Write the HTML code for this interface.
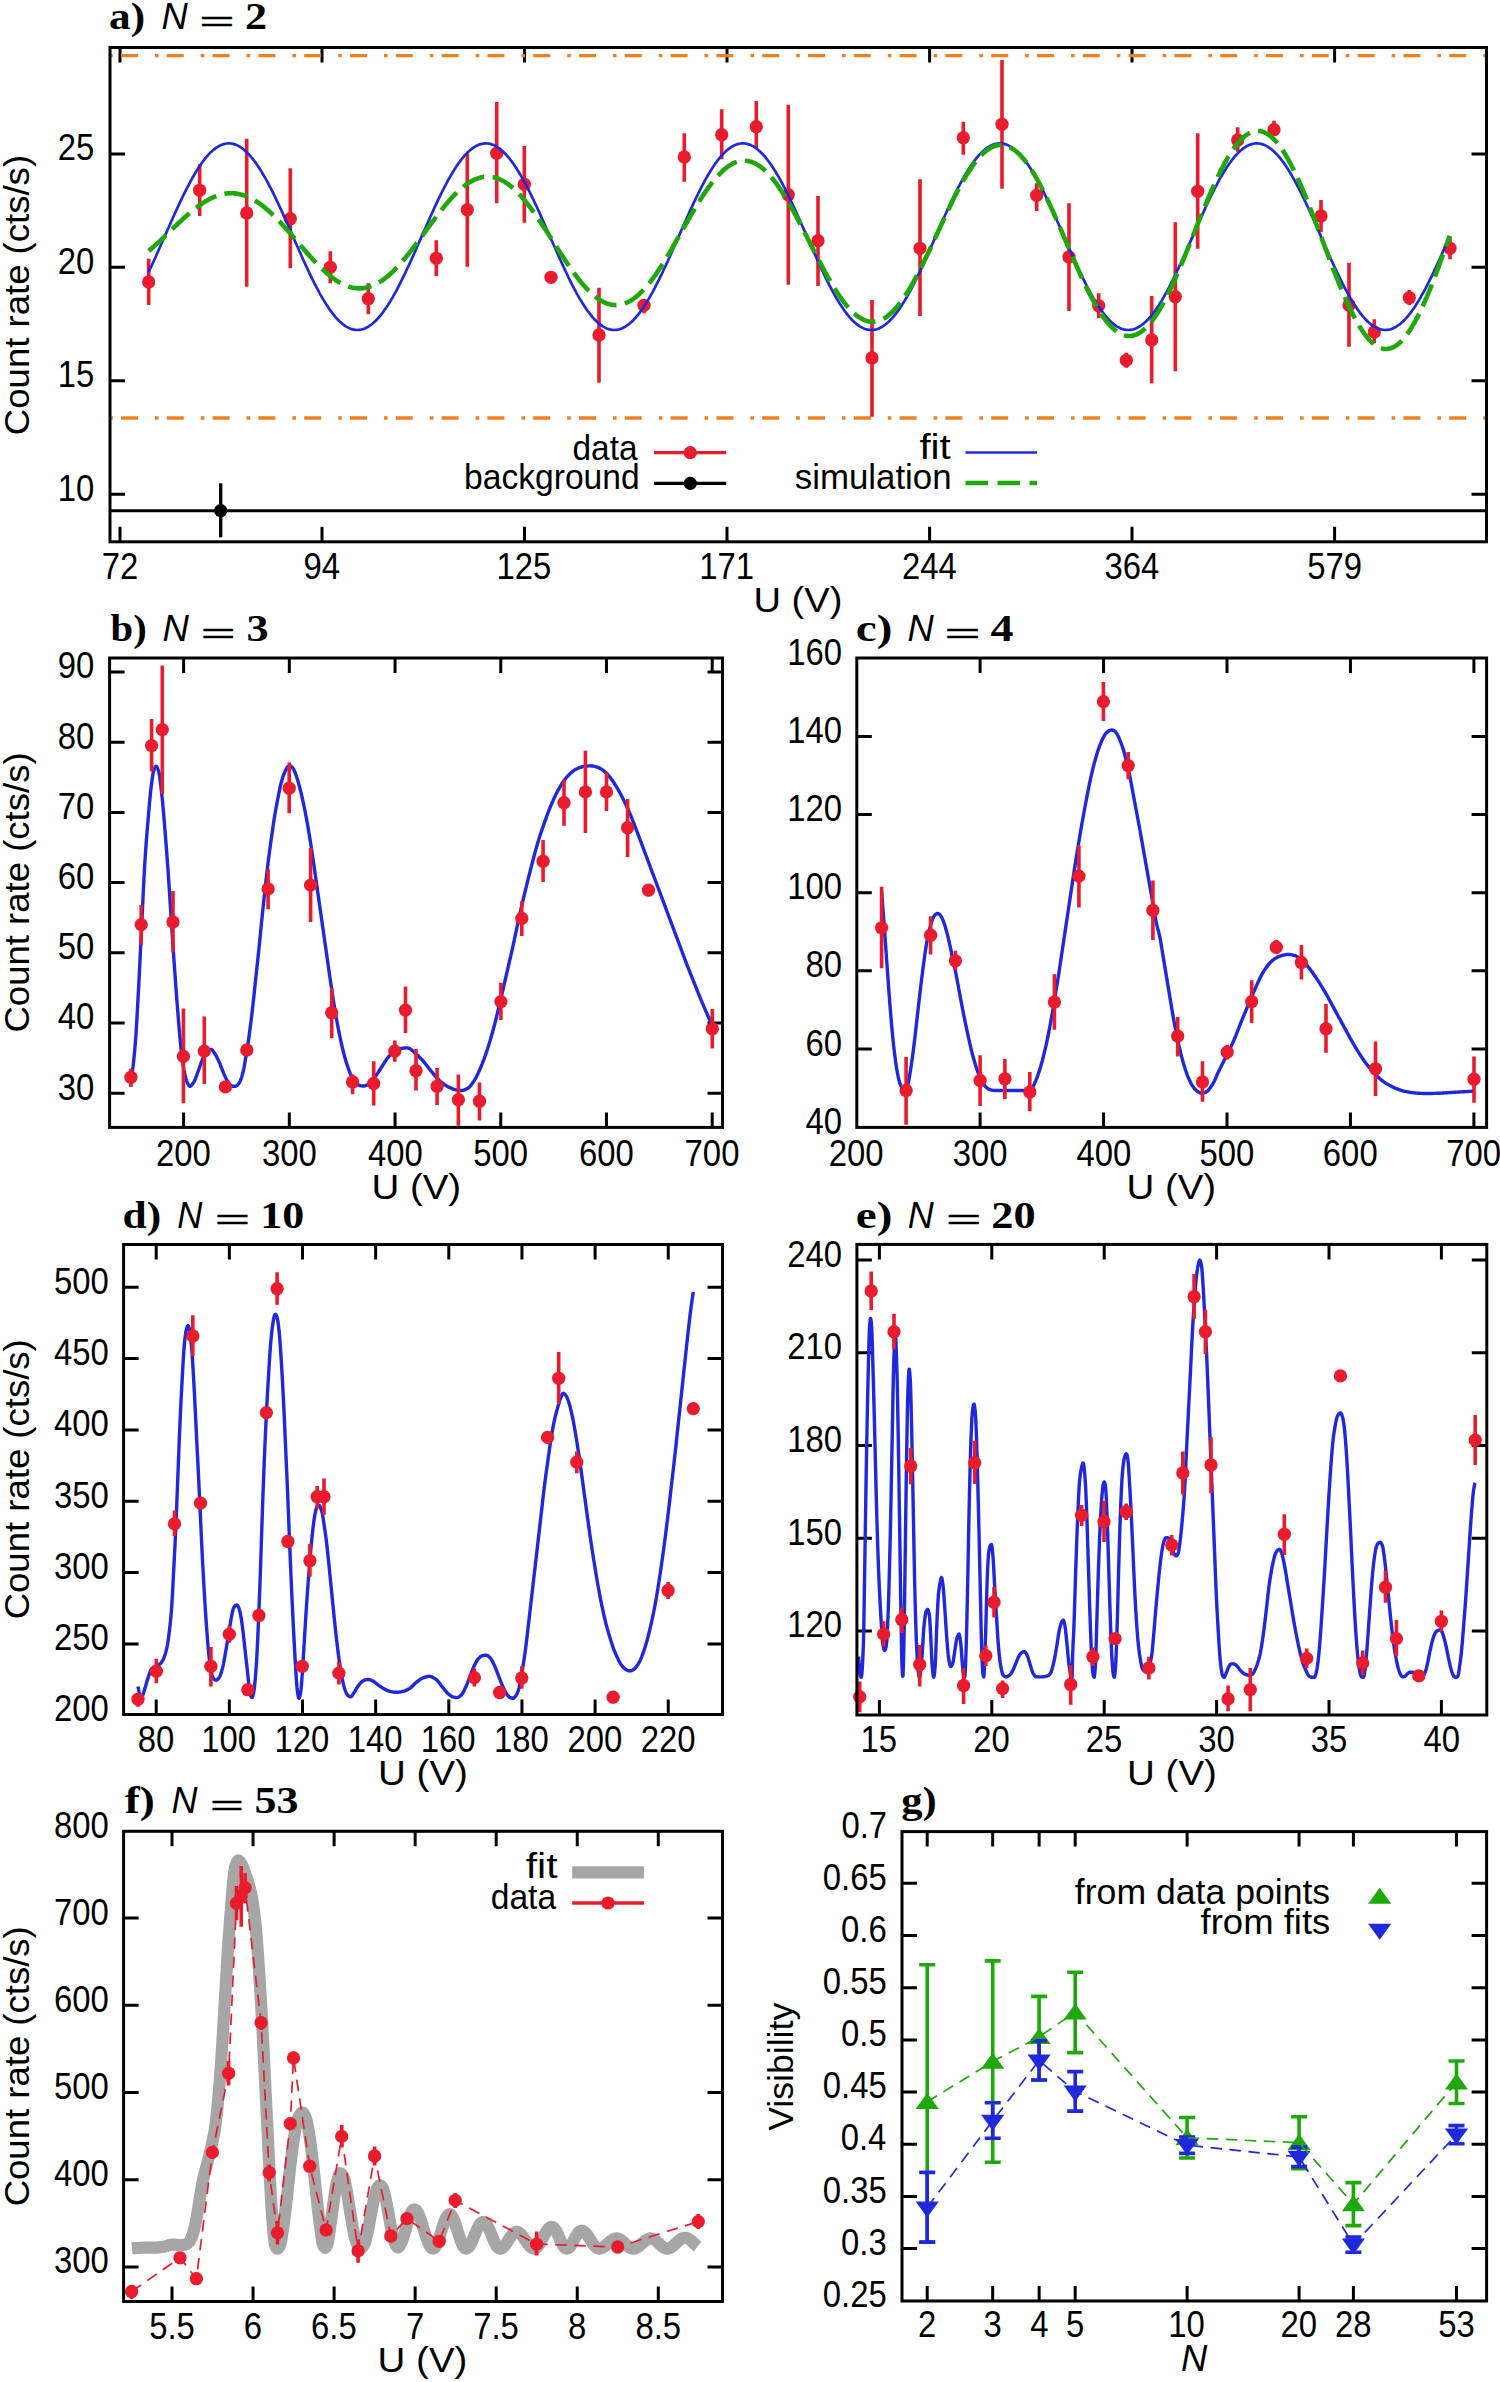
<!DOCTYPE html>
<html><head><meta charset="utf-8"><title>Figure</title>
<style>html,body{margin:0;padding:0;background:#fff}svg{display:block}text{white-space:pre}</style></head>
<body><svg width="1500" height="2382" viewBox="0 0 1500 2382">
<rect width="1500" height="2382" fill="#fff"/>
<path d="M120.00 541.80v-15M322.00 541.80v-15M524.50 541.80v-15M727.00 541.80v-15M929.60 541.80v-15M1132.00 541.80v-15M1334.60 541.80v-15M120.00 47.50v15M322.00 47.50v15M524.50 47.50v15M727.00 47.50v15M929.60 47.50v15M1132.00 47.50v15M1334.60 47.50v15M110.00 154.00h15M110.00 267.30h15M110.00 380.80h15M110.00 494.30h15M1486.50 154.00h-15M1486.50 267.30h-15M1486.50 380.80h-15M1486.50 494.30h-15" stroke="#000" stroke-width="3" fill="none"/>
<path d="M110.0 55.7H1486.5" stroke="#f0801f" stroke-width="3.3" stroke-dasharray="17 17 3.6 8.2" stroke-dashoffset="34.8" fill="none"/>
<path d="M110.0 418.0H1486.5" stroke="#f0801f" stroke-width="3.3" stroke-dasharray="17 17 3.6 8.2" stroke-dashoffset="34.8" fill="none"/>
<path d="M110.0 510.7H1486.5" stroke="#000" stroke-width="3.0" fill="none"/>
<path d="M220.7 483.3V537.3" stroke="#000" stroke-width="3.3" fill="none"/>
<circle cx="220.7" cy="510.7" r="6.6" fill="#000"/>
<path d="M148.7 258.7V305.0M199.7 164.3V216.0M246.7 138.7V286.7M290.3 168.3V268.3M330.3 251.3V283.3M368.3 283.3V314.3M436.3 240.3V276.0M467.3 153.3V266.7M496.7 102.0V203.3M524.3 146.0V222.7M599.0 287.7V382.7M644.0 300.0V313.3M684.3 133.3V181.7M721.7 109.3V159.3M756.3 101.0V148.3M788.3 104.7V284.7M818.0 196.0V286.0M872.0 300.0V416.7M920.0 179.3V316.0M963.3 121.7V154.7M1002.0 60.0V188.7M1036.7 183.3V211.0M1069.0 203.3V311.0M1098.7 293.3V318.3M1126.3 352.7V367.7M1151.7 296.0V383.3M1175.3 222.3V371.3M1197.7 133.3V248.7M1237.7 127.3V151.7M1274.0 120.7V136.0M1321.0 200.0V232.0M1349.0 262.7V346.7M1374.3 319.3V343.3M1409.3 290.0V305.0M1450.0 236.7V259.3" stroke="#ea1b2d" stroke-width="3.6" fill="none"/>
<circle cx="148.7" cy="282.0" r="6.65" fill="#ea1b2d"/>
<circle cx="199.7" cy="190.3" r="6.65" fill="#ea1b2d"/>
<circle cx="246.7" cy="213.0" r="6.65" fill="#ea1b2d"/>
<circle cx="290.3" cy="218.7" r="6.65" fill="#ea1b2d"/>
<circle cx="330.3" cy="267.3" r="6.65" fill="#ea1b2d"/>
<circle cx="368.3" cy="298.7" r="6.65" fill="#ea1b2d"/>
<circle cx="436.3" cy="258.3" r="6.65" fill="#ea1b2d"/>
<circle cx="467.3" cy="209.7" r="6.65" fill="#ea1b2d"/>
<circle cx="496.7" cy="153.3" r="6.65" fill="#ea1b2d"/>
<circle cx="524.3" cy="184.3" r="6.65" fill="#ea1b2d"/>
<circle cx="551.0" cy="277.3" r="6.65" fill="#ea1b2d"/>
<circle cx="599.0" cy="335.0" r="6.65" fill="#ea1b2d"/>
<circle cx="644.0" cy="305.3" r="6.65" fill="#ea1b2d"/>
<circle cx="684.3" cy="157.0" r="6.65" fill="#ea1b2d"/>
<circle cx="721.7" cy="134.7" r="6.65" fill="#ea1b2d"/>
<circle cx="756.3" cy="126.7" r="6.65" fill="#ea1b2d"/>
<circle cx="788.3" cy="194.7" r="6.65" fill="#ea1b2d"/>
<circle cx="818.0" cy="240.7" r="6.65" fill="#ea1b2d"/>
<circle cx="872.0" cy="358.0" r="6.65" fill="#ea1b2d"/>
<circle cx="920.0" cy="248.3" r="6.65" fill="#ea1b2d"/>
<circle cx="963.3" cy="137.7" r="6.65" fill="#ea1b2d"/>
<circle cx="1002.0" cy="124.3" r="6.65" fill="#ea1b2d"/>
<circle cx="1036.7" cy="195.3" r="6.65" fill="#ea1b2d"/>
<circle cx="1069.0" cy="257.0" r="6.65" fill="#ea1b2d"/>
<circle cx="1098.7" cy="305.7" r="6.65" fill="#ea1b2d"/>
<circle cx="1126.3" cy="360.3" r="6.65" fill="#ea1b2d"/>
<circle cx="1151.7" cy="340.0" r="6.65" fill="#ea1b2d"/>
<circle cx="1175.3" cy="296.7" r="6.65" fill="#ea1b2d"/>
<circle cx="1197.7" cy="191.3" r="6.65" fill="#ea1b2d"/>
<circle cx="1237.7" cy="140.0" r="6.65" fill="#ea1b2d"/>
<circle cx="1274.0" cy="129.7" r="6.65" fill="#ea1b2d"/>
<circle cx="1321.0" cy="216.0" r="6.65" fill="#ea1b2d"/>
<circle cx="1349.0" cy="305.0" r="6.65" fill="#ea1b2d"/>
<circle cx="1374.3" cy="332.0" r="6.65" fill="#ea1b2d"/>
<circle cx="1409.3" cy="297.7" r="6.65" fill="#ea1b2d"/>
<circle cx="1450.0" cy="248.3" r="6.65" fill="#ea1b2d"/>
<path d="M148.7 272.0L149.7 269.8L150.7 267.7L151.7 265.5L152.7 263.4L153.7 261.2L154.7 259.0L155.7 256.7L156.7 254.5L157.7 252.3L158.7 250.0L159.7 247.7L160.7 245.5L161.7 243.2L162.7 240.9L163.7 238.6L164.7 236.4L165.7 234.1L166.7 231.8L167.7 229.5L168.7 227.3L169.7 225.0L170.7 222.7L171.7 220.5L172.7 218.2L173.7 216.0L174.7 213.8L175.7 211.6L176.7 209.4L177.7 207.2L178.7 205.1L179.7 202.9L180.7 200.8L181.7 198.7L182.7 196.6L183.7 194.6L184.7 192.6L185.7 190.6L186.7 188.6L187.7 186.7L188.7 184.8L189.7 182.9L190.7 181.0L191.7 179.2L192.7 177.4L193.7 175.7L194.7 174.0L195.7 172.3L196.7 170.7L197.7 169.1L198.7 167.5L199.7 166.0L200.7 164.6L201.7 163.1L202.7 161.8L203.7 160.4L204.7 159.1L205.7 157.9L206.7 156.7L207.7 155.5L208.7 154.4L209.7 153.4L210.7 152.4L211.7 151.4L212.7 150.5L213.7 149.7L214.7 148.9L215.7 148.1L216.7 147.5L217.7 146.8L218.7 146.2L219.7 145.7L220.7 145.2L221.7 144.8L222.7 144.4L223.7 144.1L224.7 143.9L225.7 143.7L226.7 143.5L227.7 143.4L228.7 143.4L229.7 143.4L230.7 143.5L231.7 143.6L232.7 143.8L233.7 144.1L234.7 144.4L235.7 144.7L236.7 145.1L237.7 145.6L238.7 146.1L239.7 146.7L240.7 147.3L241.7 148.0L242.7 148.7L243.7 149.5L244.7 150.4L245.7 151.3L246.7 152.2L247.7 153.2L248.7 154.2L249.7 155.3L250.7 156.5L251.7 157.6L252.7 158.9L253.7 160.2L254.7 161.5L255.7 162.9L256.7 164.3L257.7 165.7L258.7 167.2L259.7 168.8L260.7 170.4L261.7 172.0L262.7 173.7L263.7 175.4L264.7 177.1L265.7 178.9L266.7 180.7L267.7 182.5L268.7 184.4L269.7 186.3L270.7 188.2L271.7 190.2L272.7 192.2L273.7 194.2L274.7 196.2L275.7 198.3L276.7 200.4L277.7 202.5L278.7 204.6L279.7 206.8L280.7 209.0L281.7 211.1L282.7 213.3L283.7 215.6L284.7 217.8L285.7 220.0L286.7 222.3L287.7 224.5L288.7 226.8L289.7 229.1L290.7 231.3L291.7 233.6L292.7 235.9L293.7 238.2L294.7 240.5L295.7 242.7L296.7 245.0L297.7 247.3L298.7 249.5L299.7 251.8L300.7 254.0L301.7 256.3L302.7 258.5L303.7 260.7L304.7 262.9L305.7 265.1L306.7 267.3L307.7 269.4L308.7 271.5L309.7 273.6L310.7 275.7L311.7 277.8L312.7 279.8L313.7 281.8L314.7 283.8L315.7 285.8L316.7 287.7L317.7 289.6L318.7 291.4L319.7 293.3L320.7 295.1L321.7 296.8L322.7 298.6L323.7 300.3L324.7 301.9L325.7 303.5L326.7 305.1L327.7 306.6L328.7 308.1L329.7 309.6L330.7 311.0L331.7 312.3L332.7 313.6L333.7 314.9L334.7 316.1L335.7 317.3L336.7 318.4L337.7 319.5L338.7 320.5L339.7 321.5L340.7 322.4L341.7 323.3L342.7 324.1L343.7 324.9L344.7 325.6L345.7 326.3L346.7 326.9L347.7 327.4L348.7 327.9L349.7 328.4L350.7 328.8L351.7 329.1L352.7 329.4L353.7 329.6L354.7 329.8L355.7 329.9L356.7 330.0L357.7 330.0L358.7 329.9L359.7 329.8L360.7 329.7L361.7 329.5L362.7 329.2L363.7 328.9L364.7 328.5L365.7 328.0L366.7 327.5L367.7 327.0L368.7 326.4L369.7 325.7L370.7 325.0L371.7 324.3L372.7 323.5L373.7 322.6L374.7 321.7L375.7 320.7L376.7 319.7L377.7 318.6L378.7 317.5L379.7 316.4L380.7 315.1L381.7 313.9L382.7 312.6L383.7 311.2L384.7 309.8L385.7 308.4L386.7 306.9L387.7 305.4L388.7 303.8L389.7 302.2L390.7 300.6L391.7 298.9L392.7 297.2L393.7 295.4L394.7 293.6L395.7 291.8L396.7 290.0L397.7 288.1L398.7 286.2L399.7 284.2L400.7 282.2L401.7 280.2L402.7 278.2L403.7 276.1L404.7 274.1L405.7 272.0L406.7 269.8L407.7 267.7L408.7 265.5L409.7 263.4L410.7 261.2L411.7 259.0L412.7 256.7L413.7 254.5L414.7 252.3L415.7 250.0L416.7 247.7L417.7 245.5L418.7 243.2L419.7 240.9L420.7 238.6L421.7 236.4L422.7 234.1L423.7 231.8L424.7 229.5L425.7 227.3L426.7 225.0L427.7 222.7L428.7 220.5L429.7 218.2L430.7 216.0L431.7 213.8L432.7 211.6L433.7 209.4L434.7 207.2L435.7 205.1L436.7 202.9L437.7 200.8L438.7 198.7L439.7 196.6L440.7 194.6L441.7 192.6L442.7 190.6L443.7 188.6L444.7 186.7L445.7 184.8L446.7 182.9L447.7 181.0L448.7 179.2L449.7 177.4L450.7 175.7L451.7 174.0L452.7 172.3L453.7 170.7L454.7 169.1L455.7 167.5L456.7 166.0L457.7 164.6L458.7 163.1L459.7 161.8L460.7 160.4L461.7 159.1L462.7 157.9L463.7 156.7L464.7 155.5L465.7 154.4L466.7 153.4L467.7 152.4L468.7 151.4L469.7 150.5L470.7 149.7L471.7 148.9L472.7 148.1L473.7 147.5L474.7 146.8L475.7 146.2L476.7 145.7L477.7 145.2L478.7 144.8L479.7 144.4L480.7 144.1L481.7 143.9L482.7 143.7L483.7 143.5L484.7 143.4L485.7 143.4L486.7 143.4L487.7 143.5L488.7 143.6L489.7 143.8L490.7 144.1L491.7 144.4L492.7 144.7L493.7 145.1L494.7 145.6L495.7 146.1L496.7 146.7L497.7 147.3L498.7 148.0L499.7 148.7L500.7 149.5L501.7 150.4L502.7 151.3L503.7 152.2L504.7 153.2L505.7 154.2L506.7 155.3L507.7 156.5L508.7 157.6L509.7 158.9L510.7 160.2L511.7 161.5L512.7 162.9L513.7 164.3L514.7 165.7L515.7 167.2L516.7 168.8L517.7 170.4L518.7 172.0L519.7 173.7L520.7 175.4L521.7 177.1L522.7 178.9L523.7 180.7L524.7 182.5L525.7 184.4L526.7 186.3L527.7 188.2L528.7 190.2L529.7 192.2L530.7 194.2L531.7 196.2L532.7 198.3L533.7 200.4L534.7 202.5L535.7 204.6L536.7 206.8L537.7 209.0L538.7 211.1L539.7 213.3L540.7 215.6L541.7 217.8L542.7 220.0L543.7 222.3L544.7 224.5L545.7 226.8L546.7 229.1L547.7 231.3L548.7 233.6L549.7 235.9L550.7 238.2L551.7 240.5L552.7 242.7L553.7 245.0L554.7 247.3L555.7 249.5L556.7 251.8L557.7 254.0L558.7 256.3L559.7 258.5L560.7 260.7L561.7 262.9L562.7 265.1L563.7 267.3L564.7 269.4L565.7 271.5L566.7 273.6L567.7 275.7L568.7 277.8L569.7 279.8L570.7 281.8L571.7 283.8L572.7 285.8L573.7 287.7L574.7 289.6L575.7 291.4L576.7 293.3L577.7 295.1L578.7 296.8L579.7 298.6L580.7 300.3L581.7 301.9L582.7 303.5L583.7 305.1L584.7 306.6L585.7 308.1L586.7 309.6L587.7 311.0L588.7 312.3L589.7 313.6L590.7 314.9L591.7 316.1L592.7 317.3L593.7 318.4L594.7 319.5L595.7 320.5L596.7 321.5L597.7 322.4L598.7 323.3L599.7 324.1L600.7 324.9L601.7 325.6L602.7 326.3L603.7 326.9L604.7 327.4L605.7 327.9L606.7 328.4L607.7 328.8L608.7 329.1L609.7 329.4L610.7 329.6L611.7 329.8L612.7 329.9L613.7 330.0L614.7 330.0L615.7 329.9L616.7 329.8L617.7 329.7L618.7 329.5L619.7 329.2L620.7 328.9L621.7 328.5L622.7 328.0L623.7 327.5L624.7 327.0L625.7 326.4L626.7 325.7L627.7 325.0L628.7 324.3L629.7 323.5L630.7 322.6L631.7 321.7L632.7 320.7L633.7 319.7L634.7 318.6L635.7 317.5L636.7 316.4L637.7 315.1L638.7 313.9L639.7 312.6L640.7 311.2L641.7 309.8L642.7 308.4L643.7 306.9L644.7 305.4L645.7 303.8L646.7 302.2L647.7 300.6L648.7 298.9L649.7 297.2L650.7 295.4L651.7 293.6L652.7 291.8L653.7 290.0L654.7 288.1L655.7 286.2L656.7 284.2L657.7 282.2L658.7 280.2L659.7 278.2L660.7 276.1L661.7 274.1L662.7 272.0L663.7 269.8L664.7 267.7L665.7 265.5L666.7 263.4L667.7 261.2L668.7 259.0L669.7 256.7L670.7 254.5L671.7 252.3L672.7 250.0L673.7 247.7L674.7 245.5L675.7 243.2L676.7 240.9L677.7 238.6L678.7 236.4L679.7 234.1L680.7 231.8L681.7 229.5L682.7 227.3L683.7 225.0L684.7 222.7L685.7 220.5L686.7 218.2L687.7 216.0L688.7 213.8L689.7 211.6L690.7 209.4L691.7 207.2L692.7 205.1L693.7 202.9L694.7 200.8L695.7 198.7L696.7 196.6L697.7 194.6L698.7 192.6L699.7 190.6L700.7 188.6L701.7 186.7L702.7 184.8L703.7 182.9L704.7 181.0L705.7 179.2L706.7 177.4L707.7 175.7L708.7 174.0L709.7 172.3L710.7 170.7L711.7 169.1L712.7 167.5L713.7 166.0L714.7 164.6L715.7 163.1L716.7 161.8L717.7 160.4L718.7 159.1L719.7 157.9L720.7 156.7L721.7 155.5L722.7 154.4L723.7 153.4L724.7 152.4L725.7 151.4L726.7 150.5L727.7 149.7L728.7 148.9L729.7 148.1L730.7 147.5L731.7 146.8L732.7 146.2L733.7 145.7L734.7 145.2L735.7 144.8L736.7 144.4L737.7 144.1L738.7 143.9L739.7 143.7L740.7 143.5L741.7 143.4L742.7 143.4L743.7 143.4L744.7 143.5L745.7 143.6L746.7 143.8L747.7 144.1L748.7 144.4L749.7 144.7L750.7 145.1L751.7 145.6L752.7 146.1L753.7 146.7L754.7 147.3L755.7 148.0L756.7 148.7L757.7 149.5L758.7 150.4L759.7 151.3L760.7 152.2L761.7 153.2L762.7 154.2L763.7 155.3L764.7 156.5L765.7 157.6L766.7 158.9L767.7 160.2L768.7 161.5L769.7 162.9L770.7 164.3L771.7 165.7L772.7 167.2L773.7 168.8L774.7 170.4L775.7 172.0L776.7 173.7L777.7 175.4L778.7 177.1L779.7 178.9L780.7 180.7L781.7 182.5L782.7 184.4L783.7 186.3L784.7 188.2L785.7 190.2L786.7 192.2L787.7 194.2L788.7 196.2L789.7 198.3L790.7 200.4L791.7 202.5L792.7 204.6L793.7 206.8L794.7 209.0L795.7 211.1L796.7 213.3L797.7 215.6L798.7 217.8L799.7 220.0L800.7 222.3L801.7 224.5L802.7 226.8L803.7 229.1L804.7 231.3L805.7 233.6L806.7 235.9L807.7 238.2L808.7 240.5L809.7 242.7L810.7 245.0L811.7 247.3L812.7 249.5L813.7 251.8L814.7 254.0L815.7 256.3L816.7 258.5L817.7 260.7L818.7 262.9L819.7 265.1L820.7 267.3L821.7 269.4L822.7 271.5L823.7 273.6L824.7 275.7L825.7 277.8L826.7 279.8L827.7 281.8L828.7 283.8L829.7 285.8L830.7 287.7L831.7 289.6L832.7 291.4L833.7 293.3L834.7 295.1L835.7 296.8L836.7 298.6L837.7 300.3L838.7 301.9L839.7 303.5L840.7 305.1L841.7 306.6L842.7 308.1L843.7 309.6L844.7 311.0L845.7 312.3L846.7 313.6L847.7 314.9L848.7 316.1L849.7 317.3L850.7 318.4L851.7 319.5L852.7 320.5L853.7 321.5L854.7 322.4L855.7 323.3L856.7 324.1L857.7 324.9L858.7 325.6L859.7 326.3L860.7 326.9L861.7 327.4L862.7 327.9L863.7 328.4L864.7 328.8L865.7 329.1L866.7 329.4L867.7 329.6L868.7 329.8L869.7 329.9L870.7 330.0L871.7 330.0L872.7 329.9L873.7 329.8L874.7 329.7L875.7 329.5L876.7 329.2L877.7 328.9L878.7 328.5L879.7 328.0L880.7 327.5L881.7 327.0L882.7 326.4L883.7 325.7L884.7 325.0L885.7 324.3L886.7 323.5L887.7 322.6L888.7 321.7L889.7 320.7L890.7 319.7L891.7 318.6L892.7 317.5L893.7 316.4L894.7 315.1L895.7 313.9L896.7 312.6L897.7 311.2L898.7 309.8L899.7 308.4L900.7 306.9L901.7 305.4L902.7 303.8L903.7 302.2L904.7 300.6L905.7 298.9L906.7 297.2L907.7 295.4L908.7 293.6L909.7 291.8L910.7 290.0L911.7 288.1L912.7 286.2L913.7 284.2L914.7 282.2L915.7 280.2L916.7 278.2L917.7 276.1L918.7 274.1L919.7 272.0L920.7 269.8L921.7 267.7L922.7 265.5L923.7 263.4L924.7 261.2L925.7 259.0L926.7 256.7L927.7 254.5L928.7 252.3L929.7 250.0L930.7 247.7L931.7 245.5L932.7 243.2L933.7 240.9L934.7 238.6L935.7 236.4L936.7 234.1L937.7 231.8L938.7 229.5L939.7 227.3L940.7 225.0L941.7 222.7L942.7 220.5L943.7 218.2L944.7 216.0L945.7 213.8L946.7 211.6L947.7 209.4L948.7 207.2L949.7 205.1L950.7 202.9L951.7 200.8L952.7 198.7L953.7 196.6L954.7 194.6L955.7 192.6L956.7 190.6L957.7 188.6L958.7 186.7L959.7 184.8L960.7 182.9L961.7 181.0L962.7 179.2L963.7 177.4L964.7 175.7L965.7 174.0L966.7 172.3L967.7 170.7L968.7 169.1L969.7 167.5L970.7 166.0L971.7 164.6L972.7 163.1L973.7 161.8L974.7 160.4L975.7 159.1L976.7 157.9L977.7 156.7L978.7 155.5L979.7 154.4L980.7 153.4L981.7 152.4L982.7 151.4L983.7 150.5L984.7 149.7L985.7 148.9L986.7 148.1L987.7 147.5L988.7 146.8L989.7 146.2L990.7 145.7L991.7 145.2L992.7 144.8L993.7 144.4L994.7 144.1L995.7 143.9L996.7 143.7L997.7 143.5L998.7 143.4L999.7 143.4L1000.7 143.4L1001.7 143.5L1002.7 143.6L1003.7 143.8L1004.7 144.1L1005.7 144.4L1006.7 144.7L1007.7 145.1L1008.7 145.6L1009.7 146.1L1010.7 146.7L1011.7 147.3L1012.7 148.0L1013.7 148.7L1014.7 149.5L1015.7 150.4L1016.7 151.3L1017.7 152.2L1018.7 153.2L1019.7 154.2L1020.7 155.3L1021.7 156.5L1022.7 157.6L1023.7 158.9L1024.7 160.2L1025.7 161.5L1026.7 162.9L1027.7 164.3L1028.7 165.7L1029.7 167.2L1030.7 168.8L1031.7 170.4L1032.7 172.0L1033.7 173.7L1034.7 175.4L1035.7 177.1L1036.7 178.9L1037.7 180.7L1038.7 182.5L1039.7 184.4L1040.7 186.3L1041.7 188.2L1042.7 190.2L1043.7 192.2L1044.7 194.2L1045.7 196.2L1046.7 198.3L1047.7 200.4L1048.7 202.5L1049.7 204.6L1050.7 206.8L1051.7 209.0L1052.7 211.1L1053.7 213.3L1054.7 215.6L1055.7 217.8L1056.7 220.0L1057.7 222.3L1058.7 224.5L1059.7 226.8L1060.7 229.1L1061.7 231.3L1062.7 233.6L1063.7 235.9L1064.7 238.2L1065.7 240.5L1066.7 242.7L1067.7 245.0L1068.7 247.3L1069.7 249.5L1070.7 251.8L1071.7 254.0L1072.7 256.3L1073.7 258.5L1074.7 260.7L1075.7 262.9L1076.7 265.1L1077.7 267.3L1078.7 269.4L1079.7 271.5L1080.7 273.6L1081.7 275.7L1082.7 277.8L1083.7 279.8L1084.7 281.8L1085.7 283.8L1086.7 285.8L1087.7 287.7L1088.7 289.6L1089.7 291.4L1090.7 293.3L1091.7 295.1L1092.7 296.8L1093.7 298.6L1094.7 300.3L1095.7 301.9L1096.7 303.5L1097.7 305.1L1098.7 306.6L1099.7 308.1L1100.7 309.6L1101.7 311.0L1102.7 312.3L1103.7 313.6L1104.7 314.9L1105.7 316.1L1106.7 317.3L1107.7 318.4L1108.7 319.5L1109.7 320.5L1110.7 321.5L1111.7 322.4L1112.7 323.3L1113.7 324.1L1114.7 324.9L1115.7 325.6L1116.7 326.3L1117.7 326.9L1118.7 327.4L1119.7 327.9L1120.7 328.4L1121.7 328.8L1122.7 329.1L1123.7 329.4L1124.7 329.6L1125.7 329.8L1126.7 329.9L1127.7 330.0L1128.7 330.0L1129.7 329.9L1130.7 329.8L1131.7 329.7L1132.7 329.5L1133.7 329.2L1134.7 328.9L1135.7 328.5L1136.7 328.0L1137.7 327.5L1138.7 327.0L1139.7 326.4L1140.7 325.7L1141.7 325.0L1142.7 324.3L1143.7 323.5L1144.7 322.6L1145.7 321.7L1146.7 320.7L1147.7 319.7L1148.7 318.6L1149.7 317.5L1150.7 316.4L1151.7 315.1L1152.7 313.9L1153.7 312.6L1154.7 311.2L1155.7 309.8L1156.7 308.4L1157.7 306.9L1158.7 305.4L1159.7 303.8L1160.7 302.2L1161.7 300.6L1162.7 298.9L1163.7 297.2L1164.7 295.4L1165.7 293.6L1166.7 291.8L1167.7 290.0L1168.7 288.1L1169.7 286.2L1170.7 284.2L1171.7 282.2L1172.7 280.2L1173.7 278.2L1174.7 276.1L1175.7 274.1L1176.7 272.0L1177.7 269.8L1178.7 267.7L1179.7 265.5L1180.7 263.4L1181.7 261.2L1182.7 259.0L1183.7 256.7L1184.7 254.5L1185.7 252.3L1186.7 250.0L1187.7 247.7L1188.7 245.5L1189.7 243.2L1190.7 240.9L1191.7 238.6L1192.7 236.4L1193.7 234.1L1194.7 231.8L1195.7 229.5L1196.7 227.3L1197.7 225.0L1198.7 222.7L1199.7 220.5L1200.7 218.2L1201.7 216.0L1202.7 213.8L1203.7 211.6L1204.7 209.4L1205.7 207.2L1206.7 205.1L1207.7 202.9L1208.7 200.8L1209.7 198.7L1210.7 196.6L1211.7 194.6L1212.7 192.6L1213.7 190.6L1214.7 188.6L1215.7 186.7L1216.7 184.8L1217.7 182.9L1218.7 181.0L1219.7 179.2L1220.7 177.4L1221.7 175.7L1222.7 174.0L1223.7 172.3L1224.7 170.7L1225.7 169.1L1226.7 167.5L1227.7 166.0L1228.7 164.6L1229.7 163.1L1230.7 161.8L1231.7 160.4L1232.7 159.1L1233.7 157.9L1234.7 156.7L1235.7 155.5L1236.7 154.4L1237.7 153.4L1238.7 152.4L1239.7 151.4L1240.7 150.5L1241.7 149.7L1242.7 148.9L1243.7 148.1L1244.7 147.5L1245.7 146.8L1246.7 146.2L1247.7 145.7L1248.7 145.2L1249.7 144.8L1250.7 144.4L1251.7 144.1L1252.7 143.9L1253.7 143.7L1254.7 143.5L1255.7 143.4L1256.7 143.4L1257.7 143.4L1258.7 143.5L1259.7 143.6L1260.7 143.8L1261.7 144.1L1262.7 144.4L1263.7 144.7L1264.7 145.1L1265.7 145.6L1266.7 146.1L1267.7 146.7L1268.7 147.3L1269.7 148.0L1270.7 148.7L1271.7 149.5L1272.7 150.4L1273.7 151.3L1274.7 152.2L1275.7 153.2L1276.7 154.2L1277.7 155.3L1278.7 156.5L1279.7 157.6L1280.7 158.9L1281.7 160.2L1282.7 161.5L1283.7 162.9L1284.7 164.3L1285.7 165.7L1286.7 167.2L1287.7 168.8L1288.7 170.4L1289.7 172.0L1290.7 173.7L1291.7 175.4L1292.7 177.1L1293.7 178.9L1294.7 180.7L1295.7 182.5L1296.7 184.4L1297.7 186.3L1298.7 188.2L1299.7 190.2L1300.7 192.2L1301.7 194.2L1302.7 196.2L1303.7 198.3L1304.7 200.4L1305.7 202.5L1306.7 204.6L1307.7 206.8L1308.7 209.0L1309.7 211.1L1310.7 213.3L1311.7 215.6L1312.7 217.8L1313.7 220.0L1314.7 222.3L1315.7 224.5L1316.7 226.8L1317.7 229.1L1318.7 231.3L1319.7 233.6L1320.7 235.9L1321.7 238.2L1322.7 240.5L1323.7 242.7L1324.7 245.0L1325.7 247.3L1326.7 249.5L1327.7 251.8L1328.7 254.0L1329.7 256.3L1330.7 258.5L1331.7 260.7L1332.7 262.9L1333.7 265.1L1334.7 267.3L1335.7 269.4L1336.7 271.5L1337.7 273.6L1338.7 275.7L1339.7 277.8L1340.7 279.8L1341.7 281.8L1342.7 283.8L1343.7 285.8L1344.7 287.7L1345.7 289.6L1346.7 291.4L1347.7 293.3L1348.7 295.1L1349.7 296.8L1350.7 298.6L1351.7 300.3L1352.7 301.9L1353.7 303.5L1354.7 305.1L1355.7 306.6L1356.7 308.1L1357.7 309.6L1358.7 311.0L1359.7 312.3L1360.7 313.6L1361.7 314.9L1362.7 316.1L1363.7 317.3L1364.7 318.4L1365.7 319.5L1366.7 320.5L1367.7 321.5L1368.7 322.4L1369.7 323.3L1370.7 324.1L1371.7 324.9L1372.7 325.6L1373.7 326.3L1374.7 326.9L1375.7 327.4L1376.7 327.9L1377.7 328.4L1378.7 328.8L1379.7 329.1L1380.7 329.4L1381.7 329.6L1382.7 329.8L1383.7 329.9L1384.7 330.0L1385.7 330.0L1386.7 329.9L1387.7 329.8L1388.7 329.7L1389.7 329.5L1390.7 329.2L1391.7 328.9L1392.7 328.5L1393.7 328.0L1394.7 327.5L1395.7 327.0L1396.7 326.4L1397.7 325.7L1398.7 325.0L1399.7 324.3L1400.7 323.5L1401.7 322.6L1402.7 321.7L1403.7 320.7L1404.7 319.7L1405.7 318.6L1406.7 317.5L1407.7 316.4L1408.7 315.1L1409.7 313.9L1410.7 312.6L1411.7 311.2L1412.7 309.8L1413.7 308.4L1414.7 306.9L1415.7 305.4L1416.7 303.8L1417.7 302.2L1418.7 300.6L1419.7 298.9L1420.7 297.2L1421.7 295.4L1422.7 293.6L1423.7 291.8L1424.7 290.0L1425.7 288.1L1426.7 286.2L1427.7 284.2L1428.7 282.2L1429.7 280.2L1430.7 278.2L1431.7 276.1L1432.7 274.1L1433.7 272.0L1434.7 269.8L1435.7 267.7L1436.7 265.5L1437.7 263.4L1438.7 261.2L1439.7 259.0L1440.7 256.7L1441.7 254.5L1442.7 252.3L1443.7 250.0L1444.7 247.7L1445.7 245.5L1446.7 243.2L1447.7 240.9L1448.7 238.6L1449.7 236.4" stroke="#1f28db" stroke-width="2.7" fill="none" stroke-linejoin="round"/>
<path d="M148.7 250.9L149.7 250.1L150.7 249.2L151.7 248.4L152.7 247.5L153.7 246.6L154.7 245.7L155.7 244.8L156.7 243.9L157.7 243.0L158.7 242.1L159.7 241.1L160.7 240.2L161.7 239.2L162.7 238.3L163.7 237.3L164.7 236.4L165.7 235.4L166.7 234.5L167.7 233.5L168.7 232.5L169.7 231.6L170.7 230.6L171.7 229.6L172.7 228.7L173.7 227.7L174.7 226.7L175.7 225.8L176.7 224.8L177.7 223.9L178.7 222.9L179.7 222.0L180.7 221.1L181.7 220.1L182.7 219.2L183.7 218.3L184.7 217.4L185.7 216.5L186.7 215.6L187.7 214.7L188.7 213.9L189.7 213.0L190.7 212.2L191.7 211.3L192.7 210.5L193.7 209.7L194.7 208.9L195.7 208.1L196.7 207.4L197.7 206.6L198.7 205.9L199.7 205.2L200.7 204.5L201.7 203.8L202.7 203.1L203.7 202.5L204.7 201.9L205.7 201.2L206.7 200.7L207.7 200.1L208.7 199.5L209.7 199.0L210.7 198.5L211.7 198.0L212.7 197.5L213.7 197.1L214.7 196.7L215.7 196.3L216.7 195.9L217.7 195.6L218.7 195.2L219.7 194.9L220.7 194.7L221.7 194.4L222.7 194.2L223.7 194.0L224.7 193.8L225.7 193.6L226.7 193.5L227.7 193.4L228.7 193.3L229.7 193.3L230.7 193.2L231.7 193.2L232.7 193.3L233.7 193.3L234.7 193.4L235.7 193.5L236.7 193.6L237.7 193.8L238.7 194.0L239.7 194.2L240.7 194.4L241.7 194.7L242.7 195.0L243.7 195.3L244.7 195.6L245.7 196.0L246.7 196.4L247.7 196.8L248.7 197.2L249.7 197.7L250.7 198.2L251.7 198.7L252.7 199.3L253.7 199.8L254.7 200.4L255.7 201.0L256.7 201.7L257.7 202.3L258.7 203.0L259.7 203.7L260.7 204.4L261.7 205.2L262.7 205.9L263.7 206.7L264.7 207.5L265.7 208.4L266.7 209.2L267.7 210.1L268.7 210.9L269.7 211.9L270.7 212.8L271.7 213.7L272.7 214.7L273.7 215.6L274.7 216.6L275.7 217.6L276.7 218.6L277.7 219.7L278.7 220.7L279.7 221.7L280.7 222.8L281.7 223.9L282.7 225.0L283.7 226.1L284.7 227.2L285.7 228.3L286.7 229.4L287.7 230.5L288.7 231.7L289.7 232.8L290.7 234.0L291.7 235.1L292.7 236.3L293.7 237.4L294.7 238.6L295.7 239.8L296.7 240.9L297.7 242.1L298.7 243.3L299.7 244.4L300.7 245.6L301.7 246.8L302.7 247.9L303.7 249.1L304.7 250.2L305.7 251.4L306.7 252.5L307.7 253.7L308.7 254.8L309.7 255.9L310.7 257.0L311.7 258.1L312.7 259.2L313.7 260.3L314.7 261.4L315.7 262.4L316.7 263.5L317.7 264.5L318.7 265.5L319.7 266.5L320.7 267.5L321.7 268.5L322.7 269.4L323.7 270.4L324.7 271.3L325.7 272.2L326.7 273.1L327.7 273.9L328.7 274.8L329.7 275.6L330.7 276.4L331.7 277.2L332.7 277.9L333.7 278.7L334.7 279.4L335.7 280.1L336.7 280.7L337.7 281.4L338.7 282.0L339.7 282.6L340.7 283.1L341.7 283.7L342.7 284.2L343.7 284.7L344.7 285.1L345.7 285.5L346.7 285.9L347.7 286.3L348.7 286.6L349.7 286.9L350.7 287.2L351.7 287.5L352.7 287.7L353.7 287.9L354.7 288.0L355.7 288.2L356.7 288.3L357.7 288.3L358.7 288.4L359.7 288.4L360.7 288.4L361.7 288.3L362.7 288.2L363.7 288.1L364.7 287.9L365.7 287.8L366.7 287.6L367.7 287.3L368.7 287.0L369.7 286.7L370.7 286.4L371.7 286.0L372.7 285.6L373.7 285.2L374.7 284.7L375.7 284.3L376.7 283.7L377.7 283.2L378.7 282.6L379.7 282.0L380.7 281.4L381.7 280.7L382.7 280.0L383.7 279.3L384.7 278.6L385.7 277.8L386.7 277.0L387.7 276.2L388.7 275.3L389.7 274.4L390.7 273.5L391.7 272.6L392.7 271.6L393.7 270.7L394.7 269.7L395.7 268.7L396.7 267.6L397.7 266.6L398.7 265.5L399.7 264.4L400.7 263.3L401.7 262.1L402.7 261.0L403.7 259.8L404.7 258.6L405.7 257.4L406.7 256.2L407.7 254.9L408.7 253.7L409.7 252.4L410.7 251.1L411.7 249.8L412.7 248.5L413.7 247.2L414.7 245.9L415.7 244.6L416.7 243.2L417.7 241.9L418.7 240.5L419.7 239.2L420.7 237.8L421.7 236.5L422.7 235.1L423.7 233.7L424.7 232.4L425.7 231.0L426.7 229.6L427.7 228.2L428.7 226.9L429.7 225.5L430.7 224.2L431.7 222.8L432.7 221.4L433.7 220.1L434.7 218.8L435.7 217.4L436.7 216.1L437.7 214.8L438.7 213.5L439.7 212.2L440.7 210.9L441.7 209.7L442.7 208.4L443.7 207.2L444.7 205.9L445.7 204.7L446.7 203.5L447.7 202.4L448.7 201.2L449.7 200.1L450.7 198.9L451.7 197.8L452.7 196.8L453.7 195.7L454.7 194.7L455.7 193.7L456.7 192.7L457.7 191.7L458.7 190.8L459.7 189.9L460.7 189.0L461.7 188.1L462.7 187.3L463.7 186.5L464.7 185.7L465.7 184.9L466.7 184.2L467.7 183.5L468.7 182.9L469.7 182.2L470.7 181.6L471.7 181.1L472.7 180.6L473.7 180.1L474.7 179.6L475.7 179.2L476.7 178.8L477.7 178.4L478.7 178.1L479.7 177.8L480.7 177.5L481.7 177.3L482.7 177.1L483.7 176.9L484.7 176.8L485.7 176.7L486.7 176.7L487.7 176.7L488.7 176.7L489.7 176.7L490.7 176.8L491.7 177.0L492.7 177.1L493.7 177.3L494.7 177.6L495.7 177.9L496.7 178.2L497.7 178.5L498.7 178.9L499.7 179.3L500.7 179.8L501.7 180.3L502.7 180.8L503.7 181.3L504.7 181.9L505.7 182.6L506.7 183.2L507.7 183.9L508.7 184.6L509.7 185.4L510.7 186.2L511.7 187.0L512.7 187.9L513.7 188.8L514.7 189.7L515.7 190.6L516.7 191.6L517.7 192.6L518.7 193.7L519.7 194.7L520.7 195.8L521.7 196.9L522.7 198.1L523.7 199.2L524.7 200.4L525.7 201.7L526.7 202.9L527.7 204.2L528.7 205.5L529.7 206.8L530.7 208.1L531.7 209.4L532.7 210.8L533.7 212.2L534.7 213.6L535.7 215.0L536.7 216.5L537.7 217.9L538.7 219.4L539.7 220.9L540.7 222.4L541.7 223.9L542.7 225.4L543.7 226.9L544.7 228.4L545.7 230.0L546.7 231.5L547.7 233.1L548.7 234.6L549.7 236.2L550.7 237.8L551.7 239.3L552.7 240.9L553.7 242.5L554.7 244.1L555.7 245.6L556.7 247.2L557.7 248.8L558.7 250.3L559.7 251.9L560.7 253.4L561.7 255.0L562.7 256.5L563.7 258.0L564.7 259.6L565.7 261.1L566.7 262.6L567.7 264.1L568.7 265.5L569.7 267.0L570.7 268.4L571.7 269.8L572.7 271.2L573.7 272.6L574.7 274.0L575.7 275.4L576.7 276.7L577.7 278.0L578.7 279.3L579.7 280.5L580.7 281.8L581.7 283.0L582.7 284.2L583.7 285.3L584.7 286.5L585.7 287.6L586.7 288.7L587.7 289.7L588.7 290.7L589.7 291.7L590.7 292.7L591.7 293.6L592.7 294.5L593.7 295.4L594.7 296.2L595.7 297.0L596.7 297.8L597.7 298.5L598.7 299.2L599.7 299.8L600.7 300.4L601.7 301.0L602.7 301.6L603.7 302.1L604.7 302.5L605.7 303.0L606.7 303.4L607.7 303.7L608.7 304.0L609.7 304.3L610.7 304.5L611.7 304.7L612.7 304.9L613.7 305.0L614.7 305.0L615.7 305.1L616.7 305.1L617.7 305.0L618.7 304.9L619.7 304.8L620.7 304.6L621.7 304.4L622.7 304.1L623.7 303.8L624.7 303.5L625.7 303.1L626.7 302.7L627.7 302.2L628.7 301.7L629.7 301.2L630.7 300.6L631.7 300.0L632.7 299.3L633.7 298.6L634.7 297.9L635.7 297.1L636.7 296.3L637.7 295.5L638.7 294.6L639.7 293.7L640.7 292.7L641.7 291.7L642.7 290.7L643.7 289.6L644.7 288.5L645.7 287.4L646.7 286.2L647.7 285.0L648.7 283.8L649.7 282.6L650.7 281.3L651.7 280.0L652.7 278.6L653.7 277.3L654.7 275.9L655.7 274.5L656.7 273.0L657.7 271.5L658.7 270.0L659.7 268.5L660.7 267.0L661.7 265.4L662.7 263.9L663.7 262.3L664.7 260.7L665.7 259.0L666.7 257.4L667.7 255.7L668.7 254.0L669.7 252.3L670.7 250.6L671.7 248.9L672.7 247.2L673.7 245.5L674.7 243.7L675.7 242.0L676.7 240.2L677.7 238.5L678.7 236.7L679.7 234.9L680.7 233.2L681.7 231.4L682.7 229.6L683.7 227.9L684.7 226.1L685.7 224.3L686.7 222.6L687.7 220.8L688.7 219.1L689.7 217.3L690.7 215.6L691.7 213.9L692.7 212.2L693.7 210.5L694.7 208.8L695.7 207.1L696.7 205.5L697.7 203.8L698.7 202.2L699.7 200.6L700.7 199.0L701.7 197.5L702.7 195.9L703.7 194.4L704.7 192.9L705.7 191.4L706.7 190.0L707.7 188.5L708.7 187.1L709.7 185.8L710.7 184.4L711.7 183.1L712.7 181.8L713.7 180.6L714.7 179.4L715.7 178.2L716.7 177.0L717.7 175.9L718.7 174.8L719.7 173.8L720.7 172.8L721.7 171.8L722.7 170.8L723.7 169.9L724.7 169.1L725.7 168.3L726.7 167.5L727.7 166.7L728.7 166.0L729.7 165.4L730.7 164.7L731.7 164.2L732.7 163.6L733.7 163.1L734.7 162.7L735.7 162.3L736.7 161.9L737.7 161.6L738.7 161.3L739.7 161.1L740.7 160.9L741.7 160.8L742.7 160.7L743.7 160.7L744.7 160.7L745.7 160.7L746.7 160.8L747.7 161.0L748.7 161.1L749.7 161.4L750.7 161.7L751.7 162.0L752.7 162.3L753.7 162.8L754.7 163.2L755.7 163.7L756.7 164.3L757.7 164.9L758.7 165.5L759.7 166.2L760.7 166.9L761.7 167.7L762.7 168.5L763.7 169.4L764.7 170.2L765.7 171.2L766.7 172.2L767.7 173.2L768.7 174.2L769.7 175.3L770.7 176.5L771.7 177.7L772.7 178.9L773.7 180.1L774.7 181.4L775.7 182.7L776.7 184.1L777.7 185.5L778.7 186.9L779.7 188.4L780.7 189.9L781.7 191.4L782.7 192.9L783.7 194.5L784.7 196.1L785.7 197.7L786.7 199.4L787.7 201.1L788.7 202.8L789.7 204.5L790.7 206.3L791.7 208.1L792.7 209.9L793.7 211.7L794.7 213.5L795.7 215.4L796.7 217.2L797.7 219.1L798.7 221.0L799.7 222.9L800.7 224.8L801.7 226.8L802.7 228.7L803.7 230.7L804.7 232.6L805.7 234.6L806.7 236.5L807.7 238.5L808.7 240.5L809.7 242.5L810.7 244.4L811.7 246.4L812.7 248.4L813.7 250.3L814.7 252.3L815.7 254.2L816.7 256.2L817.7 258.1L818.7 260.1L819.7 262.0L820.7 263.9L821.7 265.8L822.7 267.7L823.7 269.5L824.7 271.4L825.7 273.2L826.7 275.0L827.7 276.8L828.7 278.6L829.7 280.3L830.7 282.0L831.7 283.7L832.7 285.4L833.7 287.1L834.7 288.7L835.7 290.3L836.7 291.8L837.7 293.4L838.7 294.9L839.7 296.4L840.7 297.8L841.7 299.2L842.7 300.6L843.7 301.9L844.7 303.2L845.7 304.4L846.7 305.7L847.7 306.8L848.7 308.0L849.7 309.1L850.7 310.1L851.7 311.1L852.7 312.1L853.7 313.0L854.7 313.9L855.7 314.8L856.7 315.6L857.7 316.3L858.7 317.0L859.7 317.7L860.7 318.3L861.7 318.8L862.7 319.4L863.7 319.8L864.7 320.2L865.7 320.6L866.7 320.9L867.7 321.2L868.7 321.4L869.7 321.6L870.7 321.7L871.7 321.7L872.7 321.8L873.7 321.7L874.7 321.6L875.7 321.5L876.7 321.3L877.7 321.1L878.7 320.8L879.7 320.4L880.7 320.0L881.7 319.6L882.7 319.1L883.7 318.6L884.7 318.0L885.7 317.3L886.7 316.7L887.7 315.9L888.7 315.1L889.7 314.3L890.7 313.4L891.7 312.5L892.7 311.5L893.7 310.5L894.7 309.4L895.7 308.3L896.7 307.2L897.7 306.0L898.7 304.7L899.7 303.4L900.7 302.1L901.7 300.8L902.7 299.3L903.7 297.9L904.7 296.4L905.7 294.9L906.7 293.3L907.7 291.8L908.7 290.1L909.7 288.5L910.7 286.8L911.7 285.0L912.7 283.3L913.7 281.5L914.7 279.7L915.7 277.8L916.7 276.0L917.7 274.1L918.7 272.1L919.7 270.2L920.7 268.2L921.7 266.2L922.7 264.2L923.7 262.2L924.7 260.1L925.7 258.1L926.7 256.0L927.7 253.9L928.7 251.8L929.7 249.7L930.7 247.6L931.7 245.4L932.7 243.3L933.7 241.1L934.7 239.0L935.7 236.8L936.7 234.7L937.7 232.5L938.7 230.3L939.7 228.2L940.7 226.0L941.7 223.8L942.7 221.7L943.7 219.5L944.7 217.4L945.7 215.3L946.7 213.2L947.7 211.1L948.7 209.0L949.7 206.9L950.7 204.8L951.7 202.8L952.7 200.7L953.7 198.7L954.7 196.7L955.7 194.8L956.7 192.8L957.7 190.9L958.7 189.0L959.7 187.1L960.7 185.3L961.7 183.5L962.7 181.7L963.7 179.9L964.7 178.2L965.7 176.5L966.7 174.9L967.7 173.3L968.7 171.7L969.7 170.1L970.7 168.6L971.7 167.2L972.7 165.7L973.7 164.3L974.7 163.0L975.7 161.7L976.7 160.4L977.7 159.2L978.7 158.1L979.7 156.9L980.7 155.9L981.7 154.8L982.7 153.8L983.7 152.9L984.7 152.0L985.7 151.2L986.7 150.4L987.7 149.7L988.7 149.0L989.7 148.4L990.7 147.8L991.7 147.3L992.7 146.8L993.7 146.4L994.7 146.0L995.7 145.7L996.7 145.5L997.7 145.3L998.7 145.1L999.7 145.0L1000.7 145.0L1001.7 145.0L1002.7 145.1L1003.7 145.2L1004.7 145.4L1005.7 145.6L1006.7 145.9L1007.7 146.3L1008.7 146.7L1009.7 147.1L1010.7 147.7L1011.7 148.2L1012.7 148.8L1013.7 149.5L1014.7 150.3L1015.7 151.0L1016.7 151.9L1017.7 152.8L1018.7 153.7L1019.7 154.7L1020.7 155.7L1021.7 156.8L1022.7 158.0L1023.7 159.1L1024.7 160.4L1025.7 161.7L1026.7 163.0L1027.7 164.4L1028.7 165.8L1029.7 167.3L1030.7 168.8L1031.7 170.3L1032.7 171.9L1033.7 173.5L1034.7 175.2L1035.7 176.9L1036.7 178.7L1037.7 180.5L1038.7 182.3L1039.7 184.2L1040.7 186.0L1041.7 188.0L1042.7 189.9L1043.7 191.9L1044.7 193.9L1045.7 196.0L1046.7 198.1L1047.7 200.2L1048.7 202.3L1049.7 204.4L1050.7 206.6L1051.7 208.8L1052.7 211.0L1053.7 213.2L1054.7 215.5L1055.7 217.7L1056.7 220.0L1057.7 222.3L1058.7 224.6L1059.7 226.9L1060.7 229.2L1061.7 231.5L1062.7 233.8L1063.7 236.2L1064.7 238.5L1065.7 240.9L1066.7 243.2L1067.7 245.5L1068.7 247.9L1069.7 250.2L1070.7 252.5L1071.7 254.8L1072.7 257.2L1073.7 259.5L1074.7 261.7L1075.7 264.0L1076.7 266.3L1077.7 268.5L1078.7 270.8L1079.7 273.0L1080.7 275.2L1081.7 277.4L1082.7 279.5L1083.7 281.7L1084.7 283.8L1085.7 285.8L1086.7 287.9L1087.7 289.9L1088.7 291.9L1089.7 293.9L1090.7 295.8L1091.7 297.7L1092.7 299.6L1093.7 301.4L1094.7 303.2L1095.7 305.0L1096.7 306.7L1097.7 308.4L1098.7 310.0L1099.7 311.6L1100.7 313.2L1101.7 314.7L1102.7 316.1L1103.7 317.6L1104.7 318.9L1105.7 320.3L1106.7 321.5L1107.7 322.8L1108.7 323.9L1109.7 325.1L1110.7 326.1L1111.7 327.2L1112.7 328.1L1113.7 329.0L1114.7 329.9L1115.7 330.7L1116.7 331.5L1117.7 332.2L1118.7 332.8L1119.7 333.4L1120.7 333.9L1121.7 334.4L1122.7 334.8L1123.7 335.1L1124.7 335.4L1125.7 335.7L1126.7 335.9L1127.7 336.0L1128.7 336.0L1129.7 336.0L1130.7 336.0L1131.7 335.9L1132.7 335.7L1133.7 335.4L1134.7 335.1L1135.7 334.8L1136.7 334.4L1137.7 333.9L1138.7 333.4L1139.7 332.8L1140.7 332.1L1141.7 331.4L1142.7 330.7L1143.7 329.8L1144.7 329.0L1145.7 328.0L1146.7 327.0L1147.7 326.0L1148.7 324.9L1149.7 323.7L1150.7 322.5L1151.7 321.3L1152.7 320.0L1153.7 318.6L1154.7 317.2L1155.7 315.7L1156.7 314.2L1157.7 312.7L1158.7 311.1L1159.7 309.4L1160.7 307.7L1161.7 306.0L1162.7 304.2L1163.7 302.4L1164.7 300.5L1165.7 298.6L1166.7 296.7L1167.7 294.7L1168.7 292.7L1169.7 290.6L1170.7 288.5L1171.7 286.4L1172.7 284.2L1173.7 282.1L1174.7 279.9L1175.7 277.6L1176.7 275.3L1177.7 273.0L1178.7 270.7L1179.7 268.4L1180.7 266.0L1181.7 263.6L1182.7 261.2L1183.7 258.8L1184.7 256.4L1185.7 254.0L1186.7 251.5L1187.7 249.0L1188.7 246.5L1189.7 244.1L1190.7 241.6L1191.7 239.1L1192.7 236.6L1193.7 234.0L1194.7 231.5L1195.7 229.0L1196.7 226.5L1197.7 224.0L1198.7 221.5L1199.7 219.0L1200.7 216.6L1201.7 214.1L1202.7 211.6L1203.7 209.2L1204.7 206.7L1205.7 204.3L1206.7 201.9L1207.7 199.5L1208.7 197.2L1209.7 194.8L1210.7 192.5L1211.7 190.2L1212.7 188.0L1213.7 185.7L1214.7 183.5L1215.7 181.3L1216.7 179.2L1217.7 177.0L1218.7 175.0L1219.7 172.9L1220.7 170.9L1221.7 168.9L1222.7 167.0L1223.7 165.1L1224.7 163.2L1225.7 161.4L1226.7 159.6L1227.7 157.9L1228.7 156.2L1229.7 154.6L1230.7 153.0L1231.7 151.4L1232.7 150.0L1233.7 148.5L1234.7 147.1L1235.7 145.8L1236.7 144.5L1237.7 143.3L1238.7 142.1L1239.7 141.0L1240.7 139.9L1241.7 138.9L1242.7 138.0L1243.7 137.1L1244.7 136.2L1245.7 135.5L1246.7 134.8L1247.7 134.1L1248.7 133.5L1249.7 133.0L1250.7 132.5L1251.7 132.1L1252.7 131.8L1253.7 131.5L1254.7 131.3L1255.7 131.1L1256.7 131.0L1257.7 131.0L1258.7 131.0L1259.7 131.1L1260.7 131.3L1261.7 131.5L1262.7 131.8L1263.7 132.1L1264.7 132.6L1265.7 133.0L1266.7 133.6L1267.7 134.2L1268.7 134.8L1269.7 135.6L1270.7 136.3L1271.7 137.2L1272.7 138.1L1273.7 139.1L1274.7 140.1L1275.7 141.2L1276.7 142.3L1277.7 143.5L1278.7 144.8L1279.7 146.1L1280.7 147.5L1281.7 148.9L1282.7 150.4L1283.7 151.9L1284.7 153.5L1285.7 155.1L1286.7 156.8L1287.7 158.5L1288.7 160.3L1289.7 162.2L1290.7 164.0L1291.7 166.0L1292.7 167.9L1293.7 169.9L1294.7 172.0L1295.7 174.1L1296.7 176.2L1297.7 178.4L1298.7 180.6L1299.7 182.8L1300.7 185.1L1301.7 187.4L1302.7 189.8L1303.7 192.1L1304.7 194.5L1305.7 197.0L1306.7 199.4L1307.7 201.9L1308.7 204.4L1309.7 206.9L1310.7 209.5L1311.7 212.1L1312.7 214.6L1313.7 217.2L1314.7 219.8L1315.7 222.5L1316.7 225.1L1317.7 227.8L1318.7 230.4L1319.7 233.1L1320.7 235.7L1321.7 238.4L1322.7 241.1L1323.7 243.7L1324.7 246.4L1325.7 249.1L1326.7 251.7L1327.7 254.4L1328.7 257.0L1329.7 259.6L1330.7 262.3L1331.7 264.9L1332.7 267.5L1333.7 270.1L1334.7 272.6L1335.7 275.2L1336.7 277.7L1337.7 280.2L1338.7 282.7L1339.7 285.1L1340.7 287.5L1341.7 289.9L1342.7 292.3L1343.7 294.6L1344.7 296.9L1345.7 299.2L1346.7 301.4L1347.7 303.6L1348.7 305.8L1349.7 307.9L1350.7 310.0L1351.7 312.0L1352.7 314.0L1353.7 316.0L1354.7 317.9L1355.7 319.7L1356.7 321.6L1357.7 323.3L1358.7 325.0L1359.7 326.7L1360.7 328.3L1361.7 329.8L1362.7 331.3L1363.7 332.8L1364.7 334.2L1365.7 335.5L1366.7 336.8L1367.7 338.0L1368.7 339.1L1369.7 340.2L1370.7 341.3L1371.7 342.2L1372.7 343.1L1373.7 344.0L1374.7 344.8L1375.7 345.5L1376.7 346.1L1377.7 346.7L1378.7 347.2L1379.7 347.7L1380.7 348.1L1381.7 348.4L1382.7 348.7L1383.7 348.9L1384.7 349.0L1385.7 349.0L1386.7 349.0L1387.7 348.9L1388.7 348.8L1389.7 348.6L1390.7 348.3L1391.7 347.9L1392.7 347.5L1393.7 347.1L1394.7 346.5L1395.7 345.9L1396.7 345.2L1397.7 344.5L1398.7 343.6L1399.7 342.8L1400.7 341.8L1401.7 340.8L1402.7 339.8L1403.7 338.6L1404.7 337.4L1405.7 336.2L1406.7 334.9L1407.7 333.5L1408.7 332.0L1409.7 330.5L1410.7 329.0L1411.7 327.4L1412.7 325.7L1413.7 324.0L1414.7 322.2L1415.7 320.4L1416.7 318.5L1417.7 316.6L1418.7 314.6L1419.7 312.6L1420.7 310.5L1421.7 308.4L1422.7 306.2L1423.7 304.0L1424.7 301.7L1425.7 299.4L1426.7 297.1L1427.7 294.7L1428.7 292.3L1429.7 289.9L1430.7 287.4L1431.7 284.9L1432.7 282.3L1433.7 279.8L1434.7 277.2L1435.7 274.5L1436.7 271.9L1437.7 269.2L1438.7 266.5L1439.7 263.8L1440.7 261.0L1441.7 258.3L1442.7 255.5L1443.7 252.7L1444.7 249.9L1445.7 247.1L1446.7 244.3L1447.7 241.5L1448.7 238.6L1449.7 235.8" stroke="#1fa80a" stroke-width="4.6" fill="none" stroke-linejoin="round" stroke-dasharray="23.5 8.5"/>
<rect x="110.00" y="47.50" width="1376.50" height="494.30" fill="none" stroke="#000" stroke-width="3"/>
<text transform="translate(101.77,579.30) scale(0.9050,1)" font-size="36.3" font-family="Liberation Sans, sans-serif" fill="#000">72</text>
<text transform="translate(303.52,579.30) scale(0.9050,1)" font-size="36.3" font-family="Liberation Sans, sans-serif" fill="#000">94</text>
<text transform="translate(496.58,579.30) scale(0.9050,1)" font-size="36.3" font-family="Liberation Sans, sans-serif" fill="#000">125</text>
<text transform="translate(699.16,579.30) scale(0.9050,1)" font-size="36.3" font-family="Liberation Sans, sans-serif" fill="#000">171</text>
<text transform="translate(901.92,579.30) scale(0.9050,1)" font-size="36.3" font-family="Liberation Sans, sans-serif" fill="#000">244</text>
<text transform="translate(1104.49,579.30) scale(0.9050,1)" font-size="36.3" font-family="Liberation Sans, sans-serif" fill="#000">364</text>
<text transform="translate(1307.33,579.30) scale(0.9050,1)" font-size="36.3" font-family="Liberation Sans, sans-serif" fill="#000">579</text>
<text transform="translate(57.85,160.30) scale(0.9050,1)" font-size="36.3" font-family="Liberation Sans, sans-serif" fill="#000">25</text>
<text transform="translate(57.68,273.60) scale(0.9050,1)" font-size="36.3" font-family="Liberation Sans, sans-serif" fill="#000">20</text>
<text transform="translate(57.85,387.10) scale(0.9050,1)" font-size="36.3" font-family="Liberation Sans, sans-serif" fill="#000">15</text>
<text transform="translate(57.68,500.60) scale(0.9050,1)" font-size="36.3" font-family="Liberation Sans, sans-serif" fill="#000">10</text>
<text transform="translate(753.44,612.00) scale(1.0895,1)" font-size="35.0" font-family="Liberation Sans, sans-serif" fill="#000">U (V)</text>
<text transform="translate(29.40,435.13) rotate(-90) scale(1.0445,1)" font-size="35.0" font-family="Liberation Sans, sans-serif" fill="#000">Count rate (cts/s)</text>
<text transform="translate(572.46,459.50) scale(0.9554,1)" font-size="35.0" font-family="Liberation Sans, sans-serif" fill="#000">data</text>
<text transform="translate(464.12,489.30) scale(0.9600,1)" font-size="35.0" font-family="Liberation Sans, sans-serif" fill="#000">background</text>
<path d="M654 452.7H726.2" stroke="#ea1b2d" stroke-width="3.3" fill="none"/><circle cx="690.3" cy="452.7" r="6.6" fill="#ea1b2d"/>
<path d="M654 483.3H726.2" stroke="#000" stroke-width="3.3" fill="none"/><circle cx="690.3" cy="483.3" r="6.6" fill="#000"/>
<text transform="translate(919.39,459.30) scale(1.1542,1)" font-size="35.0" font-family="Liberation Sans, sans-serif" fill="#000">fit</text>
<text transform="translate(794.75,489.30) scale(0.9956,1)" font-size="35.0" font-family="Liberation Sans, sans-serif" fill="#000">simulation</text>
<path d="M965.5 452.5H1037" stroke="#1f28db" stroke-width="2.7" fill="none"/>
<path d="M965.5 483H1037" stroke="#1fa80a" stroke-width="4.5" stroke-dasharray="22.5 9.5" fill="none"/>
<text transform="translate(109.10,28.70) scale(1.1392,1)" font-size="38" font-family="Liberation Serif, serif" font-weight="bold" fill="#000">a)</text>
<text transform="translate(161.61,28.70) scale(0.9682,1)" font-size="37.6" font-family="Liberation Sans, sans-serif" font-style="italic" fill="#000">N</text>
<text transform="translate(199.27,30.60) scale(1.8369,0.855)" font-size="33" font-family="Liberation Sans, sans-serif" fill="#000" stroke="#000" stroke-width="0.35">=</text>
<text transform="translate(244.93,28.70) scale(1.1654,1)" font-size="38" font-family="Liberation Serif, serif" font-weight="bold" fill="#000">2</text>
<path d="M183.60 1127.40v-15M289.32 1127.40v-15M395.04 1127.40v-15M500.76 1127.40v-15M606.48 1127.40v-15M712.20 1127.40v-15M183.60 658.00v15M289.32 658.00v15M395.04 658.00v15M500.76 658.00v15M606.48 658.00v15M712.20 658.00v15M109.60 672.00h15M109.60 742.20h15M109.60 812.40h15M109.60 882.60h15M109.60 952.80h15M109.60 1023.00h15M109.60 1093.20h15M722.50 672.00h-15M722.50 742.20h-15M722.50 812.40h-15M722.50 882.60h-15M722.50 952.80h-15M722.50 1023.00h-15M722.50 1093.20h-15" stroke="#000" stroke-width="3" fill="none"/>
<path d="M132.0 1073.5L132.5 1070.5L133.0 1066.9L133.5 1062.6L134.0 1057.8L134.5 1052.6L135.0 1047.0L135.5 1040.9L136.0 1033.8L136.5 1025.8L137.0 1017.1L137.5 1007.9L138.0 998.7L138.5 989.5L139.0 980.1L139.5 970.2L140.0 960.1L140.5 949.8L141.0 939.5L141.5 929.3L142.0 919.2L142.5 908.6L143.0 898.0L143.5 887.5L144.0 877.5L144.5 868.3L145.0 860.2L145.5 852.7L146.0 845.7L146.5 839.0L147.0 832.7L147.5 826.6L148.0 820.7L148.5 814.7L149.0 808.8L149.5 803.1L150.0 797.7L150.5 792.6L151.0 788.1L151.5 784.2L152.0 780.4L152.5 776.8L153.0 773.7L153.5 771.4L154.0 769.9L154.5 768.6L155.0 767.4L155.5 766.6L156.0 766.3L156.5 766.4L157.0 767.1L157.5 768.2L158.0 769.5L158.5 771.1L159.0 772.9L159.5 775.6L160.0 779.0L160.5 783.0L161.0 787.3L161.5 791.8L162.0 796.3L162.5 801.2L163.0 806.5L163.5 812.3L164.0 818.2L164.5 824.4L165.0 830.5L165.5 836.7L166.0 843.1L166.5 849.6L167.0 856.4L167.5 863.2L168.0 870.2L168.5 877.4L169.0 884.8L169.5 892.5L170.0 900.3L170.5 908.2L171.0 916.0L171.5 923.6L172.0 931.1L172.5 938.5L173.0 946.0L173.5 953.3L174.0 960.5L174.5 967.7L175.0 974.6L175.5 981.6L176.0 988.4L176.5 995.1L177.0 1001.7L177.5 1008.1L178.0 1014.3L178.5 1020.5L179.0 1026.6L179.5 1032.6L180.0 1038.3L180.5 1043.6L181.0 1048.4L181.5 1052.6L182.0 1056.7L182.5 1060.5L183.0 1064.0L183.5 1067.2L184.0 1070.0L184.5 1072.4L185.0 1074.8L185.5 1076.9L186.0 1078.9L186.5 1080.6L187.0 1082.0L187.5 1083.1L188.0 1084.0L188.5 1084.9L189.0 1085.6L189.5 1086.1L190.0 1086.3L190.5 1086.2L191.0 1085.9L191.5 1085.4L192.0 1084.8L192.5 1084.1L193.0 1083.3L193.5 1082.6L194.0 1081.8L194.5 1080.9L195.0 1079.8L195.5 1078.6L196.0 1077.2L196.5 1075.9L197.0 1074.5L197.5 1073.0L198.0 1071.7L198.5 1070.4L199.0 1069.0L199.5 1067.5L200.0 1066.1L200.5 1064.6L201.0 1063.2L201.5 1061.9L202.0 1060.6L202.5 1059.4L203.0 1058.2L203.5 1056.9L204.0 1055.7L204.5 1054.5L205.0 1053.4L205.5 1052.5L206.0 1051.7L206.5 1051.2L207.0 1050.8L207.5 1050.5L208.0 1050.3L208.5 1050.0L209.0 1049.8L209.5 1049.6L210.0 1049.5L210.5 1049.4L211.0 1049.4L211.5 1049.5L212.0 1049.8L212.5 1050.3L213.0 1050.9L213.5 1051.7L214.0 1052.4L214.5 1053.2L215.0 1054.0L215.5 1054.7L216.0 1055.6L216.5 1056.5L217.0 1057.4L217.5 1058.5L218.0 1059.5L218.5 1060.6L219.0 1061.8L219.5 1062.9L220.0 1064.0L220.5 1065.3L221.0 1066.6L221.5 1067.9L222.0 1069.2L222.5 1070.5L223.0 1071.7L223.5 1072.9L224.0 1074.1L224.5 1075.2L225.0 1076.3L225.5 1077.4L226.0 1078.5L226.5 1079.5L227.0 1080.4L227.5 1081.3L228.0 1082.0L228.5 1082.7L229.0 1083.4L229.5 1084.1L230.0 1084.7L230.5 1085.2L231.0 1085.7L231.5 1086.1L232.0 1086.2L232.5 1086.3L233.0 1086.3L233.5 1086.3L234.0 1086.3L234.5 1086.3L235.0 1086.3L235.5 1086.3L236.0 1086.2L236.5 1085.9L237.0 1085.6L237.5 1085.1L238.0 1084.5L238.5 1083.8L239.0 1083.1L239.5 1082.4L240.0 1081.5L240.5 1080.5L241.0 1079.1L241.5 1077.6L242.0 1075.9L242.5 1074.0L243.0 1072.1L243.5 1070.0L244.0 1067.6L244.5 1064.9L245.0 1062.0L245.5 1059.1L246.0 1056.1L246.5 1053.1L247.0 1050.0L247.5 1046.8L248.0 1043.4L248.5 1040.0L249.0 1036.4L249.5 1032.8L250.0 1029.0L250.5 1025.2L251.0 1021.2L251.5 1017.1L252.0 1012.9L252.5 1008.7L253.0 1004.3L253.5 999.7L254.0 995.0L254.5 990.3L255.0 985.5L255.5 980.7L256.0 976.1L256.5 971.4L257.0 966.8L257.5 962.2L258.0 957.5L258.5 952.8L259.0 948.0L259.5 943.1L260.0 938.1L260.5 933.0L261.0 927.9L261.5 922.9L262.0 918.0L262.5 913.1L263.0 908.4L263.5 903.7L264.0 899.0L264.5 894.4L265.0 889.8L265.5 885.3L266.0 880.8L266.5 876.3L267.0 871.9L267.5 867.6L268.0 863.4L268.5 859.3L269.0 855.4L269.5 851.6L270.0 847.9L270.5 844.3L271.0 840.7L271.5 837.2L272.0 833.7L272.5 830.2L273.0 826.8L273.5 823.4L274.0 820.1L274.5 816.9L275.0 813.9L275.5 811.0L276.0 808.2L276.5 805.5L277.0 802.9L277.5 800.4L278.0 797.9L278.5 795.4L279.0 792.8L279.5 790.3L280.0 787.9L280.5 785.6L281.0 783.5L281.5 781.7L282.0 779.9L282.5 778.3L283.0 776.7L283.5 775.3L284.0 773.9L284.5 772.7L285.0 771.6L285.5 770.5L286.0 769.5L286.5 768.5L287.0 767.7L287.5 767.1L288.0 766.7L288.5 766.4L289.0 766.1L289.5 765.9L290.0 765.8L290.5 766.0L291.0 766.3L291.5 766.7L292.0 767.2L292.5 767.7L293.0 768.3L293.5 769.0L294.0 770.0L294.5 771.1L295.0 772.4L295.5 773.7L296.0 775.1L296.5 776.5L297.0 778.0L297.5 779.6L298.0 781.3L298.5 783.1L299.0 784.9L299.5 786.8L300.0 788.7L300.5 790.7L301.0 792.7L301.5 794.7L302.0 796.9L302.5 799.1L303.0 801.4L303.5 803.7L304.0 806.1L304.5 808.5L305.0 811.0L305.5 813.5L306.0 816.1L306.5 818.8L307.0 821.6L307.5 824.4L308.0 827.2L308.5 830.1L309.0 833.1L309.5 836.1L310.0 839.2L310.5 842.4L311.0 845.6L311.5 848.9L312.0 852.2L312.5 855.6L313.0 859.0L313.5 862.3L314.0 865.7L314.5 869.2L315.0 872.7L315.5 876.2L316.0 879.8L316.5 883.3L317.0 886.8L317.5 890.4L318.0 893.9L318.5 897.4L319.0 900.9L319.5 904.4L320.0 907.9L320.5 911.4L321.0 914.9L321.5 918.4L322.0 921.9L322.5 925.4L323.0 928.9L323.5 932.4L324.0 935.9L324.5 939.4L325.0 942.9L325.5 946.4L326.0 949.9L326.5 953.4L327.0 956.9L327.5 960.4L328.0 964.0L328.5 967.5L329.0 971.0L329.5 974.5L330.0 978.0L330.5 981.3L331.0 984.7L331.5 988.1L332.0 991.4L332.5 994.7L333.0 998.0L333.5 1001.2L334.0 1004.3L334.5 1007.4L335.0 1010.4L335.5 1013.3L336.0 1016.2L336.5 1019.0L337.0 1021.8L337.5 1024.5L338.0 1027.1L338.5 1029.7L339.0 1032.2L339.5 1034.6L340.0 1037.0L340.5 1039.4L341.0 1041.7L341.5 1043.9L342.0 1046.1L342.5 1048.2L343.0 1050.3L343.5 1052.2L344.0 1054.2L344.5 1056.1L345.0 1057.9L345.5 1059.7L346.0 1061.4L346.5 1063.0L347.0 1064.6L347.5 1066.1L348.0 1067.5L348.5 1068.9L349.0 1070.3L349.5 1071.6L350.0 1072.9L350.5 1074.1L351.0 1075.2L351.5 1076.2L352.0 1077.2L352.5 1078.1L353.0 1079.0L353.5 1079.8L354.0 1080.6L354.5 1081.4L355.0 1082.0L355.5 1082.6L356.0 1083.1L356.5 1083.5L357.0 1083.9L357.5 1084.3L358.0 1084.6L358.5 1084.9L359.0 1085.2L359.5 1085.4L360.0 1085.6L360.5 1085.7L361.0 1085.8L361.5 1085.9L362.0 1085.9L362.5 1086.0L363.0 1086.0L363.5 1086.1L364.0 1086.0L364.5 1086.0L365.0 1085.8L365.5 1085.7L366.0 1085.5L366.5 1085.3L367.0 1085.1L367.5 1084.8L368.0 1084.6L368.5 1084.3L369.0 1084.0L369.5 1083.7L370.0 1083.3L370.5 1082.8L371.0 1082.2L371.5 1081.6L372.0 1081.0L372.5 1080.4L373.0 1079.7L373.5 1079.0L374.0 1078.3L374.5 1077.6L375.0 1076.9L375.5 1076.3L376.0 1075.6L376.5 1074.9L377.0 1074.1L377.5 1073.4L378.0 1072.6L378.5 1071.9L379.0 1071.1L379.5 1070.3L380.0 1069.5L380.5 1068.7L381.0 1068.0L381.5 1067.2L382.0 1066.5L382.5 1065.7L383.0 1064.9L383.5 1064.1L384.0 1063.3L384.5 1062.5L385.0 1061.7L385.5 1060.9L386.0 1060.2L386.5 1059.5L387.0 1058.8L387.5 1058.1L388.0 1057.5L388.5 1056.9L389.0 1056.3L389.5 1055.7L390.0 1055.1L390.5 1054.5L391.0 1054.0L391.5 1053.5L392.0 1053.0L392.5 1052.5L393.0 1052.1L393.5 1051.7L394.0 1051.3L394.5 1051.0L395.0 1050.7L395.5 1050.5L396.0 1050.2L396.5 1050.0L397.0 1049.7L397.5 1049.5L398.0 1049.3L398.5 1049.1L399.0 1048.9L399.5 1048.8L400.0 1048.7L400.5 1048.6L401.0 1048.5L401.5 1048.4L402.0 1048.3L402.5 1048.2L403.0 1048.2L403.5 1048.1L404.0 1048.1L404.5 1048.0L405.0 1048.0L405.5 1047.9L406.0 1047.9L406.5 1047.9L407.0 1047.9L407.5 1047.9L408.0 1048.0L408.5 1048.1L409.0 1048.3L409.5 1048.5L410.0 1048.8L410.5 1049.1L411.0 1049.5L411.5 1049.9L412.0 1050.3L412.5 1050.7L413.0 1051.2L413.5 1051.6L414.0 1052.1L414.5 1052.6L415.0 1053.0L415.5 1053.5L416.0 1053.9L416.5 1054.3L417.0 1054.8L417.5 1055.2L418.0 1055.7L418.5 1056.2L419.0 1056.6L419.5 1057.1L420.0 1057.7L420.5 1058.2L421.0 1058.7L421.5 1059.2L422.0 1059.8L422.5 1060.3L423.0 1060.9L423.5 1061.5L424.0 1062.0L424.5 1062.7L425.0 1063.3L425.5 1063.9L426.0 1064.5L426.5 1065.2L427.0 1065.8L427.5 1066.5L428.0 1067.1L428.5 1067.8L429.0 1068.4L429.5 1069.1L430.0 1069.7L430.5 1070.3L431.0 1070.9L431.5 1071.5L432.0 1072.1L432.5 1072.7L433.0 1073.3L433.5 1073.9L434.0 1074.6L434.5 1075.2L435.0 1075.8L435.5 1076.4L436.0 1076.9L436.5 1077.5L437.0 1078.1L437.5 1078.6L438.0 1079.2L438.5 1079.7L439.0 1080.1L439.5 1080.6L440.0 1081.0L440.5 1081.5L441.0 1081.9L441.5 1082.3L442.0 1082.7L442.5 1083.1L443.0 1083.5L443.5 1083.8L444.0 1084.2L444.5 1084.6L445.0 1084.9L445.5 1085.2L446.0 1085.5L446.5 1085.9L447.0 1086.1L447.5 1086.4L448.0 1086.7L448.5 1087.0L449.0 1087.2L449.5 1087.5L450.0 1087.7L450.5 1088.0L451.0 1088.2L451.5 1088.4L452.0 1088.6L452.5 1088.9L453.0 1089.1L453.5 1089.2L454.0 1089.4L454.5 1089.6L455.0 1089.7L455.5 1089.8L456.0 1089.9L456.5 1090.0L457.0 1090.1L457.5 1090.2L458.0 1090.3L458.5 1090.3L459.0 1090.4L459.5 1090.4L460.0 1090.5L460.5 1090.5L461.0 1090.5L461.5 1090.5L462.0 1090.5L462.5 1090.4L463.0 1090.3L463.5 1090.2L464.0 1090.0L464.5 1089.8L465.0 1089.6L465.5 1089.4L466.0 1089.2L466.5 1089.0L467.0 1088.7L467.5 1088.5L468.0 1088.2L468.5 1087.8L469.0 1087.4L469.5 1086.9L470.0 1086.4L470.5 1085.8L471.0 1085.2L471.5 1084.5L472.0 1083.8L472.5 1083.1L473.0 1082.4L473.5 1081.7L474.0 1080.9L474.5 1080.2L475.0 1079.3L475.5 1078.5L476.0 1077.6L476.5 1076.6L477.0 1075.6L477.5 1074.6L478.0 1073.5L478.5 1072.4L479.0 1071.3L479.5 1070.2L480.0 1069.0L480.5 1067.9L481.0 1066.7L481.5 1065.5L482.0 1064.3L482.5 1063.0L483.0 1061.7L483.5 1060.4L484.0 1059.1L484.5 1057.7L485.0 1056.3L485.5 1054.9L486.0 1053.4L486.5 1052.0L487.0 1050.5L487.5 1049.0L488.0 1047.4L488.5 1045.8L489.0 1044.2L489.5 1042.6L490.0 1040.9L490.5 1039.3L491.0 1037.5L491.5 1035.8L492.0 1034.0L492.5 1032.3L493.0 1030.5L493.5 1028.6L494.0 1026.8L494.5 1024.9L495.0 1022.9L495.5 1021.0L496.0 1019.0L496.5 1016.9L497.0 1014.9L497.5 1012.9L498.0 1010.8L498.5 1008.7L499.0 1006.6L499.5 1004.5L500.0 1002.5L500.5 1000.3L501.0 998.2L501.5 996.1L502.0 993.9L502.5 991.7L503.0 989.5L503.5 987.3L504.0 985.1L504.5 982.9L505.0 980.8L505.5 978.6L506.0 976.4L506.5 974.2L507.0 972.1L507.5 969.9L508.0 967.8L508.5 965.7L509.0 963.5L509.5 961.4L510.0 959.2L510.5 957.1L511.0 954.9L511.5 952.7L512.0 950.5L512.5 948.2L513.0 945.9L513.5 943.6L514.0 941.3L514.5 939.0L515.0 936.6L515.5 934.2L516.0 931.8L516.5 929.5L517.0 927.1L517.5 924.8L518.0 922.4L518.5 920.2L519.0 917.9L519.5 915.7L520.0 913.4L520.5 911.2L521.0 909.0L521.5 906.8L522.0 904.7L522.5 902.5L523.0 900.4L523.5 898.2L524.0 896.1L524.5 894.0L525.0 891.9L525.5 889.8L526.0 887.8L526.5 885.7L527.0 883.7L527.5 881.6L528.0 879.6L528.5 877.6L529.0 875.6L529.5 873.6L530.0 871.7L530.5 869.7L531.0 867.8L531.5 865.8L532.0 863.9L532.5 862.0L533.0 860.1L533.5 858.2L534.0 856.3L534.5 854.4L535.0 852.6L535.5 850.7L536.0 848.9L536.5 847.1L537.0 845.4L537.5 843.7L538.0 842.0L538.5 840.4L539.0 838.8L539.5 837.2L540.0 835.6L540.5 834.1L541.0 832.6L541.5 831.1L542.0 829.7L542.5 828.2L543.0 826.8L543.5 825.4L544.0 823.9L544.5 822.5L545.0 821.1L545.5 819.7L546.0 818.3L546.5 816.9L547.0 815.5L547.5 814.2L548.0 812.8L548.5 811.5L549.0 810.2L549.5 808.9L550.0 807.7L550.5 806.5L551.0 805.3L551.5 804.1L552.0 802.9L552.5 801.8L553.0 800.6L553.5 799.5L554.0 798.4L554.5 797.3L555.0 796.3L555.5 795.2L556.0 794.2L556.5 793.2L557.0 792.2L557.5 791.3L558.0 790.4L558.5 789.5L559.0 788.6L559.5 787.7L560.0 786.8L560.5 786.0L561.0 785.1L561.5 784.3L562.0 783.5L562.5 782.8L563.0 782.0L563.5 781.3L564.0 780.7L564.5 780.0L565.0 779.3L565.5 778.7L566.0 778.1L566.5 777.4L567.0 776.9L567.5 776.3L568.0 775.7L568.5 775.2L569.0 774.7L569.5 774.2L570.0 773.7L570.5 773.3L571.0 772.8L571.5 772.4L572.0 772.0L572.5 771.6L573.0 771.2L573.5 770.8L574.0 770.5L574.5 770.1L575.0 769.8L575.5 769.5L576.0 769.2L576.5 769.0L577.0 768.8L577.5 768.5L578.0 768.3L578.5 768.1L579.0 767.9L579.5 767.7L580.0 767.5L580.5 767.3L581.0 767.1L581.5 767.0L582.0 766.9L582.5 766.7L583.0 766.7L583.5 766.6L584.0 766.5L584.5 766.4L585.0 766.3L585.5 766.2L586.0 766.2L586.5 766.1L587.0 766.0L587.5 766.0L588.0 765.9L588.5 765.9L589.0 765.9L589.5 765.9L590.0 765.8L590.5 765.8L591.0 765.9L591.5 765.9L592.0 766.0L592.5 766.0L593.0 766.1L593.5 766.2L594.0 766.3L594.5 766.4L595.0 766.5L595.5 766.7L596.0 766.8L596.5 767.0L597.0 767.1L597.5 767.3L598.0 767.4L598.5 767.6L599.0 767.8L599.5 768.1L600.0 768.3L600.5 768.6L601.0 768.9L601.5 769.3L602.0 769.6L602.5 769.9L603.0 770.3L603.5 770.7L604.0 771.1L604.5 771.5L605.0 771.9L605.5 772.3L606.0 772.8L606.5 773.3L607.0 773.8L607.5 774.4L608.0 775.0L608.5 775.5L609.0 776.1L609.5 776.7L610.0 777.3L610.5 778.0L611.0 778.6L611.5 779.3L612.0 779.9L612.5 780.6L613.0 781.4L613.5 782.1L614.0 782.9L614.5 783.7L615.0 784.5L615.5 785.3L616.0 786.1L616.5 786.9L617.0 787.7L617.5 788.5L618.0 789.4L618.5 790.3L619.0 791.1L619.5 792.0L620.0 793.0L620.5 793.9L621.0 794.8L621.5 795.8L622.0 796.7L622.5 797.7L623.0 798.7L623.5 799.7L624.0 800.7L624.5 801.7L625.0 802.7L625.5 803.8L626.0 804.8L626.5 805.9L627.0 807.0L627.5 808.1L628.0 809.2L628.5 810.4L629.0 811.5L629.5 812.7L630.0 813.8L630.5 815.0L631.0 816.2L631.5 817.4L632.0 818.7L632.5 819.9L633.0 821.2L633.5 822.4L634.0 823.7L634.5 825.0L635.0 826.3L635.5 827.6L636.0 828.9L636.5 830.1L637.0 831.5L637.5 832.8L638.0 834.1L638.5 835.4L639.0 836.8L639.5 838.1L640.0 839.5L640.5 840.8L641.0 842.2L641.5 843.5L642.0 844.8L642.5 846.2L643.0 847.5L643.5 848.8L644.0 850.2L644.5 851.5L645.0 852.8L645.5 854.2L646.0 855.5L646.5 856.8L647.0 858.2L647.5 859.5L648.0 860.8L648.5 862.2L649.0 863.5L649.5 864.8L650.0 866.2L650.5 867.5L651.0 868.8L651.5 870.2L652.0 871.5L652.5 872.8L653.0 874.2L653.5 875.5L654.0 876.8L654.5 878.2L655.0 879.5L655.5 880.8L656.0 882.2L656.5 883.5L657.0 884.8L657.5 886.2L658.0 887.5L658.5 888.8L659.0 890.2L659.5 891.5L660.0 892.8L660.5 894.2L661.0 895.5L661.5 896.8L662.0 898.2L662.5 899.5L663.0 900.8L663.5 902.2L664.0 903.5L664.5 904.8L665.0 906.2L665.5 907.5L666.0 908.8L666.5 910.2L667.0 911.5L667.5 912.8L668.0 914.2L668.5 915.5L669.0 916.8L669.5 918.2L670.0 919.5L670.5 920.8L671.0 922.2L671.5 923.5L672.0 924.8L672.5 926.2L673.0 927.5L673.5 928.8L674.0 930.2L674.5 931.5L675.0 932.8L675.5 934.2L676.0 935.5L676.5 936.8L677.0 938.2L677.5 939.5L678.0 940.8L678.5 942.2L679.0 943.5L679.5 944.8L680.0 946.2L680.5 947.5L681.0 948.8L681.5 950.2L682.0 951.5L682.5 952.9L683.0 954.2L683.5 955.6L684.0 956.9L684.5 958.3L685.0 959.6L685.5 960.9L686.0 962.2L686.5 963.6L687.0 964.9L687.5 966.2L688.0 967.4L688.5 968.7L689.0 970.0L689.5 971.2L690.0 972.5L690.5 973.7L691.0 975.0L691.5 976.2L692.0 977.4L692.5 978.7L693.0 979.9L693.5 981.2L694.0 982.4L694.5 983.7L695.0 984.9L695.5 986.2L696.0 987.4L696.5 988.7L697.0 990.0L697.5 991.2L698.0 992.5L698.5 993.7L699.0 995.0L699.5 996.2L700.0 997.4L700.5 998.6L701.0 999.8L701.5 1001.0L702.0 1002.2L702.5 1003.4L703.0 1004.5L703.5 1005.7L704.0 1006.9L704.5 1008.0L705.0 1009.2L705.5 1010.3L706.0 1011.5L706.5 1012.6L707.0 1013.7L707.5 1014.9L708.0 1016.0L708.5 1017.1L709.0 1018.2L709.5 1019.3L710.0 1020.4L710.5 1021.5L711.0 1022.6L711.5 1023.7L712.0 1024.8L712.3 1025.5" stroke="#1f28db" stroke-width="3.4" fill="none" stroke-linejoin="round"/>
<path d="M130.9 1068.6V1086.9M141.2 904.9V944.8M151.6 718.9V771.6M162.3 665.4V794.0M173.0 891.1V951.9M183.4 1008.4V1103.3M204.3 1016.5V1084.1M268.1 869.3V909.2M289.2 762.4V813.2M310.6 848.0V922.0M331.7 988.1V1038.3M352.6 1074.5V1094.2M373.7 1061.3V1105.5M394.8 1040.4V1061.7M405.5 986.4V1032.9M416.0 1048.9V1090.5M437.1 1068.1V1105.0M458.4 1074.5V1125.7M479.5 1082.6V1120.4M500.9 982.8V1020.1M521.8 901.3V935.9M543.1 839.9V881.9M564.0 779.7V825.8M585.4 750.7V833.0M606.5 772.5V811.1M627.6 798.9V856.9M712.3 1009.0V1048.5" stroke="#ea1b2d" stroke-width="3.6" fill="none"/>
<circle cx="130.9" cy="1077.3" r="6.65" fill="#ea1b2d"/>
<circle cx="141.2" cy="924.6" r="6.65" fill="#ea1b2d"/>
<circle cx="151.6" cy="745.6" r="6.65" fill="#ea1b2d"/>
<circle cx="162.3" cy="729.6" r="6.65" fill="#ea1b2d"/>
<circle cx="173.0" cy="922.0" r="6.65" fill="#ea1b2d"/>
<circle cx="183.4" cy="1056.4" r="6.65" fill="#ea1b2d"/>
<circle cx="204.3" cy="1051.1" r="6.65" fill="#ea1b2d"/>
<circle cx="225.4" cy="1086.9" r="6.65" fill="#ea1b2d"/>
<circle cx="246.8" cy="1050.0" r="6.65" fill="#ea1b2d"/>
<circle cx="268.1" cy="888.9" r="6.65" fill="#ea1b2d"/>
<circle cx="289.2" cy="788.2" r="6.65" fill="#ea1b2d"/>
<circle cx="310.6" cy="885.1" r="6.65" fill="#ea1b2d"/>
<circle cx="331.7" cy="1012.7" r="6.65" fill="#ea1b2d"/>
<circle cx="352.6" cy="1082.0" r="6.65" fill="#ea1b2d"/>
<circle cx="373.7" cy="1083.5" r="6.65" fill="#ea1b2d"/>
<circle cx="394.8" cy="1051.1" r="6.65" fill="#ea1b2d"/>
<circle cx="405.5" cy="1010.1" r="6.65" fill="#ea1b2d"/>
<circle cx="416.0" cy="1070.7" r="6.65" fill="#ea1b2d"/>
<circle cx="437.1" cy="1086.3" r="6.65" fill="#ea1b2d"/>
<circle cx="458.4" cy="1099.7" r="6.65" fill="#ea1b2d"/>
<circle cx="479.5" cy="1101.2" r="6.65" fill="#ea1b2d"/>
<circle cx="500.9" cy="1001.6" r="6.65" fill="#ea1b2d"/>
<circle cx="521.8" cy="918.4" r="6.65" fill="#ea1b2d"/>
<circle cx="543.1" cy="861.2" r="6.65" fill="#ea1b2d"/>
<circle cx="564.0" cy="802.7" r="6.65" fill="#ea1b2d"/>
<circle cx="585.4" cy="791.9" r="6.65" fill="#ea1b2d"/>
<circle cx="606.5" cy="791.9" r="6.65" fill="#ea1b2d"/>
<circle cx="627.6" cy="827.7" r="6.65" fill="#ea1b2d"/>
<circle cx="648.5" cy="890.2" r="6.65" fill="#ea1b2d"/>
<circle cx="712.3" cy="1028.7" r="6.65" fill="#ea1b2d"/>
<rect x="109.60" y="658.00" width="612.90" height="469.40" fill="none" stroke="#000" stroke-width="3"/>
<text transform="translate(156.00,1165.50) scale(0.9050,1)" font-size="36.3" font-family="Liberation Sans, sans-serif" fill="#000">200</text>
<text transform="translate(261.89,1165.50) scale(0.9050,1)" font-size="36.3" font-family="Liberation Sans, sans-serif" fill="#000">300</text>
<text transform="translate(367.94,1165.50) scale(0.9050,1)" font-size="36.3" font-family="Liberation Sans, sans-serif" fill="#000">400</text>
<text transform="translate(473.33,1165.50) scale(0.9050,1)" font-size="36.3" font-family="Liberation Sans, sans-serif" fill="#000">500</text>
<text transform="translate(578.88,1165.50) scale(0.9050,1)" font-size="36.3" font-family="Liberation Sans, sans-serif" fill="#000">600</text>
<text transform="translate(684.60,1165.50) scale(0.9050,1)" font-size="36.3" font-family="Liberation Sans, sans-serif" fill="#000">700</text>
<text transform="translate(57.68,678.30) scale(0.9050,1)" font-size="36.3" font-family="Liberation Sans, sans-serif" fill="#000">90</text>
<text transform="translate(57.68,748.50) scale(0.9050,1)" font-size="36.3" font-family="Liberation Sans, sans-serif" fill="#000">80</text>
<text transform="translate(57.68,818.70) scale(0.9050,1)" font-size="36.3" font-family="Liberation Sans, sans-serif" fill="#000">70</text>
<text transform="translate(57.68,888.90) scale(0.9050,1)" font-size="36.3" font-family="Liberation Sans, sans-serif" fill="#000">60</text>
<text transform="translate(57.68,959.10) scale(0.9050,1)" font-size="36.3" font-family="Liberation Sans, sans-serif" fill="#000">50</text>
<text transform="translate(57.68,1029.30) scale(0.9050,1)" font-size="36.3" font-family="Liberation Sans, sans-serif" fill="#000">40</text>
<text transform="translate(57.68,1099.50) scale(0.9050,1)" font-size="36.3" font-family="Liberation Sans, sans-serif" fill="#000">30</text>
<text transform="translate(371.41,1198.80) scale(1.0999,1)" font-size="35.0" font-family="Liberation Sans, sans-serif" fill="#000">U (V)</text>
<text transform="translate(29.40,1032.53) rotate(-90) scale(1.0438,1)" font-size="35.0" font-family="Liberation Sans, sans-serif" fill="#000">Count rate (cts/s)</text>
<text transform="translate(110.59,641.00) scale(1.0715,1)" font-size="38" font-family="Liberation Serif, serif" font-weight="bold" fill="#000">b)</text>
<text transform="translate(162.50,641.00) scale(0.9720,1)" font-size="37.6" font-family="Liberation Sans, sans-serif" font-style="italic" fill="#000">N</text>
<text transform="translate(200.71,642.90) scale(1.8119,0.855)" font-size="33" font-family="Liberation Sans, sans-serif" fill="#000" stroke="#000" stroke-width="0.35">=</text>
<text transform="translate(246.45,641.00) scale(1.1628,1)" font-size="38" font-family="Liberation Serif, serif" font-weight="bold" fill="#000">3</text>
<path d="M980.10 1127.40v-15M1103.55 1127.40v-15M1227.00 1127.40v-15M1350.45 1127.40v-15M1473.90 1127.40v-15M980.10 658.00v15M1103.55 658.00v15M1227.00 658.00v15M1350.45 658.00v15M1473.90 658.00v15M856.80 736.40h15M856.80 814.55h15M856.80 892.70h15M856.80 970.85h15M856.80 1049.00h15M1486.60 736.40h-15M1486.60 814.55h-15M1486.60 892.70h-15M1486.60 970.85h-15M1486.60 1049.00h-15" stroke="#000" stroke-width="3" fill="none"/>
<path d="M881.6 891.1L882.1 897.6L882.6 904.2L883.1 910.9L883.6 917.6L884.1 924.4L884.6 931.3L885.1 938.3L885.6 945.3L886.1 952.4L886.6 959.5L887.1 966.4L887.6 973.3L888.1 980.2L888.6 987.1L889.1 994.0L889.6 1000.6L890.1 1007.1L890.6 1013.1L891.1 1019.0L891.6 1024.8L892.1 1030.3L892.6 1035.7L893.1 1040.7L893.6 1045.4L894.1 1049.7L894.6 1053.9L895.1 1057.9L895.6 1061.6L896.1 1065.1L896.6 1068.2L897.1 1071.0L897.6 1073.7L898.1 1076.3L898.6 1078.6L899.1 1080.8L899.6 1082.6L900.1 1084.0L900.6 1085.1L901.1 1086.2L901.6 1087.3L902.1 1088.2L902.6 1089.0L903.1 1089.7L903.6 1090.2L904.1 1090.5L904.6 1090.5L905.1 1090.2L905.6 1089.6L906.1 1088.7L906.6 1087.7L907.1 1086.5L907.6 1085.3L908.1 1083.7L908.6 1081.5L909.1 1078.8L909.6 1075.9L910.1 1072.7L910.6 1069.5L911.1 1066.4L911.6 1063.1L912.1 1059.5L912.6 1055.8L913.1 1052.0L913.6 1048.0L914.1 1044.1L914.6 1040.0L915.1 1035.7L915.6 1031.3L916.1 1026.9L916.6 1022.4L917.1 1018.0L917.6 1013.7L918.1 1009.3L918.6 1004.9L919.1 1000.5L919.6 996.2L920.1 991.9L920.6 987.8L921.1 983.6L921.6 979.5L922.1 975.4L922.6 971.4L923.1 967.5L923.6 963.8L924.1 960.2L924.6 956.6L925.1 953.1L925.6 949.7L926.1 946.5L926.6 943.5L927.1 940.8L927.6 938.1L928.1 935.6L928.6 933.3L929.1 931.0L929.6 929.0L930.1 927.1L930.6 925.3L931.1 923.6L931.6 921.9L932.1 920.5L932.6 919.1L933.1 918.0L933.6 917.0L934.1 916.1L934.6 915.4L935.1 914.8L935.6 914.4L936.1 914.0L936.6 913.7L937.1 913.5L937.6 913.5L938.1 913.6L938.6 913.8L939.1 914.1L939.6 914.5L940.1 915.0L940.6 915.6L941.1 916.4L941.6 917.3L942.1 918.3L942.6 919.4L943.1 920.5L943.6 921.7L944.1 923.2L944.6 924.7L945.1 926.3L945.6 928.0L946.1 929.7L946.6 931.5L947.1 933.4L947.6 935.4L948.1 937.5L948.6 939.6L949.1 941.7L949.6 943.9L950.1 946.2L950.6 948.5L951.1 950.9L951.6 953.3L952.1 955.7L952.6 958.0L953.1 960.3L953.6 962.6L954.1 964.9L954.6 967.2L955.1 969.6L955.6 972.0L956.1 974.5L956.6 977.2L957.1 979.8L957.6 982.6L958.1 985.3L958.6 988.0L959.1 990.7L959.6 993.3L960.1 996.0L960.6 998.7L961.1 1001.4L961.6 1004.0L962.1 1006.6L962.6 1009.2L963.1 1011.8L963.6 1014.3L964.1 1016.8L964.6 1019.2L965.1 1021.7L965.6 1024.1L966.1 1026.4L966.6 1028.8L967.1 1031.1L967.6 1033.4L968.1 1035.7L968.6 1038.0L969.1 1040.2L969.6 1042.5L970.1 1044.7L970.6 1046.8L971.1 1048.9L971.6 1051.0L972.1 1052.9L972.6 1054.9L973.1 1056.7L973.6 1058.6L974.1 1060.3L974.6 1062.0L975.1 1063.7L975.6 1065.3L976.1 1066.9L976.6 1068.4L977.1 1069.9L977.6 1071.3L978.1 1072.6L978.6 1073.9L979.1 1075.1L979.6 1076.3L980.1 1077.5L980.6 1078.6L981.1 1079.6L981.6 1080.6L982.1 1081.5L982.6 1082.4L983.1 1083.3L983.6 1084.1L984.1 1084.8L984.6 1085.4L985.1 1086.0L985.6 1086.6L986.1 1087.1L986.6 1087.6L987.1 1088.0L987.6 1088.4L988.1 1088.7L988.6 1089.0L989.1 1089.2L989.6 1089.5L990.1 1089.7L990.6 1089.8L991.1 1090.0L991.6 1090.1L992.1 1090.2L992.6 1090.3L993.1 1090.4L993.6 1090.4L994.1 1090.5L994.6 1090.5L995.1 1090.5L995.6 1090.5L996.1 1090.5L996.6 1090.5L997.1 1090.5L997.6 1090.5L998.1 1090.5L998.6 1090.5L999.1 1090.5L999.6 1090.5L1000.1 1090.5L1000.6 1090.5L1001.1 1090.5L1001.6 1090.5L1002.1 1090.5L1002.6 1090.5L1003.1 1090.5L1003.6 1090.5L1004.1 1090.5L1004.6 1090.5L1005.1 1090.5L1005.6 1090.5L1006.1 1090.5L1006.6 1090.5L1007.1 1090.5L1007.6 1090.5L1008.1 1090.5L1008.6 1090.5L1009.1 1090.5L1009.6 1090.5L1010.1 1090.5L1010.6 1090.5L1011.1 1090.5L1011.6 1090.5L1012.1 1090.5L1012.6 1090.5L1013.1 1090.5L1013.6 1090.5L1014.1 1090.5L1014.6 1090.5L1015.1 1090.5L1015.6 1090.5L1016.1 1090.5L1016.6 1090.5L1017.1 1090.5L1017.6 1090.5L1018.1 1090.5L1018.6 1090.5L1019.1 1090.5L1019.6 1090.5L1020.1 1090.5L1020.6 1090.5L1021.1 1090.5L1021.6 1090.5L1022.1 1090.5L1022.6 1090.5L1023.1 1090.5L1023.6 1090.5L1024.1 1090.5L1024.6 1090.5L1025.1 1090.4L1025.6 1090.4L1026.1 1090.4L1026.6 1090.3L1027.1 1090.3L1027.6 1090.3L1028.1 1090.2L1028.6 1090.2L1029.1 1090.1L1029.6 1090.0L1030.1 1089.8L1030.6 1089.4L1031.1 1088.9L1031.6 1088.3L1032.1 1087.7L1032.6 1087.1L1033.1 1086.4L1033.6 1085.4L1034.1 1084.4L1034.6 1083.3L1035.1 1082.1L1035.6 1081.0L1036.1 1079.8L1036.6 1078.6L1037.1 1077.3L1037.6 1075.9L1038.1 1074.5L1038.6 1073.1L1039.1 1071.6L1039.6 1070.0L1040.1 1068.4L1040.6 1066.8L1041.1 1065.0L1041.6 1063.3L1042.1 1061.5L1042.6 1059.6L1043.1 1057.7L1043.6 1055.7L1044.1 1053.7L1044.6 1051.6L1045.1 1049.5L1045.6 1047.3L1046.1 1045.1L1046.6 1042.8L1047.1 1040.4L1047.6 1038.1L1048.1 1035.6L1048.6 1033.1L1049.1 1030.6L1049.6 1028.0L1050.1 1025.3L1050.6 1022.6L1051.1 1019.9L1051.6 1017.1L1052.1 1014.2L1052.6 1011.3L1053.1 1008.2L1053.6 1005.2L1054.1 1002.1L1054.6 999.1L1055.1 996.1L1055.6 993.1L1056.1 990.2L1056.6 987.2L1057.1 984.2L1057.6 981.2L1058.1 978.1L1058.6 974.8L1059.1 971.5L1059.6 968.2L1060.1 964.8L1060.6 961.4L1061.1 958.0L1061.6 954.7L1062.1 951.4L1062.6 948.0L1063.1 944.7L1063.6 941.4L1064.1 938.0L1064.6 934.7L1065.1 931.4L1065.6 928.0L1066.1 924.7L1066.6 921.4L1067.1 918.0L1067.6 914.7L1068.1 911.4L1068.6 908.0L1069.1 904.7L1069.6 901.4L1070.1 898.0L1070.6 894.7L1071.1 891.4L1071.6 888.0L1072.1 884.7L1072.6 881.3L1073.1 878.0L1073.6 874.7L1074.1 871.4L1074.6 868.2L1075.1 865.0L1075.6 861.8L1076.1 858.6L1076.6 855.5L1077.1 852.4L1077.6 849.3L1078.1 846.3L1078.6 843.2L1079.1 840.2L1079.6 837.3L1080.1 834.3L1080.6 831.4L1081.1 828.5L1081.6 825.6L1082.1 822.8L1082.6 820.0L1083.1 817.2L1083.6 814.4L1084.1 811.7L1084.6 809.0L1085.1 806.3L1085.6 803.6L1086.1 801.0L1086.6 798.4L1087.1 795.8L1087.6 793.2L1088.1 790.6L1088.6 788.1L1089.1 785.6L1089.6 783.2L1090.1 780.9L1090.6 778.6L1091.1 776.3L1091.6 774.1L1092.1 772.0L1092.6 769.9L1093.1 767.8L1093.6 765.9L1094.1 763.9L1094.6 762.0L1095.1 760.2L1095.6 758.4L1096.1 756.7L1096.6 755.0L1097.1 753.4L1097.6 751.8L1098.1 750.3L1098.6 748.8L1099.1 747.4L1099.6 746.1L1100.1 744.8L1100.6 743.5L1101.1 742.3L1101.6 741.1L1102.1 740.0L1102.6 739.0L1103.1 738.0L1103.6 737.0L1104.1 736.1L1104.6 735.2L1105.1 734.4L1105.6 733.7L1106.1 733.1L1106.6 732.6L1107.1 732.1L1107.6 731.7L1108.1 731.3L1108.6 730.9L1109.1 730.7L1109.6 730.5L1110.1 730.3L1110.6 730.2L1111.1 730.1L1111.6 730.0L1112.1 730.0L1112.6 730.1L1113.1 730.3L1113.6 730.5L1114.1 730.8L1114.6 731.1L1115.1 731.5L1115.6 732.0L1116.1 732.7L1116.6 733.4L1117.1 734.2L1117.6 735.1L1118.1 735.9L1118.6 737.0L1119.1 738.1L1119.6 739.3L1120.1 740.6L1120.6 741.9L1121.1 743.2L1121.6 744.5L1122.1 745.9L1122.6 747.4L1123.1 748.9L1123.6 750.5L1124.1 752.2L1124.6 754.0L1125.1 755.8L1125.6 757.8L1126.1 759.8L1126.6 761.9L1127.1 764.1L1127.6 766.2L1128.1 768.5L1128.6 770.7L1129.1 773.1L1129.6 775.4L1130.1 777.9L1130.6 780.3L1131.1 782.9L1131.6 785.5L1132.1 788.2L1132.6 790.9L1133.1 793.6L1133.6 796.3L1134.1 799.0L1134.6 801.7L1135.1 804.3L1135.6 807.0L1136.1 809.7L1136.6 812.3L1137.1 815.0L1137.6 817.7L1138.1 820.3L1138.6 822.9L1139.1 825.6L1139.6 828.3L1140.1 831.0L1140.6 833.8L1141.1 836.6L1141.6 839.4L1142.1 842.3L1142.6 845.1L1143.1 848.0L1143.6 850.8L1144.1 853.7L1144.6 856.5L1145.1 859.3L1145.6 862.2L1146.1 865.0L1146.6 867.8L1147.1 870.7L1147.6 873.5L1148.1 876.3L1148.6 879.2L1149.1 882.0L1149.6 884.8L1150.1 887.7L1150.6 890.5L1151.1 893.3L1151.6 896.2L1152.1 899.0L1152.6 901.8L1153.1 904.7L1153.6 907.6L1154.1 910.6L1154.6 913.5L1155.1 916.4L1155.6 919.2L1156.1 921.7L1156.6 924.0L1157.1 926.1L1157.6 928.1L1158.1 930.0L1158.6 931.9L1159.1 933.9L1159.6 936.0L1160.1 938.4L1160.6 941.0L1161.1 943.9L1161.6 947.0L1162.1 950.2L1162.6 953.3L1163.1 956.4L1163.6 959.4L1164.1 962.4L1164.6 965.4L1165.1 968.4L1165.6 971.4L1166.1 974.4L1166.6 977.4L1167.1 980.4L1167.6 983.4L1168.1 986.4L1168.6 989.4L1169.1 992.4L1169.6 995.4L1170.1 998.5L1170.6 1001.5L1171.1 1004.6L1171.6 1007.6L1172.1 1010.6L1172.6 1013.5L1173.1 1016.3L1173.6 1019.1L1174.1 1021.8L1174.6 1024.5L1175.1 1027.2L1175.6 1029.7L1176.1 1032.2L1176.6 1034.7L1177.1 1037.1L1177.6 1039.5L1178.1 1041.8L1178.6 1044.1L1179.1 1046.3L1179.6 1048.4L1180.1 1050.5L1180.6 1052.6L1181.1 1054.6L1181.6 1056.5L1182.1 1058.4L1182.6 1060.2L1183.1 1062.0L1183.6 1063.8L1184.1 1065.4L1184.6 1067.1L1185.1 1068.7L1185.6 1070.2L1186.1 1071.7L1186.6 1073.1L1187.1 1074.5L1187.6 1075.8L1188.1 1077.1L1188.6 1078.3L1189.1 1079.4L1189.6 1080.5L1190.1 1081.6L1190.6 1082.6L1191.1 1083.6L1191.6 1084.5L1192.1 1085.3L1192.6 1086.1L1193.1 1086.8L1193.6 1087.5L1194.1 1088.2L1194.6 1088.8L1195.1 1089.3L1195.6 1089.8L1196.1 1090.3L1196.6 1090.7L1197.1 1091.2L1197.6 1091.5L1198.1 1091.8L1198.6 1092.1L1199.1 1092.4L1199.6 1092.7L1200.1 1092.9L1200.6 1093.1L1201.1 1093.3L1201.6 1093.3L1202.1 1093.3L1202.6 1093.2L1203.1 1093.1L1203.6 1093.0L1204.1 1092.9L1204.6 1092.7L1205.1 1092.6L1205.6 1092.3L1206.1 1092.1L1206.6 1091.7L1207.1 1091.3L1207.6 1090.9L1208.1 1090.5L1208.6 1090.0L1209.1 1089.3L1209.6 1088.7L1210.1 1088.0L1210.6 1087.2L1211.1 1086.5L1211.6 1085.7L1212.1 1084.9L1212.6 1084.2L1213.1 1083.3L1213.6 1082.5L1214.1 1081.6L1214.6 1080.6L1215.1 1079.5L1215.6 1078.3L1216.1 1077.1L1216.6 1075.9L1217.1 1074.7L1217.6 1073.5L1218.1 1072.5L1218.6 1071.4L1219.1 1070.4L1219.6 1069.4L1220.1 1068.4L1220.6 1067.5L1221.1 1066.5L1221.6 1065.5L1222.1 1064.5L1222.6 1063.5L1223.1 1062.5L1223.6 1061.5L1224.1 1060.5L1224.6 1059.5L1225.1 1058.5L1225.6 1057.5L1226.1 1056.5L1226.6 1055.5L1227.1 1054.5L1227.6 1053.6L1228.1 1052.6L1228.6 1051.6L1229.1 1050.6L1229.6 1049.6L1230.1 1048.6L1230.6 1047.5L1231.1 1046.4L1231.6 1045.3L1232.1 1044.2L1232.6 1043.1L1233.1 1042.0L1233.6 1040.8L1234.1 1039.7L1234.6 1038.5L1235.1 1037.3L1235.6 1036.1L1236.1 1034.8L1236.6 1033.6L1237.1 1032.3L1237.6 1031.0L1238.1 1029.8L1238.6 1028.5L1239.1 1027.2L1239.6 1026.0L1240.1 1024.7L1240.6 1023.5L1241.1 1022.2L1241.6 1021.0L1242.1 1019.7L1242.6 1018.5L1243.1 1017.2L1243.6 1016.0L1244.1 1014.8L1244.6 1013.6L1245.1 1012.4L1245.6 1011.2L1246.1 1010.0L1246.6 1008.8L1247.1 1007.6L1247.6 1006.4L1248.1 1005.3L1248.6 1004.1L1249.1 1002.9L1249.6 1001.7L1250.1 1000.6L1250.6 999.4L1251.1 998.2L1251.6 997.0L1252.1 995.9L1252.6 994.7L1253.1 993.5L1253.6 992.3L1254.1 991.1L1254.6 989.9L1255.1 988.8L1255.6 987.6L1256.1 986.5L1256.6 985.4L1257.1 984.2L1257.6 983.1L1258.1 982.0L1258.6 980.9L1259.1 979.9L1259.6 978.8L1260.1 977.8L1260.6 976.9L1261.1 975.9L1261.6 975.0L1262.1 974.1L1262.6 973.2L1263.1 972.3L1263.6 971.5L1264.1 970.7L1264.6 969.9L1265.1 969.2L1265.6 968.5L1266.1 967.8L1266.6 967.1L1267.1 966.4L1267.6 965.7L1268.1 965.1L1268.6 964.4L1269.1 963.8L1269.6 963.3L1270.1 962.7L1270.6 962.2L1271.1 961.8L1271.6 961.3L1272.1 960.9L1272.6 960.4L1273.1 960.0L1273.6 959.6L1274.1 959.2L1274.6 958.8L1275.1 958.5L1275.6 958.2L1276.1 957.9L1276.6 957.6L1277.1 957.3L1277.6 957.1L1278.1 956.9L1278.6 956.7L1279.1 956.5L1279.6 956.3L1280.1 956.1L1280.6 955.9L1281.1 955.8L1281.6 955.6L1282.1 955.5L1282.6 955.3L1283.1 955.2L1283.6 955.1L1284.1 955.0L1284.6 954.9L1285.1 954.8L1285.6 954.7L1286.1 954.6L1286.6 954.5L1287.1 954.5L1287.6 954.4L1288.1 954.4L1288.6 954.4L1289.1 954.5L1289.6 954.5L1290.1 954.6L1290.6 954.6L1291.1 954.7L1291.6 954.8L1292.1 954.9L1292.6 955.0L1293.1 955.2L1293.6 955.3L1294.1 955.4L1294.6 955.5L1295.1 955.7L1295.6 955.9L1296.1 956.1L1296.6 956.4L1297.1 956.7L1297.6 957.0L1298.1 957.3L1298.6 957.7L1299.1 958.0L1299.6 958.4L1300.1 958.8L1300.6 959.2L1301.1 959.5L1301.6 959.9L1302.1 960.4L1302.6 960.8L1303.1 961.3L1303.6 961.8L1304.1 962.3L1304.6 962.8L1305.1 963.4L1305.6 963.9L1306.1 964.5L1306.6 965.0L1307.1 965.6L1307.6 966.2L1308.1 966.8L1308.6 967.4L1309.1 968.0L1309.6 968.7L1310.1 969.3L1310.6 970.0L1311.1 970.7L1311.6 971.4L1312.1 972.1L1312.6 972.8L1313.1 973.5L1313.6 974.2L1314.1 974.9L1314.6 975.7L1315.1 976.4L1315.6 977.1L1316.1 977.8L1316.6 978.6L1317.1 979.3L1317.6 980.1L1318.1 980.9L1318.6 981.6L1319.1 982.4L1319.6 983.2L1320.1 984.0L1320.6 984.8L1321.1 985.6L1321.6 986.4L1322.1 987.2L1322.6 988.0L1323.1 988.9L1323.6 989.7L1324.1 990.5L1324.6 991.4L1325.1 992.2L1325.6 993.1L1326.1 994.0L1326.6 994.8L1327.1 995.7L1327.6 996.6L1328.1 997.5L1328.6 998.4L1329.1 999.4L1329.6 1000.3L1330.1 1001.2L1330.6 1002.1L1331.1 1003.1L1331.6 1004.0L1332.1 1004.9L1332.6 1005.9L1333.1 1006.8L1333.6 1007.7L1334.1 1008.6L1334.6 1009.5L1335.1 1010.4L1335.6 1011.4L1336.1 1012.3L1336.6 1013.2L1337.1 1014.1L1337.6 1015.0L1338.1 1015.9L1338.6 1016.9L1339.1 1017.8L1339.6 1018.7L1340.1 1019.6L1340.6 1020.5L1341.1 1021.4L1341.6 1022.4L1342.1 1023.3L1342.6 1024.2L1343.1 1025.1L1343.6 1026.0L1344.1 1026.9L1344.6 1027.9L1345.1 1028.8L1345.6 1029.7L1346.1 1030.6L1346.6 1031.5L1347.1 1032.5L1347.6 1033.4L1348.1 1034.3L1348.6 1035.2L1349.1 1036.2L1349.6 1037.1L1350.1 1038.0L1350.6 1038.9L1351.1 1039.8L1351.6 1040.7L1352.1 1041.6L1352.6 1042.5L1353.1 1043.3L1353.6 1044.2L1354.1 1045.0L1354.6 1045.9L1355.1 1046.7L1355.6 1047.6L1356.1 1048.4L1356.6 1049.2L1357.1 1050.0L1357.6 1050.8L1358.1 1051.6L1358.6 1052.4L1359.1 1053.2L1359.6 1054.0L1360.1 1054.8L1360.6 1055.5L1361.1 1056.3L1361.6 1057.1L1362.1 1057.8L1362.6 1058.6L1363.1 1059.3L1363.6 1060.0L1364.1 1060.7L1364.6 1061.4L1365.1 1062.1L1365.6 1062.8L1366.1 1063.5L1366.6 1064.1L1367.1 1064.8L1367.6 1065.4L1368.1 1066.1L1368.6 1066.7L1369.1 1067.3L1369.6 1067.9L1370.1 1068.5L1370.6 1069.1L1371.1 1069.7L1371.6 1070.3L1372.1 1070.8L1372.6 1071.4L1373.1 1072.0L1373.6 1072.5L1374.1 1073.1L1374.6 1073.6L1375.1 1074.1L1375.6 1074.7L1376.1 1075.2L1376.6 1075.7L1377.1 1076.2L1377.6 1076.6L1378.1 1077.1L1378.6 1077.6L1379.1 1078.0L1379.6 1078.5L1380.1 1078.9L1380.6 1079.3L1381.1 1079.8L1381.6 1080.2L1382.1 1080.6L1382.6 1081.0L1383.1 1081.3L1383.6 1081.7L1384.1 1082.1L1384.6 1082.4L1385.1 1082.7L1385.6 1083.1L1386.1 1083.4L1386.6 1083.7L1387.1 1084.0L1387.6 1084.3L1388.1 1084.6L1388.6 1084.9L1389.1 1085.1L1389.6 1085.4L1390.1 1085.7L1390.6 1085.9L1391.1 1086.2L1391.6 1086.4L1392.1 1086.7L1392.6 1086.9L1393.1 1087.2L1393.6 1087.4L1394.1 1087.7L1394.6 1087.9L1395.1 1088.1L1395.6 1088.3L1396.1 1088.5L1396.6 1088.7L1397.1 1088.9L1397.6 1089.1L1398.1 1089.3L1398.6 1089.5L1399.1 1089.7L1399.6 1089.9L1400.1 1090.0L1400.6 1090.2L1401.1 1090.4L1401.6 1090.5L1402.1 1090.7L1402.6 1090.8L1403.1 1090.9L1403.6 1091.1L1404.1 1091.2L1404.6 1091.3L1405.1 1091.4L1405.6 1091.5L1406.1 1091.6L1406.6 1091.7L1407.1 1091.8L1407.6 1091.9L1408.1 1092.0L1408.6 1092.1L1409.1 1092.2L1409.6 1092.2L1410.1 1092.3L1410.6 1092.4L1411.1 1092.5L1411.6 1092.6L1412.1 1092.6L1412.6 1092.7L1413.1 1092.8L1413.6 1092.8L1414.1 1092.9L1414.6 1093.0L1415.1 1093.0L1415.6 1093.1L1416.1 1093.1L1416.6 1093.1L1417.1 1093.2L1417.6 1093.2L1418.1 1093.2L1418.6 1093.3L1419.1 1093.3L1419.6 1093.3L1420.1 1093.3L1420.6 1093.4L1421.1 1093.4L1421.6 1093.4L1422.1 1093.4L1422.6 1093.4L1423.1 1093.5L1423.6 1093.5L1424.1 1093.5L1424.6 1093.5L1425.1 1093.5L1425.6 1093.5L1426.1 1093.5L1426.6 1093.5L1427.1 1093.5L1427.6 1093.5L1428.1 1093.5L1428.6 1093.5L1429.1 1093.5L1429.6 1093.5L1430.1 1093.5L1430.6 1093.5L1431.1 1093.5L1431.6 1093.5L1432.1 1093.5L1432.6 1093.4L1433.1 1093.4L1433.6 1093.4L1434.1 1093.4L1434.6 1093.4L1435.1 1093.4L1435.6 1093.4L1436.1 1093.3L1436.6 1093.3L1437.1 1093.3L1437.6 1093.3L1438.1 1093.3L1438.6 1093.3L1439.1 1093.2L1439.6 1093.2L1440.1 1093.2L1440.6 1093.2L1441.1 1093.1L1441.6 1093.1L1442.1 1093.1L1442.6 1093.0L1443.1 1093.0L1443.6 1093.0L1444.1 1092.9L1444.6 1092.9L1445.1 1092.9L1445.6 1092.8L1446.1 1092.8L1446.6 1092.8L1447.1 1092.7L1447.6 1092.7L1448.1 1092.7L1448.6 1092.6L1449.1 1092.6L1449.6 1092.6L1450.1 1092.5L1450.6 1092.5L1451.1 1092.5L1451.6 1092.5L1452.1 1092.4L1452.6 1092.4L1453.1 1092.4L1453.6 1092.3L1454.1 1092.3L1454.6 1092.3L1455.1 1092.2L1455.6 1092.2L1456.1 1092.2L1456.6 1092.1L1457.1 1092.1L1457.6 1092.1L1458.1 1092.1L1458.6 1092.0L1459.1 1092.0L1459.6 1092.0L1460.1 1091.9L1460.6 1091.9L1461.1 1091.9L1461.6 1091.9L1462.1 1091.8L1462.6 1091.8L1463.1 1091.8L1463.6 1091.7L1464.1 1091.7L1464.6 1091.7L1465.1 1091.7L1465.6 1091.6L1466.1 1091.6L1466.6 1091.6L1467.1 1091.6L1467.6 1091.5L1468.1 1091.5L1468.6 1091.5L1469.1 1091.4L1469.6 1091.4L1470.1 1091.4L1470.6 1091.4L1471.1 1091.3L1471.6 1091.3L1472.1 1091.3L1472.6 1091.3L1473.1 1091.2L1473.6 1091.2L1474.0 1091.2" stroke="#1f28db" stroke-width="3.4" fill="none" stroke-linejoin="round"/>
<path d="M881.6 886.8V968.3M906.1 1057.0V1124.7M930.6 916.2V954.6M955.4 950.8V970.0M980.1 1055.3V1106.1M1004.9 1059.0V1099.1M1029.8 1072.0V1111.2M1054.4 974.3V1029.7M1078.9 845.2V907.5M1103.4 682.0V721.0M1128.2 752.0V779.3M1152.9 880.4V940.1M1177.7 1016.9V1056.4M1202.5 1061.3V1101.8M1227.2 1044.7V1059.6M1251.7 980.2V1022.9M1276.3 940.1V954.0M1301.4 945.0V979.6M1326.0 1004.1V1052.8M1375.5 1041.5V1095.9M1474.0 1056.4V1102.7" stroke="#ea1b2d" stroke-width="3.6" fill="none"/>
<circle cx="881.6" cy="927.8" r="6.65" fill="#ea1b2d"/>
<circle cx="906.1" cy="1090.5" r="6.65" fill="#ea1b2d"/>
<circle cx="930.6" cy="935.2" r="6.65" fill="#ea1b2d"/>
<circle cx="955.4" cy="960.8" r="6.65" fill="#ea1b2d"/>
<circle cx="980.1" cy="1080.5" r="6.65" fill="#ea1b2d"/>
<circle cx="1004.9" cy="1078.8" r="6.65" fill="#ea1b2d"/>
<circle cx="1029.8" cy="1092.0" r="6.65" fill="#ea1b2d"/>
<circle cx="1054.4" cy="1002.0" r="6.65" fill="#ea1b2d"/>
<circle cx="1078.9" cy="876.1" r="6.65" fill="#ea1b2d"/>
<circle cx="1103.4" cy="701.6" r="6.65" fill="#ea1b2d"/>
<circle cx="1128.2" cy="765.6" r="6.65" fill="#ea1b2d"/>
<circle cx="1152.9" cy="910.3" r="6.65" fill="#ea1b2d"/>
<circle cx="1177.7" cy="1036.1" r="6.65" fill="#ea1b2d"/>
<circle cx="1202.5" cy="1082.0" r="6.65" fill="#ea1b2d"/>
<circle cx="1227.2" cy="1052.1" r="6.65" fill="#ea1b2d"/>
<circle cx="1251.7" cy="1001.6" r="6.65" fill="#ea1b2d"/>
<circle cx="1276.3" cy="947.2" r="6.65" fill="#ea1b2d"/>
<circle cx="1301.4" cy="962.5" r="6.65" fill="#ea1b2d"/>
<circle cx="1326.0" cy="1028.7" r="6.65" fill="#ea1b2d"/>
<circle cx="1375.5" cy="1068.8" r="6.65" fill="#ea1b2d"/>
<circle cx="1474.0" cy="1079.2" r="6.65" fill="#ea1b2d"/>
<rect x="856.80" y="658.00" width="629.80" height="469.40" fill="none" stroke="#000" stroke-width="3"/>
<text transform="translate(828.70,1165.50) scale(0.9050,1)" font-size="36.3" font-family="Liberation Sans, sans-serif" fill="#000">200</text>
<text transform="translate(952.67,1165.50) scale(0.9050,1)" font-size="36.3" font-family="Liberation Sans, sans-serif" fill="#000">300</text>
<text transform="translate(1076.45,1165.50) scale(0.9050,1)" font-size="36.3" font-family="Liberation Sans, sans-serif" fill="#000">400</text>
<text transform="translate(1199.57,1165.50) scale(0.9050,1)" font-size="36.3" font-family="Liberation Sans, sans-serif" fill="#000">500</text>
<text transform="translate(1322.85,1165.50) scale(0.9050,1)" font-size="36.3" font-family="Liberation Sans, sans-serif" fill="#000">600</text>
<text transform="translate(1446.30,1165.50) scale(0.9050,1)" font-size="36.3" font-family="Liberation Sans, sans-serif" fill="#000">700</text>
<text transform="translate(787.15,664.70) scale(0.9050,1)" font-size="36.3" font-family="Liberation Sans, sans-serif" fill="#000">160</text>
<text transform="translate(787.15,742.90) scale(0.9050,1)" font-size="36.3" font-family="Liberation Sans, sans-serif" fill="#000">140</text>
<text transform="translate(787.15,821.05) scale(0.9050,1)" font-size="36.3" font-family="Liberation Sans, sans-serif" fill="#000">120</text>
<text transform="translate(787.15,899.20) scale(0.9050,1)" font-size="36.3" font-family="Liberation Sans, sans-serif" fill="#000">100</text>
<text transform="translate(805.38,977.35) scale(0.9050,1)" font-size="36.3" font-family="Liberation Sans, sans-serif" fill="#000">80</text>
<text transform="translate(805.38,1055.50) scale(0.9050,1)" font-size="36.3" font-family="Liberation Sans, sans-serif" fill="#000">60</text>
<text transform="translate(805.38,1134.10) scale(0.9050,1)" font-size="36.3" font-family="Liberation Sans, sans-serif" fill="#000">40</text>
<text transform="translate(1126.41,1199.00) scale(1.0999,1)" font-size="35.0" font-family="Liberation Sans, sans-serif" fill="#000">U (V)</text>
<text transform="translate(855.85,641.30) scale(1.2406,1)" font-size="38" font-family="Liberation Serif, serif" font-weight="bold" fill="#000">c)</text>
<text transform="translate(907.61,641.30) scale(0.9682,1)" font-size="37.6" font-family="Liberation Sans, sans-serif" font-style="italic" fill="#000">N</text>
<text transform="translate(944.50,643.20) scale(1.8807,0.855)" font-size="33" font-family="Liberation Sans, sans-serif" fill="#000" stroke="#000" stroke-width="0.35">=</text>
<text transform="translate(990.61,641.30) scale(1.2111,1)" font-size="38" font-family="Liberation Serif, serif" font-weight="bold" fill="#000">4</text>
<path d="M156.20 1714.50v-15M229.35 1714.50v-15M302.50 1714.50v-15M375.65 1714.50v-15M448.80 1714.50v-15M521.95 1714.50v-15M595.10 1714.50v-15M668.25 1714.50v-15M156.20 1244.50v15M229.35 1244.50v15M302.50 1244.50v15M375.65 1244.50v15M448.80 1244.50v15M521.95 1244.50v15M595.10 1244.50v15M668.25 1244.50v15M123.60 1287.20h15M123.60 1358.55h15M123.60 1429.90h15M123.60 1501.25h15M123.60 1572.60h15M123.60 1643.95h15M722.50 1287.20h-15M722.50 1358.55h-15M722.50 1429.90h-15M722.50 1501.25h-15M722.50 1572.60h-15M722.50 1643.95h-15" stroke="#000" stroke-width="3" fill="none"/>
<path d="M138.0 1686.5L138.5 1689.3L139.0 1691.6L139.5 1693.6L140.0 1695.1L140.5 1696.2L141.0 1696.9L141.5 1697.2L142.0 1697.0L142.5 1696.2L143.0 1694.8L143.5 1693.2L144.0 1691.4L144.5 1689.7L145.0 1688.1L145.5 1686.5L146.0 1684.8L146.5 1683.1L147.0 1681.3L147.5 1679.6L148.0 1678.1L148.5 1676.5L149.0 1675.0L149.5 1673.4L150.0 1672.0L150.5 1670.7L151.0 1669.8L151.5 1669.2L152.0 1668.6L152.5 1668.2L153.0 1667.8L153.5 1667.5L154.0 1667.1L154.5 1666.8L155.0 1666.6L155.5 1666.3L156.0 1666.0L156.5 1665.7L157.0 1665.5L157.5 1665.3L158.0 1665.1L158.5 1664.9L159.0 1664.6L159.5 1664.3L160.0 1663.9L160.5 1663.5L161.0 1662.9L161.5 1662.2L162.0 1661.5L162.5 1660.7L163.0 1659.8L163.5 1658.8L164.0 1657.6L164.5 1656.3L165.0 1654.8L165.5 1653.2L166.0 1651.4L166.5 1649.4L167.0 1647.1L167.5 1644.5L168.0 1641.4L168.5 1637.9L169.0 1634.0L169.5 1629.9L170.0 1625.6L170.5 1620.9L171.0 1615.7L171.5 1609.6L172.0 1602.2L172.5 1593.3L173.0 1583.6L173.5 1573.8L174.0 1564.3L174.5 1554.7L175.0 1544.8L175.5 1534.3L176.0 1523.2L176.5 1511.0L177.0 1498.3L177.5 1485.3L178.0 1472.7L178.5 1459.8L179.0 1446.9L179.5 1434.3L180.0 1422.6L180.5 1411.7L181.0 1401.4L181.5 1391.5L182.0 1382.2L182.5 1373.2L183.0 1364.2L183.5 1355.8L184.0 1348.6L184.5 1343.1L185.0 1338.4L185.5 1334.3L186.0 1331.1L186.5 1329.0L187.0 1327.4L187.5 1326.2L188.0 1325.6L188.5 1326.0L189.0 1327.5L189.5 1329.7L190.0 1332.4L190.5 1336.2L191.0 1341.1L191.5 1346.5L192.0 1352.4L192.5 1359.6L193.0 1367.8L193.5 1376.6L194.0 1385.5L194.5 1395.0L195.0 1405.2L195.5 1415.5L196.0 1425.7L196.5 1435.7L197.0 1445.6L197.5 1455.6L198.0 1465.7L198.5 1476.0L199.0 1486.4L199.5 1497.0L200.0 1507.6L200.5 1518.1L201.0 1528.8L201.5 1539.6L202.0 1550.0L202.5 1560.0L203.0 1569.5L203.5 1578.7L204.0 1587.5L204.5 1595.9L205.0 1604.0L205.5 1611.8L206.0 1619.3L206.5 1626.3L207.0 1633.0L207.5 1639.6L208.0 1645.9L208.5 1651.4L209.0 1656.0L209.5 1660.1L210.0 1663.7L210.5 1666.9L211.0 1669.7L211.5 1672.2L212.0 1674.7L212.5 1676.6L213.0 1677.9L213.5 1678.5L214.0 1679.0L214.5 1679.4L215.0 1679.7L215.5 1680.0L216.0 1680.1L216.5 1680.1L217.0 1679.9L217.5 1679.5L218.0 1679.0L218.5 1678.4L219.0 1677.7L219.5 1676.9L220.0 1676.0L220.5 1674.8L221.0 1673.4L221.5 1671.7L222.0 1669.9L222.5 1668.1L223.0 1666.1L223.5 1663.8L224.0 1661.1L224.5 1658.3L225.0 1655.4L225.5 1652.5L226.0 1649.7L226.5 1646.8L227.0 1643.8L227.5 1640.8L228.0 1637.7L228.5 1634.7L229.0 1631.6L229.5 1628.6L230.0 1625.4L230.5 1622.4L231.0 1619.5L231.5 1616.8L232.0 1614.2L232.5 1611.7L233.0 1609.7L233.5 1608.4L234.0 1607.3L234.5 1606.5L235.0 1605.8L235.5 1605.5L236.0 1605.3L236.5 1605.1L237.0 1605.0L237.5 1605.4L238.0 1606.2L238.5 1607.2L239.0 1608.4L239.5 1610.0L240.0 1612.1L240.5 1614.5L241.0 1617.1L241.5 1620.1L242.0 1623.6L242.5 1627.5L243.0 1631.4L243.5 1635.6L244.0 1640.1L244.5 1644.8L245.0 1649.4L245.5 1653.9L246.0 1658.4L246.5 1662.9L247.0 1667.4L247.5 1672.0L248.0 1676.9L248.5 1681.7L249.0 1686.1L249.5 1689.6L250.0 1692.6L250.5 1695.0L251.0 1696.4L251.5 1697.3L252.0 1697.6L252.5 1696.9L253.0 1695.4L253.5 1693.5L254.0 1690.8L254.5 1686.7L255.0 1681.6L255.5 1676.1L256.0 1669.6L256.5 1662.1L257.0 1653.6L257.5 1643.4L258.0 1632.1L258.5 1620.5L259.0 1608.5L259.5 1595.9L260.0 1582.7L260.5 1568.5L261.0 1553.2L261.5 1537.7L262.0 1522.6L262.5 1508.4L263.0 1494.3L263.5 1480.7L264.0 1467.7L264.5 1455.4L265.0 1443.8L265.5 1432.7L266.0 1422.1L266.5 1412.0L267.0 1402.4L267.5 1393.2L268.0 1384.5L268.5 1376.1L269.0 1367.8L269.5 1359.7L270.0 1352.1L270.5 1345.3L271.0 1339.7L271.5 1334.6L272.0 1330.0L272.5 1326.1L273.0 1322.8L273.5 1319.6L274.0 1317.0L274.5 1315.4L275.0 1314.7L275.5 1314.3L276.0 1314.6L276.5 1315.7L277.0 1317.2L277.5 1319.1L278.0 1322.2L278.5 1326.0L279.0 1330.3L279.5 1335.2L280.0 1341.4L280.5 1348.7L281.0 1356.6L281.5 1364.5L282.0 1372.8L282.5 1381.7L283.0 1391.1L283.5 1400.8L284.0 1411.1L284.5 1422.1L285.0 1433.4L285.5 1444.7L286.0 1456.0L286.5 1467.3L287.0 1478.8L287.5 1490.5L288.0 1502.5L288.5 1515.0L289.0 1527.8L289.5 1540.4L290.0 1552.6L290.5 1564.4L291.0 1576.1L291.5 1587.5L292.0 1598.5L292.5 1609.0L293.0 1619.3L293.5 1629.2L294.0 1638.7L294.5 1648.1L295.0 1657.2L295.5 1665.9L296.0 1673.6L296.5 1681.0L297.0 1687.5L297.5 1691.8L298.0 1695.2L298.5 1697.7L299.0 1698.2L299.5 1697.3L300.0 1695.5L300.5 1693.2L301.0 1689.7L301.5 1684.0L302.0 1677.3L302.5 1670.5L303.0 1662.9L303.5 1654.6L304.0 1646.2L304.5 1638.0L305.0 1629.9L305.5 1621.7L306.0 1613.7L306.5 1606.0L307.0 1598.6L307.5 1591.4L308.0 1584.5L308.5 1577.8L309.0 1571.3L309.5 1565.1L310.0 1559.1L310.5 1553.3L311.0 1547.8L311.5 1542.4L312.0 1537.3L312.5 1532.5L313.0 1528.1L313.5 1524.1L314.0 1520.2L314.5 1516.9L315.0 1514.1L315.5 1511.7L316.0 1509.6L316.5 1507.8L317.0 1506.6L317.5 1505.9L318.0 1505.5L318.5 1505.2L319.0 1505.3L319.5 1505.7L320.0 1506.6L320.5 1507.6L321.0 1508.9L321.5 1510.4L322.0 1512.0L322.5 1514.3L323.0 1517.4L323.5 1520.8L324.0 1524.2L324.5 1527.5L325.0 1530.8L325.5 1534.4L326.0 1538.1L326.5 1542.1L327.0 1546.5L327.5 1551.0L328.0 1555.8L328.5 1560.5L329.0 1565.4L329.5 1570.5L330.0 1575.6L330.5 1580.6L331.0 1585.6L331.5 1590.6L332.0 1595.6L332.5 1600.6L333.0 1605.6L333.5 1610.7L334.0 1615.8L334.5 1620.7L335.0 1625.4L335.5 1630.0L336.0 1634.6L336.5 1638.9L337.0 1643.2L337.5 1647.4L338.0 1651.5L338.5 1655.4L339.0 1659.1L339.5 1662.6L340.0 1666.0L340.5 1669.2L341.0 1672.1L341.5 1674.9L342.0 1677.6L342.5 1680.1L343.0 1682.4L343.5 1684.4L344.0 1686.4L344.5 1688.2L345.0 1689.8L345.5 1691.2L346.0 1692.4L346.5 1693.5L347.0 1694.5L347.5 1695.1L348.0 1695.5L348.5 1695.9L349.0 1696.2L349.5 1696.5L350.0 1696.7L350.5 1696.8L351.0 1696.7L351.5 1696.4L352.0 1695.8L352.5 1695.1L353.0 1694.3L353.5 1693.5L354.0 1692.8L354.5 1692.0L355.0 1691.2L355.5 1690.3L356.0 1689.4L356.5 1688.5L357.0 1687.7L357.5 1687.0L358.0 1686.3L358.5 1685.5L359.0 1684.8L359.5 1684.2L360.0 1683.6L360.5 1683.1L361.0 1682.6L361.5 1682.2L362.0 1681.7L362.5 1681.3L363.0 1680.9L363.5 1680.6L364.0 1680.3L364.5 1680.2L365.0 1680.0L365.5 1679.9L366.0 1679.8L366.5 1679.7L367.0 1679.6L367.5 1679.5L368.0 1679.5L368.5 1679.5L369.0 1679.5L369.5 1679.6L370.0 1679.8L370.5 1680.0L371.0 1680.2L371.5 1680.4L372.0 1680.6L372.5 1680.9L373.0 1681.2L373.5 1681.4L374.0 1681.7L374.5 1682.1L375.0 1682.5L375.5 1682.9L376.0 1683.3L376.5 1683.7L377.0 1684.1L377.5 1684.5L378.0 1684.9L378.5 1685.2L379.0 1685.6L379.5 1685.9L380.0 1686.3L380.5 1686.6L381.0 1687.0L381.5 1687.3L382.0 1687.6L382.5 1687.9L383.0 1688.2L383.5 1688.5L384.0 1688.8L384.5 1689.1L385.0 1689.3L385.5 1689.6L386.0 1689.8L386.5 1690.1L387.0 1690.3L387.5 1690.6L388.0 1690.8L388.5 1691.0L389.0 1691.1L389.5 1691.3L390.0 1691.4L390.5 1691.5L391.0 1691.6L391.5 1691.7L392.0 1691.8L392.5 1691.9L393.0 1692.0L393.5 1692.1L394.0 1692.1L394.5 1692.2L395.0 1692.2L395.5 1692.3L396.0 1692.3L396.5 1692.3L397.0 1692.3L397.5 1692.3L398.0 1692.2L398.5 1692.2L399.0 1692.1L399.5 1692.1L400.0 1692.0L400.5 1691.9L401.0 1691.8L401.5 1691.7L402.0 1691.6L402.5 1691.5L403.0 1691.4L403.5 1691.3L404.0 1691.2L404.5 1691.0L405.0 1690.8L405.5 1690.6L406.0 1690.4L406.5 1690.2L407.0 1690.0L407.5 1689.7L408.0 1689.4L408.5 1689.2L409.0 1688.9L409.5 1688.6L410.0 1688.3L410.5 1687.9L411.0 1687.5L411.5 1687.0L412.0 1686.5L412.5 1686.0L413.0 1685.5L413.5 1685.0L414.0 1684.5L414.5 1684.0L415.0 1683.5L415.5 1683.0L416.0 1682.6L416.5 1682.2L417.0 1681.8L417.5 1681.4L418.0 1681.0L418.5 1680.7L419.0 1680.3L419.5 1679.9L420.0 1679.6L420.5 1679.2L421.0 1678.9L421.5 1678.6L422.0 1678.4L422.5 1678.1L423.0 1677.9L423.5 1677.7L424.0 1677.6L424.5 1677.4L425.0 1677.2L425.5 1677.0L426.0 1676.9L426.5 1676.7L427.0 1676.6L427.5 1676.5L428.0 1676.4L428.5 1676.3L429.0 1676.3L429.5 1676.3L430.0 1676.4L430.5 1676.5L431.0 1676.6L431.5 1676.8L432.0 1677.0L432.5 1677.2L433.0 1677.5L433.5 1677.8L434.0 1678.0L434.5 1678.4L435.0 1678.7L435.5 1679.0L436.0 1679.3L436.5 1679.7L437.0 1680.2L437.5 1680.8L438.0 1681.3L438.5 1682.0L439.0 1682.6L439.5 1683.3L440.0 1683.9L440.5 1684.6L441.0 1685.3L441.5 1685.9L442.0 1686.5L442.5 1687.1L443.0 1687.7L443.5 1688.4L444.0 1689.0L444.5 1689.6L445.0 1690.3L445.5 1690.9L446.0 1691.5L446.5 1692.1L447.0 1692.7L447.5 1693.2L448.0 1693.6L448.5 1694.1L449.0 1694.5L449.5 1694.8L450.0 1695.2L450.5 1695.6L451.0 1695.9L451.5 1696.2L452.0 1696.5L452.5 1696.8L453.0 1697.0L453.5 1697.1L454.0 1697.2L454.5 1697.3L455.0 1697.4L455.5 1697.5L456.0 1697.6L456.5 1697.6L457.0 1697.6L457.5 1697.6L458.0 1697.4L458.5 1697.2L459.0 1696.9L459.5 1696.5L460.0 1696.1L460.5 1695.7L461.0 1695.3L461.5 1694.8L462.0 1694.2L462.5 1693.5L463.0 1692.6L463.5 1691.7L464.0 1690.7L464.5 1689.7L465.0 1688.6L465.5 1687.6L466.0 1686.5L466.5 1685.3L467.0 1684.1L467.5 1682.8L468.0 1681.5L468.5 1680.2L469.0 1678.9L469.5 1677.6L470.0 1676.3L470.5 1675.0L471.0 1673.7L471.5 1672.4L472.0 1671.1L472.5 1669.8L473.0 1668.6L473.5 1667.4L474.0 1666.3L474.5 1665.3L475.0 1664.3L475.5 1663.3L476.0 1662.3L476.5 1661.4L477.0 1660.5L477.5 1659.8L478.0 1659.1L478.5 1658.6L479.0 1658.1L479.5 1657.6L480.0 1657.1L480.5 1656.7L481.0 1656.3L481.5 1656.0L482.0 1655.8L482.5 1655.6L483.0 1655.5L483.5 1655.4L484.0 1655.4L484.5 1655.3L485.0 1655.2L485.5 1655.2L486.0 1655.2L486.5 1655.2L487.0 1655.3L487.5 1655.5L488.0 1655.8L488.5 1656.2L489.0 1656.7L489.5 1657.2L490.0 1657.7L490.5 1658.3L491.0 1658.9L491.5 1659.7L492.0 1660.6L492.5 1661.5L493.0 1662.5L493.5 1663.6L494.0 1664.6L494.5 1665.6L495.0 1666.7L495.5 1667.9L496.0 1669.2L496.5 1670.5L497.0 1671.8L497.5 1673.1L498.0 1674.4L498.5 1675.7L499.0 1677.0L499.5 1678.3L500.0 1679.6L500.5 1680.9L501.0 1682.2L501.5 1683.4L502.0 1684.6L502.5 1685.8L503.0 1686.9L503.5 1688.0L504.0 1689.1L504.5 1690.1L505.0 1691.2L505.5 1692.1L506.0 1693.0L506.5 1693.8L507.0 1694.5L507.5 1695.1L508.0 1695.7L508.5 1696.3L509.0 1696.8L509.5 1697.2L510.0 1697.5L510.5 1697.7L511.0 1697.9L511.5 1698.0L512.0 1698.2L512.5 1698.2L513.0 1698.3L513.5 1698.1L514.0 1697.8L514.5 1697.4L515.0 1696.8L515.5 1696.3L516.0 1695.6L516.5 1694.8L517.0 1693.8L517.5 1692.6L518.0 1691.3L518.5 1689.9L519.0 1688.1L519.5 1686.0L520.0 1683.8L520.5 1681.4L521.0 1678.6L521.5 1675.5L522.0 1672.3L522.5 1669.2L523.0 1666.1L523.5 1662.9L524.0 1659.7L524.5 1656.4L525.0 1653.0L525.5 1649.3L526.0 1645.4L526.5 1641.2L527.0 1637.0L527.5 1632.7L528.0 1628.3L528.5 1624.0L529.0 1619.8L529.5 1615.4L530.0 1611.1L530.5 1606.7L531.0 1602.4L531.5 1598.0L532.0 1593.7L532.5 1589.4L533.0 1585.0L533.5 1580.7L534.0 1576.4L534.5 1572.0L535.0 1567.7L535.5 1563.4L536.0 1559.0L536.5 1554.7L537.0 1550.4L537.5 1546.0L538.0 1541.7L538.5 1537.4L539.0 1533.0L539.5 1528.7L540.0 1524.4L540.5 1520.0L541.0 1515.7L541.5 1511.3L542.0 1506.9L542.5 1502.5L543.0 1498.0L543.5 1493.7L544.0 1489.5L544.5 1485.4L545.0 1481.5L545.5 1477.8L546.0 1474.1L546.5 1470.6L547.0 1467.0L547.5 1463.4L548.0 1459.8L548.5 1456.2L549.0 1452.6L549.5 1449.0L550.0 1445.6L550.5 1442.2L551.0 1439.0L551.5 1436.0L552.0 1432.9L552.5 1430.0L553.0 1427.2L553.5 1424.6L554.0 1422.1L554.5 1419.9L555.0 1417.7L555.5 1415.7L556.0 1413.8L556.5 1411.9L557.0 1410.0L557.5 1408.2L558.0 1406.3L558.5 1404.6L559.0 1402.9L559.5 1401.3L560.0 1399.8L560.5 1398.4L561.0 1397.1L561.5 1396.0L562.0 1394.9L562.5 1393.9L563.0 1393.3L563.5 1393.2L564.0 1393.5L564.5 1393.9L565.0 1394.4L565.5 1395.0L566.0 1395.7L566.5 1396.5L567.0 1397.5L567.5 1398.7L568.0 1400.0L568.5 1401.5L569.0 1402.9L569.5 1404.5L570.0 1406.3L570.5 1408.3L571.0 1410.4L571.5 1412.6L572.0 1414.9L572.5 1417.2L573.0 1419.7L573.5 1422.3L574.0 1425.0L574.5 1427.7L575.0 1430.6L575.5 1433.5L576.0 1436.5L576.5 1439.5L577.0 1442.7L577.5 1445.9L578.0 1449.2L578.5 1452.5L579.0 1455.9L579.5 1459.3L580.0 1462.8L580.5 1466.3L581.0 1469.9L581.5 1473.5L582.0 1477.1L582.5 1480.7L583.0 1484.3L583.5 1488.0L584.0 1491.7L584.5 1495.4L585.0 1499.1L585.5 1502.8L586.0 1506.5L586.5 1510.2L587.0 1513.8L587.5 1517.5L588.0 1521.1L588.5 1524.7L589.0 1528.3L589.5 1531.8L590.0 1535.4L590.5 1538.8L591.0 1542.3L591.5 1545.6L592.0 1548.9L592.5 1552.1L593.0 1555.2L593.5 1558.4L594.0 1561.5L594.5 1564.6L595.0 1567.6L595.5 1570.7L596.0 1573.8L596.5 1576.8L597.0 1579.8L597.5 1582.7L598.0 1585.5L598.5 1588.3L599.0 1591.0L599.5 1593.7L600.0 1596.3L600.5 1598.9L601.0 1601.4L601.5 1603.9L602.0 1606.3L602.5 1608.7L603.0 1611.0L603.5 1613.2L604.0 1615.4L604.5 1617.6L605.0 1619.7L605.5 1621.8L606.0 1623.8L606.5 1625.7L607.0 1627.6L607.5 1629.4L608.0 1631.2L608.5 1632.9L609.0 1634.6L609.5 1636.2L610.0 1637.8L610.5 1639.4L611.0 1641.0L611.5 1642.6L612.0 1644.1L612.5 1645.6L613.0 1647.1L613.5 1648.5L614.0 1649.8L614.5 1651.1L615.0 1652.3L615.5 1653.4L616.0 1654.6L616.5 1655.7L617.0 1656.8L617.5 1657.8L618.0 1658.9L618.5 1660.0L619.0 1661.0L619.5 1661.9L620.0 1662.8L620.5 1663.6L621.0 1664.4L621.5 1665.1L622.0 1665.8L622.5 1666.4L623.0 1667.0L623.5 1667.5L624.0 1668.0L624.5 1668.4L625.0 1668.9L625.5 1669.2L626.0 1669.6L626.5 1669.9L627.0 1670.1L627.5 1670.3L628.0 1670.6L628.5 1670.7L629.0 1670.9L629.5 1670.9L630.0 1671.0L630.5 1670.9L631.0 1670.7L631.5 1670.6L632.0 1670.4L632.5 1670.1L633.0 1669.9L633.5 1669.6L634.0 1669.2L634.5 1668.7L635.0 1668.2L635.5 1667.7L636.0 1667.1L636.5 1666.5L637.0 1665.8L637.5 1665.1L638.0 1664.4L638.5 1663.5L639.0 1662.7L639.5 1661.7L640.0 1660.7L640.5 1659.6L641.0 1658.5L641.5 1657.3L642.0 1656.0L642.5 1654.7L643.0 1653.4L643.5 1651.9L644.0 1650.5L644.5 1649.0L645.0 1647.4L645.5 1645.8L646.0 1644.1L646.5 1642.4L647.0 1640.6L647.5 1638.8L648.0 1636.9L648.5 1635.0L649.0 1633.0L649.5 1631.0L650.0 1628.9L650.5 1626.8L651.0 1624.6L651.5 1622.4L652.0 1620.1L652.5 1617.7L653.0 1615.4L653.5 1612.9L654.0 1610.5L654.5 1607.9L655.0 1605.3L655.5 1602.6L656.0 1599.7L656.5 1596.8L657.0 1593.8L657.5 1590.8L658.0 1587.7L658.5 1584.5L659.0 1581.3L659.5 1578.1L660.0 1574.8L660.5 1571.5L661.0 1568.1L661.5 1564.6L662.0 1561.1L662.5 1557.6L663.0 1554.0L663.5 1550.3L664.0 1546.6L664.5 1542.8L665.0 1539.0L665.5 1535.2L666.0 1531.3L666.5 1527.3L667.0 1523.3L667.5 1519.2L668.0 1515.1L668.5 1510.9L669.0 1506.6L669.5 1502.3L670.0 1497.9L670.5 1493.5L671.0 1489.1L671.5 1484.8L672.0 1480.5L672.5 1476.2L673.0 1471.9L673.5 1467.6L674.0 1463.2L674.5 1458.8L675.0 1454.3L675.5 1449.7L676.0 1445.0L676.5 1440.3L677.0 1435.5L677.5 1430.8L678.0 1426.2L678.5 1421.5L679.0 1416.8L679.5 1412.2L680.0 1407.5L680.5 1402.8L681.0 1398.2L681.5 1393.5L682.0 1388.8L682.5 1384.2L683.0 1379.5L683.5 1374.8L684.0 1370.2L684.5 1365.5L685.0 1360.8L685.5 1356.0L686.0 1351.3L686.5 1346.7L687.0 1342.1L687.5 1337.5L688.0 1333.0L688.5 1328.5L689.0 1324.1L689.5 1319.7L690.0 1315.5L690.5 1311.5L691.0 1307.7L691.5 1304.1L692.0 1300.6L692.5 1297.2L693.0 1293.9L693.3 1291.9" stroke="#1f28db" stroke-width="3.4" fill="none" stroke-linejoin="round"/>
<path d="M138.0 1692.9V1706.8M156.3 1658.8V1683.3M174.5 1510.5V1536.1M192.8 1315.3V1355.9M210.9 1647.1V1686.5M229.3 1625.7V1642.8M277.1 1272.2V1304.7M309.9 1544.0V1576.7M317.2 1486.0V1508.4M324.0 1478.5V1514.8M338.9 1662.0V1684.4M474.4 1668.4V1686.5M521.8 1666.3V1688.7M558.7 1352.0V1403.9M576.8 1451.4V1473.2M668.1 1582.0V1599.1" stroke="#ea1b2d" stroke-width="3.6" fill="none"/>
<circle cx="138.0" cy="1699.3" r="6.65" fill="#ea1b2d"/>
<circle cx="156.3" cy="1671.2" r="6.65" fill="#ea1b2d"/>
<circle cx="174.5" cy="1523.8" r="6.65" fill="#ea1b2d"/>
<circle cx="192.8" cy="1336.0" r="6.65" fill="#ea1b2d"/>
<circle cx="200.5" cy="1503.1" r="6.65" fill="#ea1b2d"/>
<circle cx="210.9" cy="1666.3" r="6.65" fill="#ea1b2d"/>
<circle cx="229.3" cy="1634.3" r="6.65" fill="#ea1b2d"/>
<circle cx="247.8" cy="1689.7" r="6.65" fill="#ea1b2d"/>
<circle cx="258.9" cy="1615.5" r="6.65" fill="#ea1b2d"/>
<circle cx="266.4" cy="1412.6" r="6.65" fill="#ea1b2d"/>
<circle cx="277.1" cy="1288.7" r="6.65" fill="#ea1b2d"/>
<circle cx="287.9" cy="1541.5" r="6.65" fill="#ea1b2d"/>
<circle cx="302.2" cy="1666.3" r="6.65" fill="#ea1b2d"/>
<circle cx="309.9" cy="1560.7" r="6.65" fill="#ea1b2d"/>
<circle cx="317.2" cy="1496.7" r="6.65" fill="#ea1b2d"/>
<circle cx="324.0" cy="1496.7" r="6.65" fill="#ea1b2d"/>
<circle cx="338.9" cy="1673.1" r="6.65" fill="#ea1b2d"/>
<circle cx="474.4" cy="1677.6" r="6.65" fill="#ea1b2d"/>
<circle cx="499.6" cy="1692.5" r="6.65" fill="#ea1b2d"/>
<circle cx="521.8" cy="1678.0" r="6.65" fill="#ea1b2d"/>
<circle cx="547.6" cy="1437.4" r="6.65" fill="#ea1b2d"/>
<circle cx="558.7" cy="1378.3" r="6.65" fill="#ea1b2d"/>
<circle cx="576.8" cy="1462.1" r="6.65" fill="#ea1b2d"/>
<circle cx="613.1" cy="1697.2" r="6.65" fill="#ea1b2d"/>
<circle cx="668.1" cy="1590.5" r="6.65" fill="#ea1b2d"/>
<circle cx="693.3" cy="1408.6" r="6.65" fill="#ea1b2d"/>
<rect x="123.60" y="1244.50" width="598.90" height="470.00" fill="none" stroke="#000" stroke-width="3"/>
<text transform="translate(137.80,1752.00) scale(0.9050,1)" font-size="36.3" font-family="Liberation Sans, sans-serif" fill="#000">80</text>
<text transform="translate(201.34,1752.00) scale(0.9050,1)" font-size="36.3" font-family="Liberation Sans, sans-serif" fill="#000">100</text>
<text transform="translate(274.49,1752.00) scale(0.9050,1)" font-size="36.3" font-family="Liberation Sans, sans-serif" fill="#000">120</text>
<text transform="translate(347.64,1752.00) scale(0.9050,1)" font-size="36.3" font-family="Liberation Sans, sans-serif" fill="#000">140</text>
<text transform="translate(420.79,1752.00) scale(0.9050,1)" font-size="36.3" font-family="Liberation Sans, sans-serif" fill="#000">160</text>
<text transform="translate(493.94,1752.00) scale(0.9050,1)" font-size="36.3" font-family="Liberation Sans, sans-serif" fill="#000">180</text>
<text transform="translate(567.50,1752.00) scale(0.9050,1)" font-size="36.3" font-family="Liberation Sans, sans-serif" fill="#000">200</text>
<text transform="translate(640.65,1752.00) scale(0.9050,1)" font-size="36.3" font-family="Liberation Sans, sans-serif" fill="#000">220</text>
<text transform="translate(54.05,1293.60) scale(0.9050,1)" font-size="36.3" font-family="Liberation Sans, sans-serif" fill="#000">500</text>
<text transform="translate(54.05,1364.95) scale(0.9050,1)" font-size="36.3" font-family="Liberation Sans, sans-serif" fill="#000">450</text>
<text transform="translate(54.05,1436.30) scale(0.9050,1)" font-size="36.3" font-family="Liberation Sans, sans-serif" fill="#000">400</text>
<text transform="translate(54.05,1507.65) scale(0.9050,1)" font-size="36.3" font-family="Liberation Sans, sans-serif" fill="#000">350</text>
<text transform="translate(54.05,1579.00) scale(0.9050,1)" font-size="36.3" font-family="Liberation Sans, sans-serif" fill="#000">300</text>
<text transform="translate(54.05,1650.35) scale(0.9050,1)" font-size="36.3" font-family="Liberation Sans, sans-serif" fill="#000">250</text>
<text transform="translate(54.05,1721.00) scale(0.9050,1)" font-size="36.3" font-family="Liberation Sans, sans-serif" fill="#000">200</text>
<text transform="translate(378.11,1785.30) scale(1.0999,1)" font-size="35.0" font-family="Liberation Sans, sans-serif" fill="#000">U (V)</text>
<text transform="translate(29.40,1619.33) rotate(-90) scale(1.0438,1)" font-size="35.0" font-family="Liberation Sans, sans-serif" fill="#000">Count rate (cts/s)</text>
<text transform="translate(122.56,1227.50) scale(1.1442,1)" font-size="38" font-family="Liberation Serif, serif" font-weight="bold" fill="#000">d)</text>
<text transform="translate(177.26,1227.50) scale(0.9261,1)" font-size="37.6" font-family="Liberation Sans, sans-serif" font-style="italic" fill="#000">N</text>
<text transform="translate(214.77,1229.40) scale(1.8369,0.855)" font-size="33" font-family="Liberation Sans, sans-serif" fill="#000" stroke="#000" stroke-width="0.35">=</text>
<text transform="translate(260.28,1227.50) scale(1.1573,1)" font-size="38" font-family="Liberation Serif, serif" font-weight="bold" fill="#000">10</text>
<path d="M879.40 1715.00v-15M991.80 1715.00v-15M1104.20 1715.00v-15M1216.60 1715.00v-15M1329.00 1715.00v-15M1441.40 1715.00v-15M879.40 1244.40v15M991.80 1244.40v15M1104.20 1244.40v15M1216.60 1244.40v15M1329.00 1244.40v15M1441.40 1244.40v15M856.90 1260.10h15M856.90 1352.82h15M856.90 1445.54h15M856.90 1538.26h15M856.90 1630.98h15M1486.80 1260.10h-15M1486.80 1352.82h-15M1486.80 1445.54h-15M1486.80 1538.26h-15M1486.80 1630.98h-15" stroke="#000" stroke-width="3" fill="none"/>
<path d="M858.6 1656.7L859.0 1663.9L859.4 1669.2L859.8 1672.9L860.2 1675.3L860.6 1676.6L861.0 1677.2L861.4 1677.1L861.8 1674.7L862.2 1669.8L862.6 1662.8L863.0 1654.3L863.4 1644.6L863.8 1626.9L864.2 1601.8L864.6 1574.9L865.0 1550.2L865.4 1524.5L865.8 1498.6L866.2 1473.8L866.6 1451.2L867.0 1429.7L867.4 1409.3L867.8 1390.4L868.2 1373.2L868.6 1355.9L869.0 1340.2L869.4 1329.3L869.8 1323.6L870.2 1319.6L870.6 1318.4L871.0 1320.2L871.4 1323.8L871.8 1329.4L872.2 1340.4L872.6 1354.5L873.0 1368.7L873.4 1382.6L873.8 1397.6L874.2 1413.1L874.6 1428.6L875.0 1444.6L875.4 1461.2L875.8 1477.9L876.2 1494.1L876.6 1509.1L877.0 1522.8L877.4 1535.9L877.8 1548.3L878.2 1559.9L878.6 1570.5L879.0 1580.1L879.4 1588.9L879.8 1597.2L880.2 1604.8L880.6 1611.9L881.0 1618.6L881.4 1625.4L881.8 1632.0L882.2 1637.8L882.6 1642.3L883.0 1645.1L883.4 1647.3L883.8 1649.1L884.2 1650.2L884.6 1650.5L885.0 1650.1L885.4 1649.2L885.8 1647.9L886.2 1646.3L886.6 1642.8L887.0 1636.9L887.4 1629.2L887.8 1620.5L888.2 1611.2L888.6 1599.7L889.0 1586.1L889.4 1571.0L889.8 1554.9L890.2 1538.3L890.6 1519.9L891.0 1499.8L891.4 1478.8L891.8 1457.7L892.2 1437.3L892.6 1415.4L893.0 1393.4L893.4 1374.8L893.8 1361.5L894.2 1349.1L894.6 1338.9L895.0 1332.7L895.4 1332.4L895.8 1338.1L896.2 1348.1L896.6 1360.3L897.0 1373.4L897.4 1390.8L897.8 1412.1L898.2 1434.8L898.6 1458.2L899.0 1483.8L899.4 1510.5L899.8 1537.0L900.2 1564.5L900.6 1592.1L901.0 1616.8L901.4 1640.8L901.8 1660.9L902.2 1670.7L902.6 1676.2L903.0 1676.0L903.4 1665.1L903.8 1648.8L904.2 1628.4L904.6 1600.4L905.0 1570.7L905.4 1542.0L905.8 1511.8L906.2 1482.7L906.6 1457.3L907.0 1433.4L907.4 1411.4L907.8 1394.4L908.2 1383.7L908.6 1375.0L909.0 1369.5L909.4 1369.2L909.8 1372.8L910.2 1378.9L910.6 1386.7L911.0 1400.5L911.4 1418.1L911.8 1435.9L912.2 1455.0L912.6 1475.4L913.0 1496.3L913.4 1516.7L913.8 1537.8L914.2 1559.2L914.6 1579.2L915.0 1596.3L915.4 1611.2L915.8 1624.8L916.2 1636.6L916.6 1646.2L917.0 1654.0L917.4 1660.9L917.8 1666.6L918.2 1670.7L918.6 1673.6L919.0 1676.0L919.4 1677.2L919.8 1676.8L920.2 1674.8L920.6 1671.6L921.0 1667.5L921.4 1663.1L921.8 1658.5L922.2 1653.8L922.6 1647.7L923.0 1640.8L923.4 1634.0L923.8 1628.3L924.2 1624.1L924.6 1620.5L925.0 1617.1L925.4 1614.3L925.8 1612.3L926.2 1611.2L926.6 1610.5L927.0 1609.9L927.4 1609.5L927.8 1609.4L928.2 1610.1L928.6 1611.5L929.0 1613.4L929.4 1615.8L929.8 1620.1L930.2 1626.7L930.6 1634.4L931.0 1642.1L931.4 1650.5L931.8 1659.6L932.2 1666.5L932.6 1670.7L933.0 1674.3L933.4 1676.7L933.8 1677.2L934.2 1675.6L934.6 1672.5L935.0 1668.4L935.4 1662.7L935.8 1652.9L936.2 1641.2L936.6 1629.9L937.0 1620.9L937.4 1612.3L937.8 1604.3L938.2 1597.7L938.6 1593.1L939.0 1589.5L939.4 1586.5L939.8 1584.0L940.2 1582.0L940.6 1580.0L941.0 1578.4L941.4 1577.6L941.8 1578.0L942.2 1579.7L942.6 1582.3L943.0 1585.1L943.4 1589.0L943.8 1594.1L944.2 1599.8L944.6 1605.4L945.0 1611.2L945.4 1617.5L945.8 1623.8L946.2 1630.0L946.6 1635.5L947.0 1640.7L947.4 1645.9L947.8 1650.7L948.2 1654.9L948.6 1658.1L949.0 1660.4L949.4 1662.6L949.8 1664.4L950.2 1665.8L950.6 1666.5L951.0 1666.5L951.4 1666.1L951.8 1665.4L952.2 1664.5L952.6 1663.5L953.0 1662.3L953.4 1660.4L953.8 1657.9L954.2 1655.1L954.6 1652.3L955.0 1649.8L955.4 1647.1L955.8 1644.3L956.2 1641.7L956.6 1639.5L957.0 1638.0L957.4 1636.8L957.8 1635.8L958.2 1634.9L958.6 1634.3L959.0 1634.1L959.4 1634.8L959.8 1636.7L960.2 1639.2L960.6 1642.1L961.0 1645.8L961.4 1651.0L961.8 1656.7L962.2 1662.0L962.6 1666.7L963.0 1671.5L963.4 1674.8L963.8 1676.0L964.2 1676.8L964.6 1677.3L965.0 1675.9L965.4 1668.7L965.8 1658.0L966.2 1646.2L966.6 1632.2L967.0 1614.6L967.4 1595.6L967.8 1576.7L968.2 1556.3L968.6 1535.2L969.0 1515.1L969.4 1497.2L969.8 1480.2L970.2 1464.2L970.6 1450.1L971.0 1438.7L971.4 1428.6L971.8 1419.8L972.2 1413.5L972.6 1410.1L973.0 1407.4L973.4 1405.4L973.8 1404.3L974.2 1404.3L974.6 1406.2L975.0 1409.4L975.4 1413.5L975.8 1419.7L976.2 1429.9L976.6 1442.0L977.0 1454.5L977.4 1468.1L977.8 1483.2L978.2 1499.2L978.6 1515.4L979.0 1532.3L979.4 1550.0L979.8 1568.0L980.2 1585.6L980.6 1604.1L981.0 1622.8L981.4 1639.3L981.8 1651.6L982.2 1662.1L982.6 1670.2L983.0 1674.3L983.4 1676.7L983.8 1677.0L984.2 1672.2L984.6 1663.9L985.0 1654.6L985.4 1642.4L985.8 1627.9L986.2 1613.7L986.6 1599.2L987.0 1585.0L987.4 1574.0L987.8 1565.8L988.2 1558.9L988.6 1553.7L989.0 1550.6L989.4 1548.4L989.8 1546.7L990.2 1545.7L990.6 1545.2L991.0 1544.8L991.4 1544.6L991.8 1545.4L992.2 1548.2L992.6 1552.3L993.0 1556.7L993.4 1562.5L993.8 1569.8L994.2 1577.7L994.6 1585.1L995.0 1591.9L995.4 1598.7L995.8 1605.3L996.2 1611.9L996.6 1618.3L997.0 1624.8L997.4 1631.2L997.8 1637.4L998.2 1642.9L998.6 1647.7L999.0 1652.0L999.4 1656.1L999.8 1659.7L1000.2 1662.8L1000.6 1665.2L1001.0 1667.4L1001.4 1669.4L1001.8 1671.3L1002.2 1672.8L1002.6 1674.1L1003.0 1675.0L1003.4 1675.4L1003.8 1675.8L1004.2 1676.1L1004.6 1676.3L1005.0 1676.6L1005.4 1676.7L1005.8 1676.8L1006.2 1676.9L1006.6 1676.9L1007.0 1676.8L1007.4 1676.6L1007.8 1676.4L1008.2 1676.1L1008.6 1675.8L1009.0 1675.5L1009.4 1675.2L1009.8 1674.9L1010.2 1674.5L1010.6 1674.0L1011.0 1673.5L1011.4 1672.9L1011.8 1672.2L1012.2 1671.6L1012.6 1670.9L1013.0 1670.1L1013.4 1669.3L1013.8 1668.3L1014.2 1667.3L1014.6 1666.3L1015.0 1665.3L1015.4 1664.3L1015.8 1663.4L1016.2 1662.4L1016.6 1661.4L1017.0 1660.3L1017.4 1659.4L1017.8 1658.4L1018.2 1657.6L1018.6 1656.8L1019.0 1656.1L1019.4 1655.5L1019.8 1654.8L1020.2 1654.2L1020.6 1653.7L1021.0 1653.2L1021.4 1652.9L1021.8 1652.6L1022.2 1652.3L1022.6 1652.1L1023.0 1651.9L1023.4 1651.7L1023.8 1651.6L1024.2 1651.6L1024.6 1651.7L1025.0 1652.0L1025.4 1652.4L1025.8 1652.9L1026.2 1653.5L1026.6 1654.2L1027.0 1654.9L1027.4 1655.7L1027.8 1656.8L1028.2 1658.0L1028.6 1659.4L1029.0 1660.8L1029.4 1662.1L1029.8 1663.4L1030.2 1664.7L1030.6 1666.0L1031.0 1667.3L1031.4 1668.7L1031.8 1670.0L1032.2 1671.2L1032.6 1672.3L1033.0 1673.1L1033.4 1673.8L1033.8 1674.5L1034.2 1675.1L1034.6 1675.7L1035.0 1676.2L1035.4 1676.6L1035.8 1676.8L1036.2 1676.9L1036.6 1676.9L1037.0 1676.9L1037.4 1676.9L1037.8 1676.9L1038.2 1676.9L1038.6 1676.9L1039.0 1676.9L1039.4 1676.9L1039.8 1676.9L1040.2 1676.9L1040.6 1676.9L1041.0 1676.9L1041.4 1676.9L1041.8 1676.9L1042.2 1676.9L1042.6 1676.8L1043.0 1676.8L1043.4 1676.7L1043.8 1676.7L1044.2 1676.6L1044.6 1676.6L1045.0 1676.5L1045.4 1676.4L1045.8 1676.3L1046.2 1676.2L1046.6 1676.1L1047.0 1676.0L1047.4 1675.9L1047.8 1675.7L1048.2 1675.5L1048.6 1675.3L1049.0 1674.9L1049.4 1674.5L1049.8 1674.1L1050.2 1673.6L1050.6 1673.1L1051.0 1672.3L1051.4 1671.3L1051.8 1670.1L1052.2 1668.6L1052.6 1667.1L1053.0 1665.5L1053.4 1663.8L1053.8 1662.1L1054.2 1660.3L1054.6 1658.3L1055.0 1656.2L1055.4 1654.0L1055.8 1651.7L1056.2 1649.4L1056.6 1647.1L1057.0 1644.7L1057.4 1642.1L1057.8 1639.4L1058.2 1636.7L1058.6 1634.1L1059.0 1631.8L1059.4 1629.9L1059.8 1628.2L1060.2 1626.6L1060.6 1625.1L1061.0 1623.8L1061.4 1622.7L1061.8 1621.8L1062.2 1621.2L1062.6 1620.6L1063.0 1620.2L1063.4 1620.1L1063.8 1620.9L1064.2 1622.3L1064.6 1624.2L1065.0 1626.2L1065.4 1628.9L1065.8 1632.4L1066.2 1636.3L1066.6 1640.5L1067.0 1644.4L1067.4 1648.5L1067.8 1652.8L1068.2 1657.1L1068.6 1661.1L1069.0 1664.6L1069.4 1667.6L1069.8 1670.5L1070.2 1673.1L1070.6 1675.3L1071.0 1677.0L1071.4 1678.1L1071.8 1679.0L1072.2 1676.0L1072.6 1656.1L1073.0 1645.8L1073.4 1638.0L1073.8 1629.7L1074.2 1618.6L1074.6 1606.1L1075.0 1593.1L1075.4 1580.3L1075.8 1568.4L1076.2 1556.6L1076.6 1545.0L1077.0 1534.1L1077.4 1524.1L1077.8 1514.6L1078.2 1505.2L1078.6 1496.4L1079.0 1488.9L1079.4 1483.0L1079.8 1478.9L1080.2 1475.5L1080.6 1472.5L1081.0 1470.1L1081.4 1468.1L1081.8 1466.5L1082.2 1465.0L1082.6 1463.8L1083.0 1463.0L1083.4 1463.2L1083.8 1465.0L1084.2 1468.3L1084.6 1472.4L1085.0 1477.1L1085.4 1482.8L1085.8 1490.7L1086.2 1500.0L1086.6 1510.1L1087.0 1520.8L1087.4 1533.1L1087.8 1546.3L1088.2 1559.4L1088.6 1572.1L1089.0 1585.0L1089.4 1597.8L1089.8 1610.0L1090.2 1621.3L1090.6 1632.5L1091.0 1643.0L1091.4 1652.2L1091.8 1659.5L1092.2 1665.9L1092.6 1671.0L1093.0 1673.8L1093.4 1675.7L1093.8 1677.0L1094.2 1677.2L1094.6 1675.2L1095.0 1671.2L1095.4 1666.2L1095.8 1657.1L1096.2 1643.9L1096.6 1629.0L1097.0 1615.2L1097.4 1602.5L1097.8 1589.5L1098.2 1576.9L1098.6 1565.1L1099.0 1554.1L1099.4 1543.4L1099.8 1533.5L1100.2 1524.6L1100.6 1516.9L1101.0 1509.7L1101.4 1503.3L1101.8 1497.8L1102.2 1493.1L1102.6 1488.9L1103.0 1485.7L1103.4 1484.0L1103.8 1482.7L1104.2 1482.0L1104.6 1482.1L1105.0 1483.7L1105.4 1486.3L1105.8 1489.8L1106.2 1496.4L1106.6 1505.5L1107.0 1515.9L1107.4 1526.3L1107.8 1538.0L1108.2 1550.9L1108.6 1564.1L1109.0 1576.9L1109.4 1589.9L1109.8 1603.0L1110.2 1615.5L1110.6 1626.7L1111.0 1637.2L1111.4 1647.2L1111.8 1656.0L1112.2 1662.7L1112.6 1667.9L1113.0 1672.3L1113.4 1675.0L1113.8 1676.5L1114.2 1677.3L1114.6 1676.3L1115.0 1672.9L1115.4 1668.3L1115.8 1662.4L1116.2 1653.4L1116.6 1642.4L1117.0 1630.4L1117.4 1617.7L1117.8 1602.7L1118.2 1586.7L1118.6 1571.1L1119.0 1557.2L1119.4 1543.7L1119.8 1530.9L1120.2 1519.1L1120.6 1508.7L1121.0 1498.9L1121.4 1489.9L1121.8 1482.2L1122.2 1476.2L1122.6 1471.3L1123.0 1467.0L1123.4 1463.5L1123.8 1460.9L1124.2 1458.8L1124.6 1457.0L1125.0 1455.6L1125.4 1454.7L1125.8 1454.1L1126.2 1453.7L1126.6 1453.8L1127.0 1454.9L1127.4 1456.7L1127.8 1459.0L1128.2 1462.3L1128.6 1467.5L1129.0 1473.8L1129.4 1480.4L1129.8 1487.0L1130.2 1494.3L1130.6 1502.0L1131.0 1510.0L1131.4 1518.0L1131.8 1526.4L1132.2 1535.0L1132.6 1543.7L1133.0 1552.5L1133.4 1561.7L1133.8 1571.0L1134.2 1579.9L1134.6 1588.1L1135.0 1596.0L1135.4 1603.6L1135.8 1610.8L1136.2 1617.4L1136.6 1623.4L1137.0 1628.9L1137.4 1634.1L1137.8 1638.9L1138.2 1643.2L1138.6 1646.9L1139.0 1650.3L1139.4 1653.4L1139.8 1656.1L1140.2 1658.6L1140.6 1660.8L1141.0 1662.9L1141.4 1664.8L1141.8 1666.6L1142.2 1668.0L1142.6 1669.0L1143.0 1669.6L1143.4 1670.1L1143.8 1670.6L1144.2 1671.0L1144.6 1671.4L1145.0 1671.7L1145.4 1671.9L1145.8 1672.1L1146.2 1672.1L1146.6 1672.1L1147.0 1671.8L1147.4 1671.4L1147.8 1670.7L1148.2 1669.8L1148.6 1668.7L1149.0 1667.4L1149.4 1666.0L1149.8 1664.5L1150.2 1662.8L1150.6 1661.1L1151.0 1659.2L1151.4 1657.2L1151.8 1654.9L1152.2 1651.4L1152.6 1647.2L1153.0 1642.6L1153.4 1638.0L1153.8 1633.5L1154.2 1628.8L1154.6 1623.8L1155.0 1618.9L1155.4 1614.0L1155.8 1609.4L1156.2 1604.9L1156.6 1600.4L1157.0 1596.0L1157.4 1591.8L1157.8 1587.5L1158.2 1583.4L1158.6 1579.2L1159.0 1575.2L1159.4 1571.3L1159.8 1567.7L1160.2 1564.1L1160.6 1560.7L1161.0 1557.4L1161.4 1554.4L1161.8 1551.8L1162.2 1549.3L1162.6 1547.0L1163.0 1544.8L1163.4 1543.0L1163.8 1541.7L1164.2 1540.6L1164.6 1539.6L1165.0 1538.7L1165.4 1538.1L1165.8 1537.8L1166.2 1537.8L1166.6 1537.8L1167.0 1537.8L1167.4 1537.8L1167.8 1537.8L1168.2 1537.9L1168.6 1538.2L1169.0 1538.8L1169.4 1539.5L1169.8 1540.5L1170.2 1541.4L1170.6 1542.5L1171.0 1543.5L1171.4 1544.6L1171.8 1545.9L1172.2 1547.5L1172.6 1549.1L1173.0 1550.7L1173.4 1552.1L1173.8 1553.2L1174.2 1554.0L1174.6 1554.5L1175.0 1555.1L1175.4 1555.5L1175.8 1555.8L1176.2 1555.9L1176.6 1555.8L1177.0 1555.3L1177.4 1554.7L1177.8 1553.9L1178.2 1553.0L1178.6 1551.6L1179.0 1549.4L1179.4 1546.6L1179.8 1543.5L1180.2 1540.3L1180.6 1537.0L1181.0 1533.4L1181.4 1529.4L1181.8 1525.1L1182.2 1520.7L1182.6 1516.2L1183.0 1511.5L1183.4 1506.6L1183.8 1501.3L1184.2 1495.5L1184.6 1489.2L1185.0 1481.8L1185.4 1473.7L1185.8 1465.2L1186.2 1456.7L1186.6 1448.5L1187.0 1440.5L1187.4 1432.5L1187.8 1424.5L1188.2 1416.5L1188.6 1408.5L1189.0 1400.5L1189.4 1392.5L1189.8 1384.5L1190.2 1376.5L1190.6 1368.5L1191.0 1360.4L1191.4 1352.0L1191.8 1343.7L1192.2 1335.8L1192.6 1328.4L1193.0 1321.7L1193.4 1315.3L1193.8 1309.2L1194.2 1303.4L1194.6 1298.1L1195.0 1293.0L1195.4 1288.1L1195.8 1283.4L1196.2 1279.2L1196.6 1275.4L1197.0 1272.2L1197.4 1269.3L1197.8 1266.7L1198.2 1264.6L1198.6 1263.1L1199.0 1261.7L1199.4 1260.6L1199.8 1260.1L1200.2 1260.5L1200.6 1261.6L1201.0 1263.3L1201.4 1265.3L1201.8 1268.1L1202.2 1272.6L1202.6 1278.2L1203.0 1284.3L1203.4 1290.6L1203.8 1297.8L1204.2 1305.6L1204.6 1313.6L1205.0 1321.4L1205.4 1329.2L1205.8 1337.1L1206.2 1345.3L1206.6 1353.9L1207.0 1363.1L1207.4 1372.7L1207.8 1382.5L1208.2 1392.3L1208.6 1402.2L1209.0 1412.2L1209.4 1422.3L1209.8 1432.4L1210.2 1442.4L1210.6 1452.4L1211.0 1462.4L1211.4 1472.4L1211.8 1482.4L1212.2 1492.4L1212.6 1502.4L1213.0 1512.4L1213.4 1522.4L1213.8 1532.4L1214.2 1542.4L1214.6 1552.4L1215.0 1562.6L1215.4 1573.0L1215.8 1583.2L1216.2 1592.7L1216.6 1601.1L1217.0 1608.9L1217.4 1616.2L1217.8 1623.2L1218.2 1630.2L1218.6 1637.3L1219.0 1644.0L1219.4 1650.0L1219.8 1655.1L1220.2 1659.8L1220.6 1663.9L1221.0 1667.4L1221.4 1670.0L1221.8 1672.3L1222.2 1674.2L1222.6 1675.7L1223.0 1676.4L1223.4 1676.9L1223.8 1677.2L1224.2 1677.3L1224.6 1676.9L1225.0 1676.2L1225.4 1675.2L1225.8 1674.1L1226.2 1673.1L1226.6 1672.2L1227.0 1671.1L1227.4 1670.0L1227.8 1668.9L1228.2 1667.9L1228.6 1667.1L1229.0 1666.4L1229.4 1665.7L1229.8 1665.1L1230.2 1664.5L1230.6 1664.1L1231.0 1663.9L1231.4 1663.9L1231.8 1663.9L1232.2 1663.9L1232.6 1663.9L1233.0 1663.9L1233.4 1663.9L1233.8 1663.9L1234.2 1664.0L1234.6 1664.1L1235.0 1664.4L1235.4 1664.7L1235.8 1665.0L1236.2 1665.4L1236.6 1665.7L1237.0 1666.1L1237.4 1666.5L1237.8 1667.0L1238.2 1667.5L1238.6 1668.0L1239.0 1668.6L1239.4 1669.2L1239.8 1669.7L1240.2 1670.2L1240.6 1670.7L1241.0 1671.1L1241.4 1671.5L1241.8 1671.9L1242.2 1672.2L1242.6 1672.6L1243.0 1672.9L1243.4 1673.2L1243.8 1673.5L1244.2 1673.8L1244.6 1674.0L1245.0 1674.2L1245.4 1674.3L1245.8 1674.5L1246.2 1674.6L1246.6 1674.7L1247.0 1674.9L1247.4 1675.0L1247.8 1675.1L1248.2 1675.2L1248.6 1675.2L1249.0 1675.2L1249.4 1675.2L1249.8 1675.2L1250.2 1675.1L1250.6 1675.0L1251.0 1674.8L1251.4 1674.7L1251.8 1674.5L1252.2 1674.3L1252.6 1674.0L1253.0 1673.6L1253.4 1673.0L1253.8 1672.3L1254.2 1671.6L1254.6 1670.8L1255.0 1669.9L1255.4 1669.1L1255.8 1668.2L1256.2 1667.2L1256.6 1666.2L1257.0 1665.1L1257.4 1663.9L1257.8 1662.7L1258.2 1661.3L1258.6 1660.0L1259.0 1658.5L1259.4 1657.0L1259.8 1655.3L1260.2 1653.6L1260.6 1651.6L1261.0 1649.4L1261.4 1647.1L1261.8 1644.5L1262.2 1641.9L1262.6 1639.2L1263.0 1636.5L1263.4 1633.6L1263.8 1630.7L1264.2 1627.5L1264.6 1624.3L1265.0 1621.0L1265.4 1617.6L1265.8 1614.2L1266.2 1610.9L1266.6 1607.4L1267.0 1603.8L1267.4 1600.1L1267.8 1596.5L1268.2 1592.9L1268.6 1589.5L1269.0 1586.3L1269.4 1583.4L1269.8 1580.7L1270.2 1578.1L1270.6 1575.6L1271.0 1573.2L1271.4 1570.9L1271.8 1568.7L1272.2 1566.7L1272.6 1564.8L1273.0 1562.9L1273.4 1561.0L1273.8 1559.2L1274.2 1557.6L1274.6 1556.1L1275.0 1554.9L1275.4 1553.8L1275.8 1553.0L1276.2 1552.2L1276.6 1551.4L1277.0 1550.8L1277.4 1550.3L1277.8 1549.9L1278.2 1549.7L1278.6 1549.5L1279.0 1549.4L1279.4 1549.3L1279.8 1549.4L1280.2 1549.9L1280.6 1550.6L1281.0 1551.5L1281.4 1552.5L1281.8 1553.5L1282.2 1554.7L1282.6 1556.3L1283.0 1558.0L1283.4 1559.9L1283.8 1561.9L1284.2 1563.9L1284.6 1566.0L1285.0 1568.1L1285.4 1570.3L1285.8 1572.7L1286.2 1575.2L1286.6 1577.7L1287.0 1580.2L1287.4 1582.7L1287.8 1585.1L1288.2 1587.5L1288.6 1589.9L1289.0 1592.3L1289.4 1594.7L1289.8 1597.1L1290.2 1599.5L1290.6 1601.9L1291.0 1604.3L1291.4 1606.8L1291.8 1609.2L1292.2 1611.7L1292.6 1614.1L1293.0 1616.5L1293.4 1618.9L1293.8 1621.2L1294.2 1623.4L1294.6 1625.6L1295.0 1627.8L1295.4 1630.0L1295.8 1632.1L1296.2 1634.2L1296.6 1636.3L1297.0 1638.3L1297.4 1640.2L1297.8 1642.2L1298.2 1644.2L1298.6 1646.1L1299.0 1647.9L1299.4 1649.7L1299.8 1651.5L1300.2 1653.1L1300.6 1654.8L1301.0 1656.4L1301.4 1657.9L1301.8 1659.4L1302.2 1660.9L1302.6 1662.2L1303.0 1663.5L1303.4 1664.6L1303.8 1665.7L1304.2 1666.7L1304.6 1667.6L1305.0 1668.5L1305.4 1669.4L1305.8 1670.2L1306.2 1671.0L1306.6 1671.8L1307.0 1672.7L1307.4 1673.5L1307.8 1674.3L1308.2 1675.0L1308.6 1675.6L1309.0 1676.0L1309.4 1676.3L1309.8 1676.5L1310.2 1676.7L1310.6 1676.9L1311.0 1677.0L1311.4 1677.2L1311.8 1677.2L1312.2 1677.3L1312.6 1677.3L1313.0 1677.3L1313.4 1677.3L1313.8 1677.3L1314.2 1677.3L1314.6 1677.3L1315.0 1676.7L1315.4 1675.6L1315.8 1674.2L1316.2 1672.5L1316.6 1670.8L1317.0 1668.8L1317.4 1666.3L1317.8 1663.3L1318.2 1660.1L1318.6 1656.6L1319.0 1652.7L1319.4 1648.2L1319.8 1643.2L1320.2 1638.0L1320.6 1632.7L1321.0 1627.2L1321.4 1621.3L1321.8 1615.2L1322.2 1609.0L1322.6 1602.8L1323.0 1596.6L1323.4 1590.3L1323.8 1584.0L1324.2 1577.6L1324.6 1571.0L1325.0 1564.2L1325.4 1557.0L1325.8 1549.7L1326.2 1542.3L1326.6 1535.1L1327.0 1528.1L1327.4 1521.1L1327.8 1514.2L1328.2 1507.4L1328.6 1500.7L1329.0 1494.3L1329.4 1488.0L1329.8 1481.8L1330.2 1475.7L1330.6 1470.0L1331.0 1464.5L1331.4 1459.2L1331.8 1453.9L1332.2 1449.0L1332.6 1444.5L1333.0 1440.6L1333.4 1437.3L1333.8 1434.2L1334.2 1431.4L1334.6 1428.9L1335.0 1426.6L1335.4 1424.4L1335.8 1422.3L1336.2 1420.3L1336.6 1418.7L1337.0 1417.3L1337.4 1416.4L1337.8 1415.5L1338.2 1414.7L1338.6 1414.1L1339.0 1413.7L1339.4 1413.4L1339.8 1413.2L1340.2 1413.0L1340.6 1412.9L1341.0 1413.2L1341.4 1413.9L1341.8 1414.8L1342.2 1415.9L1342.6 1417.2L1343.0 1419.0L1343.4 1421.2L1343.8 1423.6L1344.2 1426.6L1344.6 1430.2L1345.0 1434.4L1345.4 1439.1L1345.8 1444.0L1346.2 1449.7L1346.6 1455.8L1347.0 1462.3L1347.4 1469.1L1347.8 1476.4L1348.2 1484.0L1348.6 1491.8L1349.0 1499.6L1349.4 1507.4L1349.8 1515.4L1350.2 1523.5L1350.6 1531.7L1351.0 1540.2L1351.4 1548.8L1351.8 1557.4L1352.2 1565.8L1352.6 1574.0L1353.0 1582.1L1353.4 1590.0L1353.8 1597.7L1354.2 1605.1L1354.6 1612.3L1355.0 1619.2L1355.4 1625.7L1355.8 1631.7L1356.2 1637.5L1356.6 1642.9L1357.0 1647.8L1357.4 1652.4L1357.8 1656.8L1358.2 1660.8L1358.6 1664.2L1359.0 1667.1L1359.4 1669.7L1359.8 1672.0L1360.2 1673.8L1360.6 1674.8L1361.0 1675.8L1361.4 1676.6L1361.8 1677.1L1362.2 1677.3L1362.6 1677.3L1363.0 1677.3L1363.4 1677.3L1363.8 1676.7L1364.2 1675.1L1364.6 1672.8L1365.0 1670.3L1365.4 1667.1L1365.8 1663.0L1366.2 1658.4L1366.6 1653.8L1367.0 1648.6L1367.4 1643.0L1367.8 1637.2L1368.2 1631.6L1368.6 1626.1L1369.0 1620.6L1369.4 1615.1L1369.8 1609.6L1370.2 1604.0L1370.6 1598.3L1371.0 1592.8L1371.4 1587.5L1371.8 1582.6L1372.2 1577.9L1372.6 1573.4L1373.0 1569.3L1373.4 1565.5L1373.8 1562.0L1374.2 1558.7L1374.6 1555.9L1375.0 1553.4L1375.4 1551.0L1375.8 1548.9L1376.2 1547.3L1376.6 1546.1L1377.0 1545.1L1377.4 1544.3L1377.8 1543.6L1378.2 1543.2L1378.6 1542.9L1379.0 1542.7L1379.4 1542.5L1379.8 1542.4L1380.2 1542.3L1380.6 1542.4L1381.0 1542.8L1381.4 1543.5L1381.8 1544.3L1382.2 1545.2L1382.6 1546.4L1383.0 1548.2L1383.4 1550.7L1383.8 1553.4L1384.2 1556.4L1384.6 1559.3L1385.0 1562.6L1385.4 1566.2L1385.8 1570.0L1386.2 1573.8L1386.6 1577.7L1387.0 1581.6L1387.4 1585.6L1387.8 1589.6L1388.2 1593.7L1388.6 1597.7L1389.0 1601.8L1389.4 1605.8L1389.8 1609.9L1390.2 1613.9L1390.6 1617.7L1391.0 1621.5L1391.4 1625.3L1391.8 1628.9L1392.2 1632.5L1392.6 1635.8L1393.0 1638.9L1393.4 1641.8L1393.8 1644.6L1394.2 1647.3L1394.6 1649.9L1395.0 1652.3L1395.4 1654.7L1395.8 1657.0L1396.2 1659.1L1396.6 1661.1L1397.0 1663.0L1397.4 1664.7L1397.8 1666.4L1398.2 1668.0L1398.6 1669.4L1399.0 1670.7L1399.4 1671.9L1399.8 1673.0L1400.2 1674.0L1400.6 1674.8L1401.0 1675.4L1401.4 1675.9L1401.8 1676.3L1402.2 1676.6L1402.6 1676.8L1403.0 1676.9L1403.4 1676.8L1403.8 1676.7L1404.2 1676.6L1404.6 1676.4L1405.0 1676.3L1405.4 1676.0L1405.8 1675.6L1406.2 1675.1L1406.6 1674.6L1407.0 1674.3L1407.4 1673.9L1407.8 1673.6L1408.2 1673.2L1408.6 1672.9L1409.0 1672.6L1409.4 1672.3L1409.8 1672.2L1410.2 1672.2L1410.6 1672.2L1411.0 1672.2L1411.4 1672.2L1411.8 1672.2L1412.2 1672.2L1412.6 1672.2L1413.0 1672.2L1413.4 1672.2L1413.8 1672.3L1414.2 1672.5L1414.6 1672.8L1415.0 1673.1L1415.4 1673.5L1415.8 1673.8L1416.2 1674.1L1416.6 1674.4L1417.0 1674.7L1417.4 1675.1L1417.8 1675.4L1418.2 1675.8L1418.6 1676.1L1419.0 1676.4L1419.4 1676.6L1419.8 1676.8L1420.2 1676.9L1420.6 1676.9L1421.0 1676.8L1421.4 1676.7L1421.8 1676.5L1422.2 1676.3L1422.6 1676.0L1423.0 1675.7L1423.4 1675.3L1423.8 1674.9L1424.2 1674.3L1424.6 1673.5L1425.0 1672.6L1425.4 1671.6L1425.8 1670.4L1426.2 1669.0L1426.6 1667.4L1427.0 1665.7L1427.4 1663.9L1427.8 1662.1L1428.2 1660.1L1428.6 1658.1L1429.0 1656.0L1429.4 1654.0L1429.8 1652.0L1430.2 1650.1L1430.6 1648.3L1431.0 1646.4L1431.4 1644.7L1431.8 1643.1L1432.2 1641.5L1432.6 1640.0L1433.0 1638.6L1433.4 1637.3L1433.8 1636.1L1434.2 1635.1L1434.6 1634.2L1435.0 1633.4L1435.4 1632.7L1435.8 1632.1L1436.2 1631.7L1436.6 1631.2L1437.0 1630.9L1437.4 1630.6L1437.8 1630.4L1438.2 1630.3L1438.6 1630.2L1439.0 1630.1L1439.4 1630.0L1439.8 1630.0L1440.2 1630.0L1440.6 1630.2L1441.0 1630.6L1441.4 1631.1L1441.8 1631.7L1442.2 1632.3L1442.6 1633.3L1443.0 1634.5L1443.4 1635.8L1443.8 1637.2L1444.2 1638.6L1444.6 1640.1L1445.0 1641.6L1445.4 1643.3L1445.8 1645.0L1446.2 1646.7L1446.6 1648.6L1447.0 1650.7L1447.4 1652.7L1447.8 1654.8L1448.2 1656.8L1448.6 1658.7L1449.0 1660.5L1449.4 1662.4L1449.8 1664.1L1450.2 1665.8L1450.6 1667.4L1451.0 1668.9L1451.4 1670.4L1451.8 1671.8L1452.2 1672.9L1452.6 1673.9L1453.0 1674.8L1453.4 1675.7L1453.8 1676.4L1454.2 1676.8L1454.6 1677.0L1455.0 1677.1L1455.4 1677.2L1455.8 1677.3L1456.2 1677.3L1456.6 1677.3L1457.0 1677.1L1457.4 1676.8L1457.8 1676.3L1458.2 1675.4L1458.6 1673.3L1459.0 1670.6L1459.4 1667.7L1459.8 1665.0L1460.2 1662.2L1460.6 1659.0L1461.0 1655.7L1461.4 1652.1L1461.8 1648.2L1462.2 1643.7L1462.6 1638.9L1463.0 1633.8L1463.4 1628.7L1463.8 1623.6L1464.2 1618.6L1464.6 1613.5L1465.0 1608.3L1465.4 1603.0L1465.8 1597.4L1466.2 1591.6L1466.6 1585.6L1467.0 1579.5L1467.4 1573.4L1467.8 1567.3L1468.2 1561.3L1468.6 1555.2L1469.0 1549.1L1469.4 1543.2L1469.8 1537.3L1470.2 1531.4L1470.6 1525.5L1471.0 1519.7L1471.4 1514.2L1471.8 1509.2L1472.2 1504.5L1472.6 1499.9L1473.0 1495.5L1473.4 1491.7L1473.8 1488.7L1474.2 1486.4L1474.6 1484.6L1475.0 1483.2L1475.2 1482.9" stroke="#1f28db" stroke-width="3.4" fill="none" stroke-linejoin="round"/>
<path d="M859.7 1681.4V1712.3M871.2 1271.6V1310.1M883.7 1621.3V1646.4M894.0 1313.8V1349.6M901.8 1607.4V1633.1M910.7 1447.9V1484.3M919.7 1645.0V1686.6M963.6 1668.0V1704.0M974.7 1440.7V1483.9M985.8 1645.4V1666.0M994.0 1586.8V1617.6M1002.6 1680.4V1697.9M1070.7 1665.0V1704.7M1081.6 1504.9V1526.1M1092.9 1647.5V1666.0M1104.0 1501.0V1541.9M1126.2 1503.5V1519.9M1148.9 1656.7V1679.4M1171.7 1534.9V1555.5M1182.8 1451.6V1494.6M1194.1 1274.1V1319.3M1205.4 1309.7V1353.9M1211.0 1437.2V1493.2M1228.1 1685.5V1711.2M1250.3 1668.0V1711.2M1284.3 1514.2V1554.9M1306.7 1648.5V1668.0M1362.7 1650.6V1675.2M1385.5 1570.7V1602.8M1396.4 1620.1V1656.3M1441.4 1610.4V1631.6M1475.2 1415.0V1465.0" stroke="#ea1b2d" stroke-width="3.6" fill="none"/>
<circle cx="859.7" cy="1696.8" r="6.65" fill="#ea1b2d"/>
<circle cx="871.2" cy="1291.0" r="6.65" fill="#ea1b2d"/>
<circle cx="883.7" cy="1634.1" r="6.65" fill="#ea1b2d"/>
<circle cx="894.0" cy="1331.7" r="6.65" fill="#ea1b2d"/>
<circle cx="901.8" cy="1619.7" r="6.65" fill="#ea1b2d"/>
<circle cx="910.7" cy="1466.0" r="6.65" fill="#ea1b2d"/>
<circle cx="919.7" cy="1664.5" r="6.65" fill="#ea1b2d"/>
<circle cx="963.6" cy="1685.5" r="6.65" fill="#ea1b2d"/>
<circle cx="974.7" cy="1462.7" r="6.65" fill="#ea1b2d"/>
<circle cx="985.8" cy="1655.7" r="6.65" fill="#ea1b2d"/>
<circle cx="994.0" cy="1602.2" r="6.65" fill="#ea1b2d"/>
<circle cx="1002.6" cy="1688.6" r="6.65" fill="#ea1b2d"/>
<circle cx="1070.7" cy="1684.5" r="6.65" fill="#ea1b2d"/>
<circle cx="1081.6" cy="1515.2" r="6.65" fill="#ea1b2d"/>
<circle cx="1092.9" cy="1656.7" r="6.65" fill="#ea1b2d"/>
<circle cx="1104.0" cy="1521.6" r="6.65" fill="#ea1b2d"/>
<circle cx="1115.1" cy="1638.6" r="6.65" fill="#ea1b2d"/>
<circle cx="1126.2" cy="1511.7" r="6.65" fill="#ea1b2d"/>
<circle cx="1148.9" cy="1668.0" r="6.65" fill="#ea1b2d"/>
<circle cx="1171.7" cy="1545.0" r="6.65" fill="#ea1b2d"/>
<circle cx="1182.8" cy="1473.0" r="6.65" fill="#ea1b2d"/>
<circle cx="1194.1" cy="1296.7" r="6.65" fill="#ea1b2d"/>
<circle cx="1205.4" cy="1331.7" r="6.65" fill="#ea1b2d"/>
<circle cx="1211.0" cy="1465.0" r="6.65" fill="#ea1b2d"/>
<circle cx="1228.1" cy="1698.9" r="6.65" fill="#ea1b2d"/>
<circle cx="1250.3" cy="1689.6" r="6.65" fill="#ea1b2d"/>
<circle cx="1284.3" cy="1534.3" r="6.65" fill="#ea1b2d"/>
<circle cx="1306.7" cy="1658.4" r="6.65" fill="#ea1b2d"/>
<circle cx="1340.4" cy="1375.9" r="6.65" fill="#ea1b2d"/>
<circle cx="1362.7" cy="1662.9" r="6.65" fill="#ea1b2d"/>
<circle cx="1385.5" cy="1587.2" r="6.65" fill="#ea1b2d"/>
<circle cx="1396.4" cy="1638.6" r="6.65" fill="#ea1b2d"/>
<circle cx="1418.8" cy="1675.9" r="6.65" fill="#ea1b2d"/>
<circle cx="1441.4" cy="1621.3" r="6.65" fill="#ea1b2d"/>
<circle cx="1475.2" cy="1440.1" r="6.65" fill="#ea1b2d"/>
<rect x="856.90" y="1244.40" width="629.90" height="470.60" fill="none" stroke="#000" stroke-width="3"/>
<text transform="translate(860.59,1751.80) scale(0.9050,1)" font-size="36.3" font-family="Liberation Sans, sans-serif" fill="#000">15</text>
<text transform="translate(973.32,1751.80) scale(0.9050,1)" font-size="36.3" font-family="Liberation Sans, sans-serif" fill="#000">20</text>
<text transform="translate(1085.80,1751.80) scale(0.9050,1)" font-size="36.3" font-family="Liberation Sans, sans-serif" fill="#000">25</text>
<text transform="translate(1198.29,1751.80) scale(0.9050,1)" font-size="36.3" font-family="Liberation Sans, sans-serif" fill="#000">30</text>
<text transform="translate(1310.77,1751.80) scale(0.9050,1)" font-size="36.3" font-family="Liberation Sans, sans-serif" fill="#000">35</text>
<text transform="translate(1423.41,1751.80) scale(0.9050,1)" font-size="36.3" font-family="Liberation Sans, sans-serif" fill="#000">40</text>
<text transform="translate(787.15,1266.60) scale(0.9050,1)" font-size="36.3" font-family="Liberation Sans, sans-serif" fill="#000">240</text>
<text transform="translate(787.15,1359.32) scale(0.9050,1)" font-size="36.3" font-family="Liberation Sans, sans-serif" fill="#000">210</text>
<text transform="translate(787.15,1452.04) scale(0.9050,1)" font-size="36.3" font-family="Liberation Sans, sans-serif" fill="#000">180</text>
<text transform="translate(787.15,1544.76) scale(0.9050,1)" font-size="36.3" font-family="Liberation Sans, sans-serif" fill="#000">150</text>
<text transform="translate(787.15,1637.48) scale(0.9050,1)" font-size="36.3" font-family="Liberation Sans, sans-serif" fill="#000">120</text>
<text transform="translate(1127.11,1785.30) scale(1.0999,1)" font-size="35.0" font-family="Liberation Sans, sans-serif" fill="#000">U (V)</text>
<text transform="translate(855.85,1227.50) scale(1.2406,1)" font-size="38" font-family="Liberation Serif, serif" font-weight="bold" fill="#000">e)</text>
<text transform="translate(907.72,1227.50) scale(0.9567,1)" font-size="37.6" font-family="Liberation Sans, sans-serif" font-style="italic" fill="#000">N</text>
<text transform="translate(946.07,1229.40) scale(1.8369,0.855)" font-size="33" font-family="Liberation Sans, sans-serif" fill="#000" stroke="#000" stroke-width="0.35">=</text>
<text transform="translate(991.23,1227.50) scale(1.1670,1)" font-size="38" font-family="Liberation Serif, serif" font-weight="bold" fill="#000">20</text>
<path d="M172.00 2301.50v-15M253.05 2301.50v-15M334.10 2301.50v-15M415.15 2301.50v-15M496.20 2301.50v-15M577.25 2301.50v-15M658.30 2301.50v-15M172.00 1831.30v15M253.05 1831.30v15M334.10 1831.30v15M415.15 1831.30v15M496.20 1831.30v15M577.25 1831.30v15M658.30 1831.30v15M123.60 1918.10h15M123.60 2005.30h15M123.60 2092.50h15M123.60 2179.70h15M123.60 2266.90h15M722.50 1918.10h-15M722.50 2005.30h-15M722.50 2092.50h-15M722.50 2179.70h-15M722.50 2266.90h-15" stroke="#000" stroke-width="3" fill="none"/>
<path d="M132.0 2248.4L133.0 2248.3L134.0 2248.2L135.0 2248.1L136.0 2248.0L137.0 2248.0L138.0 2247.9L139.0 2247.8L140.0 2247.8L141.0 2247.8L142.0 2247.7L143.0 2247.7L144.0 2247.7L145.0 2247.7L146.0 2247.7L147.0 2247.7L148.0 2247.7L149.0 2247.7L150.0 2247.7L151.0 2247.7L152.0 2247.7L153.0 2247.7L154.0 2247.7L155.0 2247.7L156.0 2247.6L157.0 2247.6L158.0 2247.5L159.0 2247.4L160.0 2247.2L161.0 2247.1L162.0 2247.0L163.0 2246.8L164.0 2246.7L165.0 2246.5L166.0 2246.2L167.0 2245.9L168.0 2245.5L169.0 2245.2L170.0 2244.9L171.0 2244.7L172.0 2244.6L173.0 2244.5L174.0 2244.6L175.0 2244.7L176.0 2244.8L177.0 2244.9L178.0 2245.0L179.0 2245.1L180.0 2245.1L181.0 2245.2L182.0 2245.1L183.0 2245.0L184.0 2244.8L185.0 2244.6L186.0 2244.3L187.0 2243.8L188.0 2243.0L189.0 2242.0L190.0 2240.8L191.0 2238.8L192.0 2236.2L193.0 2233.3L194.0 2229.8L195.0 2225.7L196.0 2221.1L197.0 2215.6L198.0 2209.4L199.0 2203.1L200.0 2196.9L201.0 2190.6L202.0 2184.7L203.0 2179.9L204.0 2175.7L205.0 2171.9L206.0 2168.2L207.0 2164.3L208.0 2160.4L209.0 2156.5L210.0 2152.5L211.0 2148.2L212.0 2143.9L213.0 2139.3L214.0 2134.3L215.0 2128.5L216.0 2121.2L217.0 2112.1L218.0 2101.7L219.0 2090.4L220.0 2077.5L221.0 2063.5L222.0 2048.6L223.0 2032.2L224.0 2014.9L225.0 1998.0L226.0 1980.8L227.0 1963.8L228.0 1948.0L229.0 1933.8L230.0 1920.6L231.0 1907.9L232.0 1894.9L233.0 1882.9L234.0 1874.3L235.0 1867.8L236.0 1864.3L237.0 1861.8L238.0 1860.6L239.0 1860.8L240.0 1861.8L241.0 1863.4L242.0 1865.0L243.0 1867.3L244.0 1870.2L245.0 1873.1L246.0 1875.9L247.0 1878.7L248.0 1881.6L249.0 1884.9L250.0 1888.7L251.0 1893.0L252.0 1898.1L253.0 1904.0L254.0 1911.2L255.0 1919.7L256.0 1929.4L257.0 1941.6L258.0 1955.6L259.0 1970.3L260.0 1985.9L261.0 2002.6L262.0 2020.2L263.0 2039.2L264.0 2059.4L265.0 2079.9L266.0 2100.0L267.0 2120.0L268.0 2140.0L269.0 2160.2L270.0 2180.9L271.0 2199.0L272.0 2214.9L273.0 2227.6L274.0 2238.5L275.0 2244.7L276.0 2247.2L277.0 2248.6L278.0 2248.6L279.0 2247.3L280.0 2245.2L281.0 2241.8L282.0 2235.8L283.0 2228.6L284.0 2221.5L285.0 2213.8L286.0 2205.4L287.0 2196.8L288.0 2187.4L289.0 2177.7L290.0 2168.7L291.0 2160.2L292.0 2152.1L293.0 2144.7L294.0 2137.9L295.0 2131.5L296.0 2126.2L297.0 2122.3L298.0 2118.9L299.0 2116.3L300.0 2114.6L301.0 2113.1L302.0 2112.3L303.0 2112.7L304.0 2114.0L305.0 2115.9L306.0 2118.7L307.0 2122.6L308.0 2127.2L309.0 2132.8L310.0 2139.6L311.0 2147.0L312.0 2154.9L313.0 2163.6L314.0 2172.7L315.0 2181.8L316.0 2191.3L317.0 2200.8L318.0 2209.6L319.0 2218.0L320.0 2226.0L321.0 2233.1L322.0 2240.2L323.0 2244.7L324.0 2246.8L325.0 2247.7L326.0 2247.0L327.0 2245.0L328.0 2241.5L329.0 2235.3L330.0 2228.1L331.0 2221.2L332.0 2213.6L333.0 2206.0L334.0 2199.2L335.0 2192.5L336.0 2186.5L337.0 2181.9L338.0 2177.8L339.0 2174.4L340.0 2173.1L341.0 2173.5L342.0 2174.5L343.0 2175.9L344.0 2178.3L345.0 2182.3L346.0 2187.1L347.0 2192.2L348.0 2198.2L349.0 2204.6L350.0 2210.7L351.0 2217.0L352.0 2223.1L353.0 2228.5L354.0 2233.5L355.0 2238.0L356.0 2241.3L357.0 2243.9L358.0 2246.0L359.0 2247.2L360.0 2247.5L361.0 2247.7L362.0 2247.5L363.0 2246.3L364.0 2244.5L365.0 2242.4L366.0 2239.1L367.0 2234.9L368.0 2230.5L369.0 2225.4L370.0 2219.8L371.0 2214.3L372.0 2209.0L373.0 2203.8L374.0 2199.2L375.0 2195.2L376.0 2191.4L377.0 2188.6L378.0 2187.0L379.0 2185.8L380.0 2185.2L381.0 2185.7L382.0 2186.9L383.0 2188.7L384.0 2191.7L385.0 2195.9L386.0 2200.3L387.0 2205.3L388.0 2210.9L389.0 2216.4L390.0 2222.0L391.0 2227.7L392.0 2232.7L393.0 2236.8L394.0 2240.6L395.0 2243.5L396.0 2245.5L397.0 2246.8L397.6 2247.3L398.4 2247.1L399.3 2246.4L400.1 2245.2L400.9 2243.7L401.8 2241.8L402.6 2239.5L403.4 2237.0L404.3 2234.2L405.1 2231.3L406.0 2228.4L406.8 2225.4L407.6 2222.5L408.5 2219.7L409.3 2217.2L410.1 2215.0L411.0 2213.0L411.8 2211.5L412.6 2210.3L413.5 2209.6L414.3 2209.4L415.2 2209.6L416.0 2210.2L416.9 2211.2L417.7 2212.5L418.6 2214.2L419.4 2216.2L420.2 2218.4L421.1 2220.9L421.9 2223.5L422.8 2226.2L423.6 2229.0L424.5 2231.8L425.4 2234.5L426.2 2237.1L427.1 2239.6L427.9 2241.8L428.8 2243.8L429.6 2245.5L430.4 2246.8L431.3 2247.8L432.1 2248.4L433.0 2248.6L433.9 2248.4L434.7 2247.7L435.6 2246.5L436.5 2245.0L437.3 2243.0L438.2 2240.8L439.1 2238.3L439.9 2235.6L440.8 2232.8L441.7 2230.0L442.6 2227.2L443.4 2224.5L444.3 2222.0L445.2 2219.8L446.0 2217.8L446.9 2216.3L447.8 2215.1L448.6 2214.4L449.5 2214.2L450.4 2214.4L451.2 2215.1L452.1 2216.3L453.0 2217.8L453.8 2219.8L454.7 2222.0L455.6 2224.5L456.4 2227.2L457.3 2230.0L458.2 2232.8L459.1 2235.6L459.9 2238.3L460.8 2240.8L461.7 2243.0L462.5 2245.0L463.4 2246.5L464.3 2247.7L465.1 2248.4L466.0 2248.6L466.9 2248.4L467.7 2247.9L468.6 2247.1L469.4 2246.1L470.3 2244.7L471.2 2243.1L472.0 2241.3L472.9 2239.4L473.7 2237.3L474.6 2235.2L475.5 2233.2L476.3 2231.1L477.2 2229.2L478.0 2227.4L478.9 2225.8L479.8 2224.4L480.6 2223.4L481.5 2222.6L482.3 2222.1L483.2 2221.9L484.0 2222.1L484.9 2222.6L485.7 2223.4L486.6 2224.4L487.4 2225.8L488.3 2227.4L489.1 2229.2L490.0 2231.1L490.8 2233.2L491.6 2235.2L492.5 2237.3L493.3 2239.4L494.2 2241.3L495.0 2243.1L495.9 2244.7L496.7 2246.1L497.6 2247.1L498.4 2247.9L499.3 2248.4L500.1 2248.6L501.0 2248.5L501.8 2248.1L502.7 2247.6L503.6 2246.8L504.4 2245.9L505.3 2244.8L506.2 2243.6L507.0 2242.3L507.9 2240.9L508.8 2239.5L509.7 2238.1L510.5 2236.8L511.4 2235.6L512.3 2234.5L513.1 2233.6L514.0 2232.8L514.9 2232.3L515.7 2231.9L516.6 2231.8L517.4 2231.9L518.3 2232.2L519.1 2232.6L520.0 2233.3L520.8 2234.0L521.6 2235.0L522.5 2236.0L523.3 2237.1L524.1 2238.3L525.0 2239.6L525.8 2240.8L526.7 2242.1L527.5 2243.3L528.3 2244.4L529.2 2245.4L530.0 2246.4L530.8 2247.1L531.7 2247.8L532.5 2248.2L533.4 2248.5L534.2 2248.6L535.0 2248.5L535.9 2248.1L536.7 2247.5L537.6 2246.7L538.4 2245.7L539.2 2244.5L540.1 2243.2L540.9 2241.7L541.7 2240.1L542.6 2238.5L543.4 2236.9L544.3 2235.3L545.1 2233.7L545.9 2232.2L546.8 2230.9L547.6 2229.7L548.4 2228.7L549.3 2227.9L550.1 2227.3L551.0 2226.9L551.8 2226.8L552.6 2227.0L553.5 2227.5L554.3 2228.3L555.1 2229.4L556.0 2230.7L556.8 2232.2L557.6 2234.0L558.5 2235.8L559.3 2237.7L560.1 2239.6L561.0 2241.4L561.8 2243.2L562.6 2244.7L563.5 2246.0L564.3 2247.1L565.1 2247.9L566.0 2248.4L566.8 2248.6L567.7 2248.4L568.5 2248.0L569.4 2247.3L570.3 2246.3L571.1 2245.0L572.0 2243.6L572.9 2242.1L573.7 2240.5L574.6 2238.8L575.4 2237.2L576.3 2235.7L577.2 2234.3L578.0 2233.0L578.9 2232.0L579.8 2231.3L580.6 2230.9L581.5 2230.7L582.3 2230.8L583.2 2231.1L584.0 2231.6L584.9 2232.3L585.7 2233.1L586.5 2234.1L587.4 2235.2L588.2 2236.4L589.0 2237.7L589.9 2239.0L590.7 2240.3L591.6 2241.6L592.4 2242.9L593.2 2244.1L594.1 2245.2L594.9 2246.2L595.7 2247.0L596.6 2247.7L597.4 2248.2L598.3 2248.5L599.1 2248.6L599.9 2248.5L600.8 2248.4L601.6 2248.1L602.5 2247.7L603.3 2247.2L604.1 2246.7L605.0 2246.1L605.8 2245.4L606.6 2244.6L607.5 2243.9L608.3 2243.1L609.2 2242.4L610.0 2241.6L610.8 2241.0L611.7 2240.3L612.5 2239.8L613.3 2239.3L614.2 2238.9L615.0 2238.6L615.9 2238.5L616.7 2238.4L617.6 2238.5L618.4 2238.7L619.3 2239.0L620.2 2239.5L621.0 2240.0L621.9 2240.7L622.8 2241.5L623.6 2242.2L624.5 2243.1L625.4 2243.9L626.3 2244.8L627.1 2245.5L628.0 2246.3L628.9 2247.0L629.7 2247.5L630.6 2248.0L631.5 2248.3L632.3 2248.5L633.2 2248.6L634.0 2248.5L634.9 2248.4L635.7 2248.1L636.6 2247.7L637.4 2247.2L638.2 2246.7L639.1 2246.1L639.9 2245.4L640.7 2244.6L641.6 2243.9L642.4 2243.1L643.3 2242.4L644.1 2241.6L644.9 2241.0L645.8 2240.3L646.6 2239.8L647.4 2239.3L648.3 2238.9L649.1 2238.6L650.0 2238.5L650.8 2238.4L651.7 2238.5L652.5 2238.7L653.4 2239.0L654.3 2239.5L655.1 2240.0L656.0 2240.7L656.9 2241.5L657.7 2242.2L658.6 2243.1L659.5 2243.9L660.4 2244.8L661.2 2245.5L662.1 2246.3L663.0 2247.0L663.8 2247.5L664.7 2248.0L665.6 2248.3L666.4 2248.5L667.3 2248.6L668.1 2248.5L669.0 2248.4L669.8 2248.1L670.7 2247.7L671.5 2247.2L672.3 2246.6L673.2 2245.9L674.0 2245.2L674.8 2244.4L675.7 2243.6L676.5 2242.8L677.4 2242.0L678.2 2241.2L679.0 2240.5L679.9 2239.8L680.7 2239.2L681.5 2238.7L682.4 2238.3L683.2 2238.0L684.1 2237.9L684.9 2237.8L685.7 2237.9L686.6 2238.0L687.4 2238.3L688.3 2238.7L689.1 2239.2L689.9 2239.8L690.8 2240.5L691.6 2241.2L692.4 2242.0L693.3 2242.8L694.1 2243.6L695.0 2244.4L695.8 2245.2L696.6 2245.9L697.5 2246.6" stroke="#a6a6a6" stroke-width="12.2" fill="none" stroke-linejoin="round"/>
<path d="M131.6 2291.5L180.0 2257.8L196.4 2278.7L212.4 2152.4L228.6 2073.2L236.5 1903.2L241.2 1895.7L245.1 1887.8L261.1 2022.7L269.2 2172.6L277.5 2232.8L290.3 2123.6L293.5 2057.9L309.7 2166.2L326.1 2230.0L341.7 2136.4L358.1 2250.9L374.6 2156.0L390.8 2236.0L406.9 2218.6L439.2 2241.3L455.2 2200.4L536.6 2244.1L617.7 2247.0L698.3 2221.6" stroke="#ea1b2d" stroke-width="1.7" fill="none" stroke-linejoin="round" stroke-dasharray="11.5 7.5"/>
<path d="M131.6 2285.1V2298.9M196.4 2272.3V2285.1M228.6 2061.1V2085.6M236.5 1886.1V1920.3M241.2 1865.9V1926.7M245.1 1873.3V1903.2M261.1 2016.3V2030.1M269.2 2164.5V2181.6M277.5 2221.1V2244.5M293.5 2051.5V2065.3M341.7 2125.1V2147.5M358.1 2239.2V2262.7M374.6 2146.4V2165.6M455.2 2193.0V2208.0M536.6 2231.4V2255.6M698.3 2214.0V2229.0" stroke="#ea1b2d" stroke-width="3.6" fill="none"/>
<circle cx="131.6" cy="2291.5" r="6.65" fill="#ea1b2d"/>
<circle cx="180.0" cy="2257.8" r="6.65" fill="#ea1b2d"/>
<circle cx="196.4" cy="2278.7" r="6.65" fill="#ea1b2d"/>
<circle cx="212.4" cy="2152.4" r="6.65" fill="#ea1b2d"/>
<circle cx="228.6" cy="2073.2" r="6.65" fill="#ea1b2d"/>
<circle cx="236.5" cy="1903.2" r="6.65" fill="#ea1b2d"/>
<circle cx="241.2" cy="1895.7" r="6.65" fill="#ea1b2d"/>
<circle cx="245.1" cy="1887.8" r="6.65" fill="#ea1b2d"/>
<circle cx="261.1" cy="2022.7" r="6.65" fill="#ea1b2d"/>
<circle cx="269.2" cy="2172.6" r="6.65" fill="#ea1b2d"/>
<circle cx="277.5" cy="2232.8" r="6.65" fill="#ea1b2d"/>
<circle cx="290.3" cy="2123.6" r="6.65" fill="#ea1b2d"/>
<circle cx="293.5" cy="2057.9" r="6.65" fill="#ea1b2d"/>
<circle cx="309.7" cy="2166.2" r="6.65" fill="#ea1b2d"/>
<circle cx="326.1" cy="2230.0" r="6.65" fill="#ea1b2d"/>
<circle cx="341.7" cy="2136.4" r="6.65" fill="#ea1b2d"/>
<circle cx="358.1" cy="2250.9" r="6.65" fill="#ea1b2d"/>
<circle cx="374.6" cy="2156.0" r="6.65" fill="#ea1b2d"/>
<circle cx="390.8" cy="2236.0" r="6.65" fill="#ea1b2d"/>
<circle cx="406.9" cy="2218.6" r="6.65" fill="#ea1b2d"/>
<circle cx="439.2" cy="2241.3" r="6.65" fill="#ea1b2d"/>
<circle cx="455.2" cy="2200.4" r="6.65" fill="#ea1b2d"/>
<circle cx="536.6" cy="2244.1" r="6.65" fill="#ea1b2d"/>
<circle cx="617.7" cy="2247.0" r="6.65" fill="#ea1b2d"/>
<circle cx="698.3" cy="2221.6" r="6.65" fill="#ea1b2d"/>
<rect x="123.60" y="1831.30" width="598.90" height="470.20" fill="none" stroke="#000" stroke-width="3"/>
<text transform="translate(149.17,2338.50) scale(0.9050,1)" font-size="36.3" font-family="Liberation Sans, sans-serif" fill="#000">5.5</text>
<text transform="translate(243.77,2338.50) scale(0.9050,1)" font-size="36.3" font-family="Liberation Sans, sans-serif" fill="#000">6</text>
<text transform="translate(311.10,2338.50) scale(0.9050,1)" font-size="36.3" font-family="Liberation Sans, sans-serif" fill="#000">6.5</text>
<text transform="translate(406.03,2338.50) scale(0.9050,1)" font-size="36.3" font-family="Liberation Sans, sans-serif" fill="#000">7</text>
<text transform="translate(473.20,2338.50) scale(0.9050,1)" font-size="36.3" font-family="Liberation Sans, sans-serif" fill="#000">7.5</text>
<text transform="translate(568.05,2338.50) scale(0.9050,1)" font-size="36.3" font-family="Liberation Sans, sans-serif" fill="#000">8</text>
<text transform="translate(635.39,2338.50) scale(0.9050,1)" font-size="36.3" font-family="Liberation Sans, sans-serif" fill="#000">8.5</text>
<text transform="translate(54.05,1837.60) scale(0.9050,1)" font-size="36.3" font-family="Liberation Sans, sans-serif" fill="#000">800</text>
<text transform="translate(54.05,1924.50) scale(0.9050,1)" font-size="36.3" font-family="Liberation Sans, sans-serif" fill="#000">700</text>
<text transform="translate(54.05,2011.70) scale(0.9050,1)" font-size="36.3" font-family="Liberation Sans, sans-serif" fill="#000">600</text>
<text transform="translate(54.05,2098.90) scale(0.9050,1)" font-size="36.3" font-family="Liberation Sans, sans-serif" fill="#000">500</text>
<text transform="translate(54.05,2186.10) scale(0.9050,1)" font-size="36.3" font-family="Liberation Sans, sans-serif" fill="#000">400</text>
<text transform="translate(54.05,2273.30) scale(0.9050,1)" font-size="36.3" font-family="Liberation Sans, sans-serif" fill="#000">300</text>
<text transform="translate(377.61,2372.00) scale(1.0999,1)" font-size="35.0" font-family="Liberation Sans, sans-serif" fill="#000">U (V)</text>
<text transform="translate(29.40,2206.33) rotate(-90) scale(1.0438,1)" font-size="35.0" font-family="Liberation Sans, sans-serif" fill="#000">Count rate (cts/s)</text>
<text transform="translate(124.77,1813.30) scale(1.1885,1)" font-size="38" font-family="Liberation Serif, serif" font-weight="bold" fill="#000">f)</text>
<text transform="translate(171.42,1813.30) scale(0.9567,1)" font-size="37.6" font-family="Liberation Sans, sans-serif" font-style="italic" fill="#000">N</text>
<text transform="translate(209.89,1815.20) scale(1.7619,0.855)" font-size="33" font-family="Liberation Sans, sans-serif" fill="#000" stroke="#000" stroke-width="0.35">=</text>
<text transform="translate(254.54,1813.30) scale(1.1579,1)" font-size="38" font-family="Liberation Serif, serif" font-weight="bold" fill="#000">53</text>
<text transform="translate(525.69,1877.60) scale(1.1693,1)" font-size="35.0" font-family="Liberation Sans, sans-serif" fill="#000">fit</text>
<text transform="translate(490.76,1908.50) scale(0.9599,1)" font-size="35.0" font-family="Liberation Sans, sans-serif" fill="#000">data</text>
<path d="M572.2 1872.3H644" stroke="#a6a6a6" stroke-width="12.2" fill="none"/>
<path d="M572.2 1903H644" stroke="#ea1b2d" stroke-width="3.7" fill="none"/><circle cx="608" cy="1903" r="6.6" fill="#ea1b2d"/>
<path d="M927.20 2301.00v-15M992.68 2301.00v-15M1039.14 2301.00v-15M1075.18 2301.00v-15M1187.12 2301.00v-15M1299.07 2301.00v-15M1353.41 2301.00v-15M1456.46 2301.00v-15M927.20 1831.60v15M992.68 1831.60v15M1039.14 1831.60v15M1075.18 1831.60v15M1187.12 1831.60v15M1299.07 1831.60v15M1353.41 1831.60v15M1456.46 1831.60v15M902.00 1883.36h15M902.00 1935.54h15M902.00 1987.72h15M902.00 2039.90h15M902.00 2092.08h15M902.00 2144.26h15M902.00 2196.44h15M902.00 2248.62h15M1486.60 1883.36h-15M1486.60 1935.54h-15M1486.60 1987.72h-15M1486.60 2039.90h-15M1486.60 2092.08h-15M1486.60 2144.26h-15M1486.60 2196.44h-15M1486.60 2248.62h-15" stroke="#000" stroke-width="3" fill="none"/>
<path d="M927.2 1964.7V2242.1M919.2 1964.7h16M919.2 2242.1h16M992.7 1960.9V2162.3M984.7 1960.9h16M984.7 2162.3h16M1039.1 1996.4V2080.0M1031.1 1996.4h16M1031.1 2080.0h16M1075.2 1972.3V2052.6M1067.2 1972.3h16M1067.2 2052.6h16M1187.1 2117.5V2158.0M1179.1 2117.5h16M1179.1 2158.0h16M1299.1 2116.7V2168.6M1291.1 2116.7h16M1291.1 2168.6h16M1353.4 2182.6V2225.6M1345.4 2182.6h16M1345.4 2225.6h16M1456.5 2061.0V2103.5M1448.5 2061.0h16M1448.5 2103.5h16" stroke="#1fa80a" stroke-width="3.6" fill="none"/>
<path d="M915.6 2109.0L938.8 2109.0L927.2 2093.0Z" fill="#1fa80a"/>
<path d="M981.1 2068.8L1004.3 2068.8L992.7 2052.8Z" fill="#1fa80a"/>
<path d="M1027.5 2044.1L1050.7 2044.1L1039.1 2028.1Z" fill="#1fa80a"/>
<path d="M1063.6 2019.4L1086.8 2019.4L1075.2 2003.4Z" fill="#1fa80a"/>
<path d="M1175.5 2144.9L1198.7 2144.9L1187.1 2128.9Z" fill="#1fa80a"/>
<path d="M1287.5 2149.9L1310.7 2149.9L1299.1 2133.9Z" fill="#1fa80a"/>
<path d="M1341.8 2211.3L1365.0 2211.3L1353.4 2195.3Z" fill="#1fa80a"/>
<path d="M1444.9 2089.4L1468.1 2089.4L1456.5 2073.4Z" fill="#1fa80a"/>
<path d="M927.2 2172.4V2242.1M919.2 2172.4h16M919.2 2242.1h16M992.7 2102.8V2138.2M984.7 2102.8h16M984.7 2138.2h16M1039.1 2040.7V2080.0M1031.1 2040.7h16M1031.1 2080.0h16M1075.2 2071.6V2111.1M1067.2 2071.6h16M1067.2 2111.1h16M1187.1 2137.0V2153.4M1179.1 2137.0h16M1179.1 2153.4h16M1299.1 2147.1V2166.6M1291.1 2147.1h16M1291.1 2166.6h16M1353.4 2237.0V2252.2M1345.4 2237.0h16M1345.4 2252.2h16M1456.5 2125.6V2143.8M1448.5 2125.6h16M1448.5 2143.8h16" stroke="#1f28db" stroke-width="3.6" fill="none"/>
<path d="M915.6 2201.4L938.8 2201.4L927.2 2217.4Z" fill="#1f28db"/>
<path d="M981.1 2114.7L1004.3 2114.7L992.7 2130.7Z" fill="#1f28db"/>
<path d="M1027.5 2054.4L1050.7 2054.4L1039.1 2070.4Z" fill="#1f28db"/>
<path d="M1063.6 2085.4L1086.8 2085.4L1075.2 2101.4Z" fill="#1f28db"/>
<path d="M1175.5 2139.1L1198.7 2139.1L1187.1 2155.1Z" fill="#1f28db"/>
<path d="M1287.5 2150.8L1310.7 2150.8L1299.1 2166.8Z" fill="#1f28db"/>
<path d="M1341.8 2238.5L1365.0 2238.5L1353.4 2254.5Z" fill="#1f28db"/>
<path d="M1444.9 2128.6L1468.1 2128.6L1456.5 2144.6Z" fill="#1f28db"/>
<path d="M927.2 2101.8L992.7 2061.6L1039.1 2036.9L1075.2 2012.2L1187.1 2137.7L1299.1 2142.7L1353.4 2204.1L1456.5 2082.2" stroke="#1fa80a" stroke-width="1.7" fill="none" stroke-linejoin="round" stroke-dasharray="11.5 7.5"/>
<path d="M927.2 2207.5L992.7 2120.8L1039.1 2060.5L1075.2 2091.5L1187.1 2145.2L1299.1 2156.9L1353.4 2244.6L1456.5 2134.7" stroke="#1f28db" stroke-width="1.7" fill="none" stroke-linejoin="round" stroke-dasharray="11.5 7.5"/>
<rect x="902.00" y="1831.60" width="584.60" height="469.40" fill="none" stroke="#000" stroke-width="3"/>
<text transform="translate(918.08,2336.60) scale(0.9050,1)" font-size="36.3" font-family="Liberation Sans, sans-serif" fill="#000">2</text>
<text transform="translate(983.57,2336.60) scale(0.9050,1)" font-size="36.3" font-family="Liberation Sans, sans-serif" fill="#000">3</text>
<text transform="translate(1030.19,2336.60) scale(0.9050,1)" font-size="36.3" font-family="Liberation Sans, sans-serif" fill="#000">4</text>
<text transform="translate(1066.06,2336.60) scale(0.9050,1)" font-size="36.3" font-family="Liberation Sans, sans-serif" fill="#000">5</text>
<text transform="translate(1168.23,2336.60) scale(0.9050,1)" font-size="36.3" font-family="Liberation Sans, sans-serif" fill="#000">10</text>
<text transform="translate(1280.59,2336.60) scale(0.9050,1)" font-size="36.3" font-family="Liberation Sans, sans-serif" fill="#000">20</text>
<text transform="translate(1335.01,2336.60) scale(0.9050,1)" font-size="36.3" font-family="Liberation Sans, sans-serif" fill="#000">28</text>
<text transform="translate(1438.23,2336.60) scale(0.9050,1)" font-size="36.3" font-family="Liberation Sans, sans-serif" fill="#000">53</text>
<text transform="translate(841.38,1837.60) scale(0.9050,1)" font-size="36.3" font-family="Liberation Sans, sans-serif" fill="#000">0.7</text>
<text transform="translate(822.82,1889.56) scale(0.9050,1)" font-size="36.3" font-family="Liberation Sans, sans-serif" fill="#000">0.65</text>
<text transform="translate(841.05,1941.74) scale(0.9050,1)" font-size="36.3" font-family="Liberation Sans, sans-serif" fill="#000">0.6</text>
<text transform="translate(822.82,1993.92) scale(0.9050,1)" font-size="36.3" font-family="Liberation Sans, sans-serif" fill="#000">0.55</text>
<text transform="translate(841.05,2046.10) scale(0.9050,1)" font-size="36.3" font-family="Liberation Sans, sans-serif" fill="#000">0.5</text>
<text transform="translate(822.82,2098.28) scale(0.9050,1)" font-size="36.3" font-family="Liberation Sans, sans-serif" fill="#000">0.45</text>
<text transform="translate(840.72,2150.46) scale(0.9050,1)" font-size="36.3" font-family="Liberation Sans, sans-serif" fill="#000">0.4</text>
<text transform="translate(822.82,2202.64) scale(0.9050,1)" font-size="36.3" font-family="Liberation Sans, sans-serif" fill="#000">0.35</text>
<text transform="translate(841.05,2254.82) scale(0.9050,1)" font-size="36.3" font-family="Liberation Sans, sans-serif" fill="#000">0.3</text>
<text transform="translate(822.82,2307.40) scale(0.9050,1)" font-size="36.3" font-family="Liberation Sans, sans-serif" fill="#000">0.25</text>
<text transform="translate(1181.01,2371.30) scale(0.9682,1)" font-size="37.6" font-family="Liberation Sans, sans-serif" font-style="italic" fill="#000">N</text>
<text transform="translate(792.90,2130.78) rotate(-90) scale(1.0179,1)" font-size="35.0" font-family="Liberation Sans, sans-serif" fill="#000">Visibility</text>
<text transform="translate(901.13,1813.30) scale(1.1214,1)" font-size="38" font-family="Liberation Serif, serif" font-weight="bold" fill="#000">g)</text>
<text transform="translate(1074.87,1903.90) scale(1.0177,1)" font-size="35.0" font-family="Liberation Sans, sans-serif" fill="#000">from data points</text>
<text transform="translate(1200.55,1934.30) scale(1.0426,1)" font-size="35.0" font-family="Liberation Sans, sans-serif" fill="#000">from fits</text>
<path d="M1368.1 1903.7L1391.3 1903.7L1379.7 1887.7Z" fill="#1fa80a"/>
<path d="M1368.1 1923.7L1391.3 1923.7L1379.7 1939.7Z" fill="#1f28db"/>
</svg></body></html>
